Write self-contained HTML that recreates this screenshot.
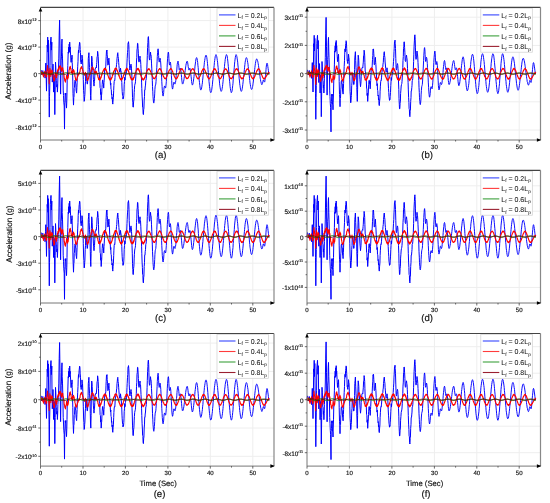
<!DOCTYPE html>
<html><head><meta charset="utf-8"><style>
html,body{margin:0;padding:0;background:#fff;}
svg{display:block;}
#wrap{width:550px;height:503px;}
text{font-family:"Liberation Sans",Arial,sans-serif;text-rendering:geometricPrecision;fill:#111;stroke:#111;stroke-width:0.15px;}
.gr{stroke:#eeeeee;stroke-width:1.0;}
.bl{fill:none;stroke:#0000ff;stroke-width:1.0;stroke-linejoin:round;}
.bl2{fill:none;stroke:#0000ff;stroke-width:0.95;stroke-linejoin:round;}
.rd{fill:none;stroke:#ff0000;stroke-width:1.1;stroke-linejoin:round;}
.gn{fill:none;stroke:#008000;stroke-width:0.9;}
.dr{fill:none;stroke:#600808;stroke-width:0.95;}
.lg{fill:#fff;stroke:#d0d0d0;stroke-width:0.7;}
.fr{stroke:#444;stroke-width:1.1;}
.fr2{stroke:#888;stroke-width:1.2;}
.ax{stroke:#777;stroke-width:1.0;}
.tk{stroke:#444;stroke-width:0.8;}
.tl{font-size:6.1px;}
.sp{font-size:3.8px;}
.yt{font-size:6.4px;}
.sb{font-size:4.8px;}
.lt{font-size:7px;stroke-width:0.05px;fill:#1a1a1a;}
.cap{font-size:9.6px;}
.yl{font-size:8.2px;}
.xl{font-size:7.7px;}
</style></head><body>
<div id="wrap"><svg width="550" height="503" viewBox="0 0 550 503">
<g>
<rect width="550" height="503" fill="#fff"/>
<line x1="83.0" y1="7.4" x2="83.0" y2="140.0" class="gr"/>
<line x1="125.4" y1="7.4" x2="125.4" y2="140.0" class="gr"/>
<line x1="167.9" y1="7.4" x2="167.9" y2="140.0" class="gr"/>
<line x1="210.3" y1="7.4" x2="210.3" y2="140.0" class="gr"/>
<line x1="252.8" y1="7.4" x2="252.8" y2="140.0" class="gr"/>
<line x1="40.5" y1="20.6" x2="274.0" y2="20.6" class="gr"/>
<line x1="40.5" y1="47.1" x2="274.0" y2="47.1" class="gr"/>
<line x1="40.5" y1="100.1" x2="274.0" y2="100.1" class="gr"/>
<line x1="40.5" y1="126.6" x2="274.0" y2="126.6" class="gr"/>
<path class="bl" d="M40.5 73.6L40.8 71.6L41.0 70.1L41.3 71.6L41.6 74.2L42.0 74.6L42.3 73.3L42.5 71.6L42.8 70.6L43.1 72.0L43.3 74.2L43.6 76.1L44.0 74.7L44.3 72.1L44.6 73.5L45.0 78.1L45.3 76.3L45.5 69.0L45.8 63.1L46.1 73.3L46.5 91.1L46.9 68.0L47.2 45.1L47.5 48.2L47.7 37.1L48.0 52.1L48.3 40.1L48.7 70.1L49.0 92.3L49.3 117.1L49.5 96.4L49.8 85.1L50.0 65.3L50.3 45.1L50.7 40.1L51.0 37.1L51.4 50.1L51.8 42.1L52.0 65.5L52.3 82.1L52.6 73.5L53.0 64.1L53.3 75.7L53.6 92.1L53.9 80.8L54.2 75.1L54.5 89.9L54.8 114.6L55.2 90.1L55.5 62.1L55.8 67.2L56.0 74.9L56.3 80.1L56.6 80.7L56.8 87.1L57.1 84.5L57.4 92.1L57.7 86.2L57.9 78.0L58.2 72.1L58.5 68.1L58.8 58.1L59.2 35.1L59.6 20.1L60.0 48.1L60.3 74.7L60.6 94.1L60.9 75.0L61.2 60.1L61.5 56.2L61.7 43.9L62.0 39.1L62.2 52.2L62.5 58.1L62.9 72.0L63.2 90.1L63.5 95.4L63.8 102.1L64.2 106.0L64.5 129.1L64.8 102.7L65.0 100.1L65.2 93.2L65.5 95.1L65.8 93.1L66.0 102.7L66.2 103.6L66.5 108.1L66.8 100.8L67.0 92.2L67.2 78.8L67.5 75.1L67.8 65.3L68.2 52.1L68.5 53.3L68.7 47.1L69.0 52.4L69.2 44.1L69.5 52.1L69.7 42.1L70.0 49.4L70.2 47.1L70.6 55.1L71.0 62.1L71.2 62.4L71.5 58.2L71.8 58.9L72.0 55.1L72.2 62.4L72.5 69.7L72.8 81.1L73.0 93.6L73.2 97.7L73.5 105.1L73.8 97.4L74.0 96.8L74.2 88.6L74.5 87.3L74.8 81.4L75.0 80.1L75.3 80.6L75.5 83.5L75.8 83.5L76.1 90.1L76.3 91.1L76.6 93.1L76.9 87.4L77.1 82.9L77.4 73.1L77.7 66.8L78.0 61.3L78.2 55.0L78.5 50.1L78.8 52.8L79.1 46.6L79.3 45.0L79.6 42.3L79.9 43.1L80.2 49.5L80.5 52.6L80.7 61.9L81.0 62.1L81.2 64.0L81.5 60.3L81.8 61.5L82.0 55.1L82.3 58.0L82.5 58.5L82.8 65.8L83.1 71.9L83.3 79.6L83.6 90.7L83.9 94.8L84.1 101.4L84.4 101.1L84.7 96.6L84.9 94.4L85.2 85.1L85.5 81.6L85.7 74.2L86.0 75.1L86.3 73.3L86.6 78.5L86.9 81.5L87.2 84.1L87.5 83.9L87.8 77.6L88.1 69.6L88.3 58.6L88.6 55.7L88.9 52.7L89.2 61.1L89.5 67.6L89.8 72.1L90.0 74.5L90.3 86.7L90.5 95.4L90.8 100.1L91.1 88.4L91.4 66.6L91.7 56.1L92.0 58.0L92.2 61.4L92.5 68.8L92.8 70.1L93.1 73.5L93.4 79.4L93.7 82.8L94.0 86.1L94.2 83.5L94.5 81.4L94.8 76.1L95.0 71.6L95.2 69.6L95.5 68.1L95.8 67.9L96.0 67.4L96.3 68.0L96.6 64.6L96.8 62.6L97.1 56.5L97.4 56.4L97.6 51.3L97.9 53.1L98.2 56.7L98.5 63.1L98.7 71.2L99.0 72.1L99.3 74.7L99.5 77.1L99.8 79.9L100.1 87.5L100.4 88.4L100.7 94.5L100.9 92.3L101.2 100.1L101.5 95.2L101.7 94.1L102.0 87.4L102.2 84.3L102.5 80.1L102.8 79.9L103.1 83.4L103.4 83.4L103.7 88.1L104.0 82.6L104.2 80.1L104.5 74.3L104.7 69.0L105.0 68.1L105.2 70.1L105.5 68.1L105.8 66.2L106.0 60.1L106.2 56.4L106.5 50.6L106.8 51.0L107.0 50.1L107.2 54.8L107.5 58.2L107.8 65.1L108.0 65.1L108.3 64.5L108.6 60.5L108.9 58.1L109.2 63.0L109.4 65.2L109.7 71.5L110.0 75.9L110.2 78.8L110.5 85.1L110.8 83.2L111.0 89.4L111.3 89.6L111.5 94.7L111.8 94.0L112.0 98.7L112.3 97.4L112.5 102.7L112.8 104.1L113.1 99.9L113.4 97.2L113.7 90.3L113.9 85.6L114.2 81.3L114.5 80.1L114.8 80.4L115.0 77.7L115.2 74.0L115.5 72.1L115.8 69.9L116.0 67.7L116.3 67.2L116.5 64.6L116.8 62.8L117.0 58.6L117.3 56.3L117.5 53.7L117.8 52.7L118.1 56.6L118.4 58.3L118.7 62.5L118.9 65.4L119.2 68.6L119.5 72.1L119.8 71.8L120.0 71.7L120.2 71.7L120.5 68.1L120.8 70.7L121.0 70.8L121.2 73.7L121.5 77.6L121.8 82.4L122.0 88.0L122.2 91.5L122.5 95.4L122.8 96.6L123.0 99.1L123.2 97.7L123.5 98.2L123.8 95.1L124.0 91.6L124.2 84.8L124.5 81.5L124.8 77.3L125.0 80.1L125.2 77.0L125.5 76.1L125.8 73.9L126.0 72.1L126.2 72.9L126.5 69.7L126.8 66.9L127.0 62.1L127.2 58.3L127.5 52.6L127.8 49.9L128.0 43.2L128.2 43.3L128.5 41.7L128.8 44.7L129.0 49.7L129.2 59.2L129.5 65.2L129.8 70.0L130.0 70.1L130.2 68.8L130.5 65.9L130.8 64.8L131.0 64.1L131.3 65.9L131.5 68.9L131.8 73.5L132.0 81.6L132.3 88.8L132.5 97.3L132.8 102.8L133.0 107.1L133.3 107.1L133.6 101.9L133.9 99.8L134.2 92.6L134.4 89.3L134.7 85.4L135.0 84.1L135.3 83.0L135.5 81.3L135.8 76.9L136.0 72.3L136.3 67.8L136.5 61.0L136.8 57.3L137.0 49.9L137.3 48.1L137.5 43.3L137.8 43.4L138.1 48.7L138.4 53.8L138.7 61.1L139.0 62.1L139.2 61.9L139.5 58.5L139.8 57.2L140.0 56.1L140.3 58.5L140.5 59.4L140.8 64.4L141.0 68.7L141.3 74.1L141.6 82.1L141.8 88.4L142.1 96.1L142.4 101.0L142.6 107.1L142.9 107.9L143.1 113.3L143.4 114.6L143.7 109.5L143.9 108.7L144.2 100.1L144.5 96.4L144.7 90.0L145.0 90.1L145.2 87.0L145.5 85.1L145.8 80.4L146.0 80.1L146.3 78.2L146.5 75.0L146.8 70.0L147.1 62.1L147.3 55.7L147.6 47.5L147.9 42.5L148.1 37.9L148.4 36.6L148.7 40.9L148.9 48.4L149.2 57.6L149.5 60.1L149.8 59.8L150.0 56.1L150.2 55.0L150.5 52.1L150.8 55.1L151.0 55.0L151.3 58.7L151.5 63.1L151.8 68.9L152.0 74.5L152.3 80.3L152.5 86.6L152.8 91.7"/>
<path class="bl2" d="M152.8 91.7L153.0 96.7L153.3 100.0L153.5 102.4L153.8 103.1L154.1 101.7L154.4 98.6L154.7 93.9L154.9 89.6L155.2 86.1L155.5 85.1L155.8 84.1L156.0 81.6L156.3 77.3L156.5 72.6L156.8 67.3L157.1 61.3L157.3 56.6L157.6 52.3L157.8 49.9L158.1 48.8L158.4 51.0L158.6 55.5L158.9 60.5L159.2 62.1L159.5 61.2L159.7 59.1L160.0 58.1L160.3 59.0L160.5 60.6L160.8 64.0L161.0 67.6L161.3 72.5L161.6 77.1L161.8 81.7L162.1 86.6L162.3 90.3L162.6 93.6L162.8 95.3L163.1 96.1L163.4 94.8L163.7 92.6L163.9 89.4L164.2 87.1L164.5 86.1L164.8 86.1L165.0 87.1L165.2 87.4L165.5 88.1L165.8 87.2L166.0 85.2L166.3 81.7L166.6 77.6L166.8 73.0L167.1 67.5L167.3 62.9L167.6 58.3L167.9 55.1L168.1 52.8L168.4 52.1L168.7 54.1L168.9 58.6L169.2 63.3L169.5 65.1L169.8 64.7L170.0 62.9L170.3 62.1L170.6 63.5L170.9 66.1L171.1 70.6L171.4 75.6L171.7 80.4L171.9 85.1L172.2 87.7L172.5 89.1L172.8 88.3L173.0 87.4L173.2 85.4L173.5 83.9L173.8 82.3L174.0 82.1L174.2 82.3L174.5 83.1L174.8 83.7L175.0 84.1L175.2 83.3L175.5 82.6L175.8 80.4L176.0 78.4L176.2 75.3L176.5 72.6L176.8 70.0L177.0 66.9L177.2 64.7L177.5 62.6L177.8 61.9L178.0 61.1L178.2 62.1L178.5 63.4L178.8 65.8L179.0 67.9L179.2 69.7L179.5 70.1L179.8 69.8L180.0 68.6L180.3 68.1L180.6 68.8L180.8 70.0L181.1 72.4L181.3 74.7L181.6 77.3L181.8 80.1L182.1 82.0L182.3 83.6L182.6 84.1L182.9 83.8L183.1 83.4L183.4 82.2L183.6 81.4L183.9 79.8L184.1 78.4L184.4 76.3L184.6 74.6L184.9 72.9L185.2 70.6L185.4 69.0L185.7 66.9L185.9 65.4L186.2 63.8L186.4 63.0L186.7 61.8L186.9 61.5L187.2 61.1L187.5 61.8L187.7 62.8L188.0 64.9L188.2 66.6L188.5 68.5L188.7 69.7L189.0 70.1L189.3 69.8L189.5 68.6L189.8 68.1L190.1 68.7L190.3 69.7L190.6 71.7L190.8 74.0L191.1 76.3L191.4 79.2L191.6 81.4L191.9 83.5L192.1 84.4L192.4 85.1L192.7 84.5L192.9 84.1L193.2 82.5L193.4 81.1L193.7 78.8L194.0 76.6L194.2 73.8L194.5 71.4L194.8 68.9L195.0 66.1L195.3 64.0L195.6 61.6L195.8 60.0L196.1 58.6L196.3 58.1L196.6 57.6L196.9 58.1L197.1 58.8L197.4 60.5L197.7 62.4L197.9 65.2L198.2 67.6L198.4 70.9L198.7 73.9L199.0 76.8L199.2 80.1L199.5 82.6L199.8 85.3L200.0 87.0L200.3 88.9L200.5 89.6L200.8 90.1L201.1 89.6L201.3 89.2L201.6 87.9L201.8 86.8L202.1 84.7L202.4 82.9L202.6 80.2L202.9 78.0L203.1 75.1L203.4 72.6L203.7 70.1L203.9 67.2L204.2 64.9L204.4 62.3L204.7 60.6L205.0 58.4L205.2 57.3L205.5 56.0L205.7 55.7L206.0 55.1L206.3 55.7L206.5 56.1L206.8 57.5L207.0 59.1L207.3 61.4L207.5 63.6L207.8 66.7L208.0 69.3L208.3 72.7L208.5 75.5L208.8 78.4L209.0 81.5L209.3 84.0L209.5 86.6L209.8 88.5L210.0 90.4L210.3 91.6L210.5 92.4L210.8 92.7L211.1 92.3L211.3 91.8L211.6 90.5L211.8 89.1L212.1 86.8L212.4 84.8L212.6 82.0L212.9 79.5L213.1 76.3L213.4 73.7L213.7 70.8L213.9 67.8L214.2 65.3L214.4 62.5L214.7 60.5L215.0 58.2L215.2 56.8L215.5 55.5L215.7 55.2L216.0 54.6L216.3 55.2L216.5 55.5L216.8 56.8L217.0 58.1L217.3 60.4L217.6 62.2L217.8 64.9L218.1 67.3L218.3 70.4L218.6 73.0L218.9 75.5L219.1 78.7L219.4 81.0L219.6 83.8L219.9 85.9L220.2 87.9L220.4 89.2L220.7 90.5L220.9 90.9L221.2 91.4L221.5 91.0L221.7 90.6L222.0 89.4L222.2 88.2L222.5 86.3L222.7 84.5L223.0 81.9L223.2 79.7L223.5 77.0L223.7 74.4L224.0 71.9L224.2 68.9L224.5 66.5L224.7 63.8L225.0 61.6L225.2 59.5L225.5 58.0L225.7 56.4L226.0 55.7L226.2 54.8L226.5 54.6L226.8 55.1L227.0 55.6L227.3 57.0L227.5 58.6L227.8 61.1L228.0 63.2L228.3 66.3L228.6 69.0L228.8 72.5L229.1 75.2L229.3 78.2L229.6 81.3L229.9 83.9L230.1 86.6L230.4 88.6L230.6 90.4L230.9 91.3L231.1 92.4L231.4 92.7L231.7 92.2L231.9 91.6L232.2 90.0L232.4 88.2L232.7 85.7L233.0 83.2L233.2 79.8L233.5 77.0L233.8 73.3L234.0 70.3L234.3 67.3L234.5 64.1L234.8 61.5L235.1 59.1L235.3 57.5L235.6 55.7L235.8 55.2L236.1 54.6L236.4 55.1L236.6 55.5L236.9 56.7L237.1 58.1L237.4 60.1L237.7 62.2L237.9 65.0L238.2 67.3L238.4 70.3L238.7 73.0L239.0 75.8L239.2 78.7L239.5 81.0L239.7 83.8L240.0 85.7L240.3 87.9L240.5 89.1L240.8 90.5L241.0 91.0L241.3 91.4L241.6 90.8L241.8 90.6L242.1 89.4L242.3 88.2L242.6 86.1L242.8 84.4L243.1 81.9L243.3 79.7L243.6 76.9L243.9 74.5L244.1 72.1L244.4 69.3L244.6 67.2L244.9 64.6L245.1 62.7L245.4 60.8L245.6 59.6L245.9 58.4L246.1 58.1L246.4 57.6L246.7 58.0L246.9 58.4L247.2 59.5L247.4 60.6L247.7 62.4L248.0 64.2L248.2 66.4L248.5 68.6L248.7 71.2L249.0 73.6L249.3 75.9L249.5 78.5L249.8 80.6L250.0 82.9L250.3 84.5L250.6 86.5L250.8 87.6L251.1 88.7L251.3 89.1L251.6 89.5L251.9 89.2L252.1 88.8L252.4 87.6L252.6 86.6L252.9 84.9L253.1 83.2L253.4 81.0L253.6 78.9L253.9 76.5L254.1 74.2L254.4 72.1L254.7 69.5L254.9 67.5L255.2 65.2L255.4 63.5L255.7 61.8L255.9 60.8L256.2 59.6L256.4 59.5L256.7 58.9L257.0 59.2L257.2 59.5L257.5 60.5L257.7 61.1L258.0 62.6L258.2 63.7L258.5 65.6L258.7 67.1L259.0 69.2L259.2 70.8L259.5 72.9L259.7 74.6L260.0 76.2L260.2 78.2L260.5 79.5L260.7 81.2L261.0 82.0L261.2 83.3L261.5 83.8L261.7 84.5L262.0 84.6L262.2 83.9L262.5 83.5L262.8 82.0L263.0 81.2L263.2 80.1L263.5 80.1L263.8 80.2L264.0 81.1L264.2 81.6L264.5 82.1L264.8 81.5L265.0 80.3L265.2 78.0L265.5 75.5L265.8 72.7L266.0 69.7L266.2 67.3L266.5 64.9L266.8 63.7L267.0 63.1L267.3 63.6L267.6 64.6L267.8 66.5L268.1 68.4L268.4 70.7L268.6 72.1L268.9 73.6L269.2 73.6"/>
<path class="rd" d="M40.5 74.3L40.8 72.6L41.1 74.0L41.4 71.9L41.7 73.7L42.0 72.1L42.3 73.3L42.6 72.4L42.9 75.2L43.2 74.7L43.5 77.0L43.8 74.3L44.1 75.5L44.4 72.1L44.7 73.0L45.0 71.0L45.3 73.4L45.6 73.1L46.0 77.2L46.3 76.0L46.6 76.6L46.9 71.4L47.2 69.3L47.5 65.6L47.8 68.8L48.2 70.6L48.5 73.9L48.9 76.7L49.2 83.7L49.5 73.6L49.9 68.2L50.3 70.0L50.8 76.4L51.1 73.7L51.4 74.0L51.7 70.0L52.0 71.9L52.3 70.6L52.6 73.0L52.9 73.9L53.3 78.1L53.6 77.9L53.9 81.1L54.2 79.9L54.5 80.5L54.9 76.3L55.2 75.4L55.5 72.6L55.8 75.3L56.2 74.5L56.5 77.7L56.8 74.6L57.1 75.4L57.4 70.6L57.7 71.3L58.0 69.0L58.3 70.7L58.7 67.6L59.0 69.5L59.3 66.5L59.6 67.9L60.0 65.6L60.3 67.3L60.6 66.2L61.0 70.2L61.3 70.1L61.7 71.4L62.0 67.7L62.4 69.1L62.7 67.7L63.0 70.6L63.3 70.6L63.6 73.6L63.9 73.7L64.2 78.1L64.5 78.1L64.8 80.9L65.1 80.3L65.4 82.2L65.8 79.2L66.2 79.0L66.6 75.2L66.9 78.0L67.3 76.7L67.6 79.3L67.9 77.7L68.2 77.9L68.5 74.6L68.8 73.5L69.1 69.8L69.4 69.8L69.7 67.0L70.0 67.6L70.3 66.2L70.7 69.2L71.0 68.5L71.3 72.5L71.7 71.4L72.0 73.5L72.3 71.5L72.6 73.0L72.9 70.3L73.2 71.8L73.5 69.6L73.8 72.2L74.1 70.8L74.4 73.8L74.7 73.8L75.0 76.6L75.3 77.3L75.6 79.9L75.9 79.2L76.2 80.7L76.5 79.6L76.8 79.9L77.1 77.8L77.4 77.7L77.8 75.6L78.1 75.9L78.4 74.1L78.7 74.5L79.0 73.0L79.3 74.0L79.7 71.9L80.0 71.9L80.3 69.0L80.6 68.8L81.0 67.3L81.3 68.0L81.6 66.6L81.9 68.4L82.3 68.2L82.6 70.5L82.9 70.5L83.2 72.6L83.5 72.6L83.9 74.4L84.2 73.8L84.5 75.1L84.8 73.6L85.2 73.9L85.5 72.3L85.8 73.7L86.2 73.7L86.5 76.8L86.9 77.8L87.2 80.4L87.6 79.7L87.9 80.2L88.2 78.6L88.5 78.8L88.8 76.5L89.1 76.1L89.4 74.1L89.7 74.6L90.0 73.1L90.3 74.2L90.6 72.3L90.9 72.1L91.2 69.8L91.6 70.1L91.9 67.7L92.2 68.0L92.5 67.0L92.8 68.1L93.1 67.7L93.4 69.7L93.8 69.2L94.1 71.3L94.4 71.4L94.7 73.2L95.0 71.9L95.3 73.1L95.7 71.4L96.0 72.0L96.3 71.3L96.7 73.1L97.0 72.8L97.3 74.9L97.7 75.1L98.0 77.4L98.3 77.4L98.6 79.7L99.0 79.0L99.3 79.9L99.6 78.7L99.9 80.1L100.2 78.0L100.5 78.9L100.8 76.8L101.1 77.7L101.4 75.6L101.7 75.8L102.0 73.3L102.3 73.8L102.7 71.6L103.0 71.8L103.3 70.1L103.6 70.3L103.9 69.0L104.2 69.6L104.5 68.2L104.8 69.4L105.1 68.4L105.4 69.8L105.7 68.6L106.0 70.7L106.3 69.7L106.6 72.2L106.9 71.6L107.2 73.4L107.5 73.4L107.8 75.4L108.1 75.5L108.5 77.5L108.8 77.0L109.1 78.8L109.4 78.0L109.7 79.9L110.0 79.0L110.3 80.0L110.6 78.7L110.9 79.8L111.2 78.1L111.5 78.8L111.8 77.2L112.1 77.5L112.4 75.2L112.7 75.4L113.0 73.3L113.3 74.0L113.6 71.4L113.9 72.1L114.2 70.3L114.5 70.6L114.9 68.5L115.2 69.2L115.5 68.2L115.8 69.0L116.1 68.1L116.4 69.5L116.7 68.8L117.0 70.6L117.3 70.3L117.6 71.7L117.9 71.9L118.2 73.5L118.5 73.8L118.8 75.9L119.1 75.2L119.4 77.2L119.7 77.0L120.0 78.8L120.3 78.4L120.6 79.8L121.0 78.8L121.3 80.2L121.6 79.0L121.9 79.7L122.2 78.4L122.5 78.7L122.8 77.1L123.1 77.6L123.4 75.6L123.7 75.5L124.0 73.9L124.3 73.8L124.6 71.8L124.9 72.3L125.2 70.3L125.5 70.9L125.8 69.0L126.1 69.8L126.4 68.5L126.8 69.5L127.1 68.3L127.4 69.8L127.7 68.9L128.0 70.7L128.3 70.4L128.6 72.2L128.9 71.7L129.2 73.6L129.5 73.7L129.8 75.7L130.1 75.3L130.4 77.8L130.7 77.2L131.0 79.2L131.3 78.1L131.6 79.7L131.9 79.0L132.2 79.9L132.5 78.7L132.9 80.0L133.2 78.1L133.5 79.1L133.8 77.0L134.1 77.7L134.4 75.5L134.7 75.5L135.0 73.6L135.3 73.6L135.6 72.1L135.9 72.3L136.2 70.5L136.5 70.5L136.8 69.3L137.1 70.0L137.4 68.6L137.7 69.2L138.0 68.2L138.3 69.6L138.6 68.8L139.0 70.8L139.3 70.0L139.6 72.4L139.9 71.8L140.2 74.1L140.5 74.0L140.8 75.9L141.1 75.5L141.4 77.6L141.7 77.4L142.0 79.1L142.3 78.0L142.6 79.6L142.9 79.0L143.2 80.2L143.5 78.7L143.8 79.7L144.1 78.5L144.4 78.8L144.7 77.0L145.1 77.7L145.4 75.6L145.7 75.7L146.0 73.7L146.3 73.8L146.6 71.9L146.9 71.7L147.2 70.5L147.5 70.6L147.8 69.4L148.1 69.6L148.4 68.8L148.7 69.3L149.0 68.6L149.3 69.5L149.6 69.3L149.9 70.3L150.2 70.3L150.5 71.7L150.8 71.9L151.2 73.1L151.5 73.4L151.8 75.0L152.1 75.1L152.4 76.4L152.7 76.5L153.0 77.7L153.3 77.7L153.6 78.5L153.9 78.2L154.2 78.8L154.5 78.3L154.8 78.7L155.1 77.5L155.4 77.7L155.7 76.5L156.0 76.4L156.3 75.0L156.6 74.9L156.9 73.5L157.2 73.1L157.6 71.9L157.9 71.6L158.2 70.4L158.5 70.2L158.8 69.3L159.1 69.4L159.4 68.6L159.7 69.1L160.0 68.5L160.3 69.5L160.6 69.2L160.9 70.3L161.2 70.2L161.5 71.7L161.8 71.8L162.1 73.2L162.4 73.4L162.7 75.0L163.0 75.1L163.3 76.5L163.7 76.4L164.0 77.7L164.3 77.7L164.6 78.5L164.9 78.2L165.2 78.9L165.5 78.1L165.8 78.7L166.1 77.7L166.4 77.7L166.7 76.7L167.0 76.4L167.3 75.1L167.6 75.0L167.9 73.3L168.2 73.1L168.5 71.7L168.8 71.6L169.1 70.4L169.4 70.4L169.8 69.4L170.1 69.4L170.4 68.6L170.7 69.1L171.0 68.7L171.3 69.5L171.6 69.2L171.9 70.2L172.2 70.4L172.5 71.6L172.8 71.8L173.1 73.1L173.4 73.4L173.7 75.0L174.0 75.2L174.3 76.5L174.6 76.7L174.9 77.7L175.2 77.6L175.5 78.5L175.9 78.1L176.2 79.0L176.5 78.4L176.8 78.7L177.1 77.7L177.4 77.8L177.7 76.5L178.0 76.4L178.3 75.1L178.6 74.9L178.9 73.4L179.2 73.1L179.5 71.7L179.8 71.8L180.1 70.3L180.4 70.3L180.7 69.4L181.0 69.5L181.3 68.7L181.6 69.3L182.0 68.6L182.3 69.5L182.6 69.4L182.9 70.4L183.2 70.3L183.5 71.5L183.8 71.7L184.1 73.2L184.4 73.6L184.7 75.0L185.0 75.2L185.3 76.4L185.6 76.5L185.9 77.8L186.2 77.6L186.5 78.6L186.8 78.2L187.1 78.8L187.4 78.3L187.7 78.5L188.1 77.6L188.4 77.8L188.7 76.6L189.0 76.5L189.3 75.2L189.6 74.8L189.9 73.5L190.2 73.3L190.5 71.9L190.8 71.6L191.1 70.4L191.4 70.4L191.7 69.3L192.0 69.4L192.3 68.7L192.6 69.2L192.9 68.6L193.2 69.4L193.5 69.1L193.8 70.2L194.2 70.4L194.5 71.5L194.8 71.9L195.1 73.3L195.4 73.4L195.7 74.8L196.0 75.2L196.3 76.4L196.6 76.5L196.9 77.9L197.2 77.6L197.5 78.6L197.8 78.3L198.1 78.9L198.4 78.3L198.7 78.6L199.0 77.6L199.3 77.7L199.6 76.7L199.9 76.6L200.3 75.3L200.6 75.0L200.9 73.3L201.2 73.3L201.5 71.8L201.8 71.6L202.1 70.3L202.4 70.4L202.7 69.1L203.0 69.5L203.3 68.7L203.6 69.3L203.9 68.7L204.2 69.5L204.5 69.2L204.8 70.2L205.1 70.3L205.4 71.7L205.7 71.8L206.0 73.2L206.4 73.5L206.7 74.8L207.0 75.1L207.3 76.3L207.6 76.6L207.9 77.8L208.2 77.7L208.5 78.6L208.8 78.1L209.1 79.0L209.4 78.3L209.7 78.7L210.0 77.6L210.3 77.6L210.6 76.6L210.9 76.4L211.2 75.2L211.5 74.9L211.8 73.3L212.1 73.1L212.5 71.7L212.8 71.7L213.1 70.5L213.4 70.4L213.7 69.2L214.0 69.6L214.3 68.6L214.6 69.3L214.9 68.7L215.2 69.6L215.5 69.1L215.8 70.4L216.1 70.4L216.4 71.7L216.7 71.8L217.0 73.1L217.3 73.6L217.6 74.8L217.9 75.2L218.2 76.4L218.6 76.6L218.9 77.8L219.2 77.6L219.5 78.6L219.8 78.2L220.1 78.8L220.4 78.2L220.7 78.7L221.0 77.7L221.3 77.7L221.6 76.4L221.9 76.5L222.2 75.2L222.5 74.8L222.8 73.4L223.1 73.2L223.4 71.9L223.7 71.5L224.0 70.4L224.3 70.4L224.7 69.4L225.0 69.5L225.3 68.8L225.6 69.1L225.9 68.8L226.2 69.5L226.5 69.4L226.8 70.2L227.1 70.5L227.4 71.5L227.7 71.8L228.0 73.1L228.3 73.6L228.6 74.9L228.9 75.1L229.2 76.5L229.5 76.7L229.8 77.7L230.1 77.7L230.4 78.5L230.8 78.1L231.1 78.8L231.4 78.4L231.7 78.6L232.0 77.8L232.3 77.8L232.6 76.6L232.9 76.3L233.2 75.3L233.5 75.0L233.8 73.5L234.1 73.3L234.4 71.8L234.7 71.8L235.0 70.4L235.3 70.2L235.6 69.3L235.9 69.6L236.2 68.6L236.5 69.1L236.9 68.8L237.2 69.5L237.5 69.1L237.8 70.4L238.1 70.5L238.4 71.5L238.7 71.9L239.0 73.1L239.3 73.6L239.6 74.7L239.9 75.1L240.2 76.6L240.5 76.7L240.8 77.9L241.1 77.7L241.4 78.7L241.7 78.1L242.0 79.0L242.3 78.4L242.6 78.5L243.0 77.6L243.3 77.9L243.6 76.7L243.9 76.4L244.2 75.0L244.5 74.8L244.8 73.5L245.1 73.1L245.4 71.7L245.7 71.8L246.0 70.4L246.3 70.4L246.6 69.2L246.9 69.6L247.2 68.7L247.5 69.3L247.8 68.7L248.1 69.5L248.4 69.3L248.7 70.4L249.1 70.3L249.4 71.5L249.7 71.9L250.0 73.3L250.3 73.4L250.6 75.0L250.9 75.2L251.2 76.5L251.5 76.7L251.8 77.8L252.1 77.8L252.4 78.6L252.7 78.2L253.0 78.9L253.3 78.4L253.6 78.5L253.9 77.5L254.2 77.8L254.5 76.5L254.8 76.6L255.2 75.1L255.5 75.0L255.8 73.4L256.1 73.1L256.4 71.8L256.7 71.5L257.0 70.4L257.3 70.5L257.6 69.4L257.9 69.5L258.2 68.8L258.5 69.1L258.8 68.6L259.1 69.4L259.4 69.4L259.7 70.2L260.0 70.3L260.3 71.6L260.6 72.0L260.9 73.1L261.3 73.3L261.6 74.8L261.9 75.1L262.2 76.4L262.5 76.5L262.8 77.8L263.1 77.6L263.4 78.6L263.7 78.3L264.0 78.8L264.3 78.4L264.6 78.8L264.9 78.0L265.2 78.0L265.6 77.0L265.9 77.1L266.2 76.0L266.5 76.0L266.8 75.0L267.1 75.0L267.4 73.9L267.7 74.1L268.1 73.0L268.4 73.4L268.7 72.4L269.0 72.9L269.3 72.3"/>
<path class="gn" d="M40.5 73.4L40.9 73.2L41.3 73.0L41.7 72.9L42.1 72.8L42.5 72.7L42.9 72.7L43.3 72.7L43.7 72.8L44.1 72.9L44.5 73.0L44.9 73.2L45.3 73.4L45.7 73.6L46.1 73.7L46.5 73.9L46.9 74.1L47.3 74.3L47.7 74.4L48.1 74.5L48.5 74.5L48.9 74.5L49.3 74.5L49.7 74.4L50.1 74.3L50.5 74.1L50.9 73.9L51.3 73.7L51.7 73.6L52.1 73.4L52.5 73.2L52.9 73.0L53.3 72.9L53.7 72.8L54.1 72.7L54.5 72.7L54.9 72.7L55.3 72.8L55.7 72.9L56.1 73.0L56.5 73.2L56.9 73.4L57.3 73.6L57.7 73.7L58.1 73.9L58.5 74.1L58.9 74.3L59.3 74.4L59.7 74.5L60.1 74.5L60.5 74.5L60.9 74.5L61.3 74.4L61.7 74.3L62.1 74.1L62.5 73.9L62.9 73.7L63.3 73.6L63.7 73.4L64.1 73.2L64.5 73.0L64.9 72.9L65.3 72.8L65.7 72.7L66.1 72.7L66.5 72.7L66.9 72.8L67.3 72.9L67.7 73.0L68.1 73.2L68.5 73.4L68.9 73.6L69.3 73.7L69.7 73.9L70.1 74.1L70.5 74.3L70.9 74.4L71.3 74.5L71.7 74.5L72.1 74.5L72.5 74.5L72.9 74.4L73.3 74.3L73.7 74.1L74.1 73.9L74.5 73.7L74.9 73.6L75.3 73.4L75.7 73.3L76.1 73.2L76.5 73.1L76.9 73.1L77.3 73.0L77.7 73.0L78.1 73.0L78.5 73.1L78.9 73.1L79.3 73.2L79.7 73.3L80.1 73.4L80.5 73.6L80.9 73.7L81.3 73.8L81.7 73.9L82.1 74.0L82.5 74.1L82.9 74.2L83.3 74.2L83.7 74.2L84.1 74.2L84.5 74.1L84.9 74.0L85.3 73.9L85.7 73.8L86.1 73.7L86.5 73.6L86.9 73.4L87.3 73.3L87.7 73.2L88.1 73.1L88.5 73.1L88.9 73.0L89.3 73.0L89.7 73.0L90.1 73.1L90.5 73.1L90.9 73.2L91.3 73.3L91.7 73.4L92.1 73.6L92.5 73.7L92.9 73.8L93.3 73.9L93.7 74.0L94.1 74.1L94.5 74.2L94.9 74.2L95.3 74.2L95.7 74.2L96.1 74.1L96.5 74.0L96.9 73.9L97.3 73.8L97.7 73.7L98.1 73.6L98.5 73.4L98.9 73.3L99.3 73.2L99.7 73.1L100.1 73.1L100.5 73.0L100.9 73.0L101.3 73.0L101.7 73.1L102.1 73.1L102.5 73.2L102.9 73.3L103.3 73.4L103.7 73.6L104.1 73.7L104.5 73.8L104.9 73.9L105.3 74.0L105.7 74.1L106.1 74.2L106.5 74.2L106.9 74.2L107.3 74.2L107.7 74.1L108.1 74.0L108.5 73.9L108.9 73.8L109.3 73.7L109.7 73.6L110.1 73.4L110.5 73.3L110.9 73.2L111.3 73.1L111.7 73.1L112.1 73.0L112.5 73.0L112.9 73.0L113.3 73.1L113.7 73.1L114.1 73.2L114.5 73.3L114.9 73.4L115.3 73.6L115.7 73.7L116.1 73.8L116.5 73.9L116.9 74.0L117.3 74.1L117.7 74.2L118.1 74.2L118.5 74.2L118.9 74.2L119.3 74.1L119.7 74.0L120.1 73.9L120.5 73.8L120.9 73.7L121.3 73.6L121.7 73.4L122.1 73.3L122.5 73.2L122.9 73.1L123.3 73.1L123.7 73.0L124.1 73.0L124.5 73.0L124.9 73.1L125.3 73.1L125.7 73.2L126.1 73.3L126.5 73.4L126.9 73.6L127.3 73.7L127.7 73.8L128.1 73.9L128.5 74.0L128.9 74.1L129.3 74.2L129.7 74.2L130.1 74.2L130.5 74.2L130.9 74.1L131.3 74.0L131.7 73.9L132.1 73.8L132.5 73.7L132.9 73.6L133.3 73.4L133.7 73.3L134.1 73.2L134.5 73.1L134.9 73.1L135.3 73.0L135.7 73.0L136.1 73.0L136.5 73.1L136.9 73.1L137.3 73.2L137.7 73.3L138.1 73.4L138.5 73.6L138.9 73.7L139.3 73.8L139.7 73.9L140.1 74.0L140.5 74.1L140.9 74.2L141.3 74.2L141.7 74.2L142.1 74.2L142.5 74.1L142.9 74.0L143.3 73.9L143.7 73.8L144.1 73.7L144.5 73.6L144.9 73.4L145.3 73.3L145.7 73.2L146.1 73.1L146.5 73.1L146.9 73.0L147.3 73.0L147.7 73.0L148.1 73.1L148.5 73.1L148.9 73.2L149.3 73.3L149.7 73.4L150.1 73.6L150.5 73.7L150.9 73.8L151.3 73.9L151.7 74.0L152.1 74.1L152.5 74.2L152.9 74.2L153.3 74.2L153.7 74.2L154.1 74.1L154.5 74.0L154.9 73.9L155.3 73.8L155.7 73.7L156.1 73.6L156.5 73.4L156.9 73.3L157.3 73.2L157.7 73.1L158.1 73.1L158.5 73.0L158.9 73.0L159.3 73.0L159.7 73.1L160.1 73.1L160.5 73.2L160.9 73.3L161.3 73.4L161.7 73.6L162.1 73.7L162.5 73.8L162.9 73.9L163.3 74.0L163.7 74.1L164.1 74.2L164.5 74.2L164.9 74.2L165.3 74.2L165.7 74.1L166.1 74.0L166.5 73.9L166.9 73.8L167.3 73.7L167.7 73.6L168.1 73.4L168.5 73.3L168.9 73.2L169.3 73.1L169.7 73.1L170.1 73.0L170.5 73.0L170.9 73.0L171.3 73.1L171.7 73.1L172.1 73.2L172.5 73.3L172.9 73.4L173.3 73.6L173.7 73.7L174.1 73.8L174.5 73.9L174.9 74.0L175.3 74.1L175.7 74.2L176.1 74.2L176.5 74.2L176.9 74.2L177.3 74.1L177.7 74.0L178.1 73.9L178.5 73.8L178.9 73.7L179.3 73.6L179.7 73.4L180.1 73.3L180.5 73.2L180.9 73.1L181.3 73.1L181.7 73.0L182.1 73.0L182.5 73.0L182.9 73.1L183.3 73.1L183.7 73.2L184.1 73.3L184.5 73.4L184.9 73.6L185.3 73.7L185.7 73.8L186.1 73.9L186.5 74.0L186.9 74.1L187.3 74.2L187.7 74.2L188.1 74.2L188.5 74.2L188.9 74.1L189.3 74.0L189.7 73.9L190.1 73.8L190.5 73.7L190.9 73.6L191.3 73.4L191.7 73.3L192.1 73.2L192.5 73.1L192.9 73.1L193.3 73.0L193.7 73.0L194.1 73.0L194.5 73.1L194.9 73.1L195.3 73.2L195.7 73.3L196.1 73.4L196.5 73.6L196.9 73.7L197.3 73.8L197.7 73.9L198.1 74.0L198.5 74.1L198.9 74.2L199.3 74.2L199.7 74.2L200.1 74.2L200.5 74.1L200.9 74.0L201.3 73.9L201.7 73.8L202.1 73.7L202.5 73.6L202.9 73.4L203.3 73.3L203.7 73.2L204.1 73.1L204.5 73.1L204.9 73.0L205.3 73.0L205.7 73.0L206.1 73.1L206.5 73.1L206.9 73.2L207.3 73.3L207.7 73.4L208.1 73.6L208.5 73.7L208.9 73.8L209.3 73.9L209.7 74.0L210.1 74.1L210.5 74.2L210.9 74.2L211.3 74.2L211.7 74.2L212.1 74.1L212.5 74.0L212.9 73.9L213.3 73.8L213.7 73.7L214.1 73.6L214.5 73.4L214.9 73.3L215.3 73.2L215.7 73.1L216.1 73.1L216.5 73.0L216.9 73.0L217.3 73.0L217.7 73.1L218.1 73.1L218.5 73.2L218.9 73.3L219.3 73.4L219.7 73.6L220.1 73.7L220.5 73.8L220.9 73.9L221.3 74.0L221.7 74.1L222.1 74.2L222.5 74.2L222.9 74.2L223.3 74.2L223.7 74.1L224.1 74.0L224.5 73.9L224.9 73.8L225.3 73.7L225.7 73.6L226.1 73.4L226.5 73.3L226.9 73.2L227.3 73.1L227.7 73.1L228.1 73.0L228.5 73.0L228.9 73.0L229.3 73.1L229.7 73.1L230.1 73.2L230.5 73.3L230.9 73.4L231.3 73.6L231.7 73.7L232.1 73.8L232.5 73.9L232.9 74.0L233.3 74.1L233.7 74.2L234.1 74.2L234.5 74.2L234.9 74.2L235.3 74.1L235.7 74.0L236.1 73.9L236.5 73.8L236.9 73.7L237.3 73.6L237.7 73.4L238.1 73.3L238.5 73.2L238.9 73.1L239.3 73.1L239.7 73.0L240.1 73.0L240.5 73.0L240.9 73.1L241.3 73.1L241.7 73.2L242.1 73.3L242.5 73.4L242.9 73.6L243.3 73.7L243.7 73.8L244.1 73.9L244.5 74.0L244.9 74.1L245.3 74.2L245.7 74.2L246.1 74.2L246.5 74.2L246.9 74.1L247.3 74.0L247.7 73.9L248.1 73.8L248.5 73.7L248.9 73.6L249.3 73.4L249.7 73.3L250.1 73.2L250.5 73.1L250.9 73.1L251.3 73.0L251.7 73.0L252.1 73.0L252.5 73.1L252.9 73.1L253.3 73.2L253.7 73.3L254.1 73.4L254.5 73.6L254.9 73.7L255.3 73.8L255.7 73.9L256.1 74.0L256.5 74.1L256.9 74.2L257.3 74.2L257.7 74.2L258.1 74.2L258.5 74.1L258.9 74.0L259.3 73.9L259.7 73.8L260.1 73.7L260.5 73.6L260.9 73.4L261.3 73.3L261.7 73.2L262.1 73.1L262.5 73.1L262.9 73.0L263.3 73.0L263.7 73.0L264.1 73.1L264.5 73.1L264.9 73.2L265.3 73.3L265.7 73.4L266.1 73.6L266.5 73.7L266.9 73.8L267.3 73.9L267.7 74.0L268.1 74.1L268.5 74.2L268.9 74.2L269.3 74.2"/>
<path class="dr" d="M40.5 74.3L40.9 74.3L41.3 74.2L41.7 74.1L42.1 73.9L42.5 73.8L42.9 73.6L43.3 73.5L43.7 73.3L44.1 73.2L44.5 73.1L44.9 73.0L45.3 72.9L45.7 72.9L46.1 72.9L46.5 72.9L46.9 72.9L47.3 73.0L47.7 73.1L48.1 73.2L48.5 73.4L48.9 73.5L49.3 73.7L49.7 73.8L50.1 74.0L50.5 74.1L50.9 74.2L51.3 74.3L51.7 74.3L52.1 74.3L52.5 74.3L52.9 74.3L53.3 74.2L53.7 74.1L54.1 74.0L54.5 73.9L54.9 73.7L55.3 73.6L55.7 73.4L56.1 73.3L56.5 73.1L56.9 73.0L57.3 72.9L57.7 72.9L58.1 72.9L58.5 72.9L58.9 72.9L59.3 73.0L59.7 73.0L60.1 73.2L60.5 73.3L60.9 73.4L61.3 73.6L61.7 73.8L62.1 73.9L62.5 74.0L62.9 74.2L63.3 74.2L63.7 74.3L64.1 74.3L64.5 74.3L64.9 74.3L65.3 74.3L65.7 74.2L66.1 74.1L66.5 73.9L66.9 73.8L67.3 73.6L67.7 73.5L68.1 73.3L68.5 73.2L68.9 73.1L69.3 73.0L69.7 72.9L70.1 72.9L70.5 72.9L70.9 72.9L71.3 72.9L71.7 73.0L72.1 73.1L72.5 73.2L72.9 73.4L73.3 73.5L73.7 73.7L74.1 73.8L74.5 73.8L74.9 73.9L75.3 74.0L75.7 74.0L76.1 74.0L76.5 74.0L76.9 74.0L77.3 74.0L77.7 74.0L78.1 73.9L78.5 73.8L78.9 73.8L79.3 73.7L79.7 73.6L80.1 73.5L80.5 73.4L80.9 73.3L81.3 73.3L81.7 73.2L82.1 73.2L82.5 73.2L82.9 73.2L83.3 73.2L83.7 73.2L84.1 73.3L84.5 73.3L84.9 73.4L85.3 73.5L85.7 73.6L86.1 73.7L86.5 73.8L86.9 73.9L87.3 73.9L87.7 74.0L88.1 74.0L88.5 74.0L88.9 74.0L89.3 74.0L89.7 74.0L90.1 73.9L90.5 73.9L90.9 73.8L91.3 73.7L91.7 73.6L92.1 73.5L92.5 73.4L92.9 73.4L93.3 73.3L93.7 73.2L94.1 73.2L94.5 73.2L94.9 73.2L95.3 73.2L95.7 73.2L96.1 73.2L96.5 73.3L96.9 73.4L97.3 73.5L97.7 73.6L98.1 73.6L98.5 73.7L98.9 73.8L99.3 73.9L99.7 74.0L100.1 74.0L100.5 74.0L100.9 74.0L101.3 74.0L101.7 74.0L102.1 74.0L102.5 73.9L102.9 73.8L103.3 73.8L103.7 73.7L104.1 73.6L104.5 73.5L104.9 73.4L105.3 73.3L105.7 73.3L106.1 73.2L106.5 73.2L106.9 73.2L107.3 73.2L107.7 73.2L108.1 73.2L108.5 73.3L108.9 73.3L109.3 73.4L109.7 73.5L110.1 73.6L110.5 73.7L110.9 73.8L111.3 73.9L111.7 73.9L112.1 74.0L112.5 74.0L112.9 74.0L113.3 74.0L113.7 74.0L114.1 74.0L114.5 73.9L114.9 73.9L115.3 73.8L115.7 73.7L116.1 73.6L116.5 73.5L116.9 73.4L117.3 73.4L117.7 73.3L118.1 73.2L118.5 73.2L118.9 73.2L119.3 73.2L119.7 73.2L120.1 73.2L120.5 73.2L120.9 73.3L121.3 73.4L121.7 73.5L122.1 73.6L122.5 73.6L122.9 73.7L123.3 73.8L123.7 73.9L124.1 74.0L124.5 74.0L124.9 74.0L125.3 74.0L125.7 74.0L126.1 74.0L126.5 74.0L126.9 73.9L127.3 73.8L127.7 73.8L128.1 73.7L128.5 73.6L128.9 73.5L129.3 73.4L129.7 73.3L130.1 73.3L130.5 73.2L130.9 73.2L131.3 73.2L131.7 73.2L132.1 73.2L132.5 73.2L132.9 73.3L133.3 73.3L133.7 73.4L134.1 73.5L134.5 73.6L134.9 73.7L135.3 73.8L135.7 73.9L136.1 73.9L136.5 74.0L136.9 74.0L137.3 74.0L137.7 74.0L138.1 74.0L138.5 74.0L138.9 73.9L139.3 73.9L139.7 73.8L140.1 73.7L140.5 73.6L140.9 73.5L141.3 73.4L141.7 73.4L142.1 73.3L142.5 73.2L142.9 73.2L143.3 73.2L143.7 73.2L144.1 73.2L144.5 73.2L144.9 73.2L145.3 73.3L145.7 73.4L146.1 73.5L146.5 73.6L146.9 73.6L147.3 73.7L147.7 73.8L148.1 73.9L148.5 74.0L148.9 74.0L149.3 74.0L149.7 74.0L150.1 74.0L150.5 74.0L150.9 74.0L151.3 73.9L151.7 73.8L152.1 73.8L152.5 73.7L152.9 73.6L153.3 73.5L153.7 73.4L154.1 73.3L154.5 73.3L154.9 73.2L155.3 73.2L155.7 73.2L156.1 73.2L156.5 73.2L156.9 73.2L157.3 73.3L157.7 73.3L158.1 73.4L158.5 73.5L158.9 73.6L159.3 73.7L159.7 73.8L160.1 73.9L160.5 73.9L160.9 74.0L161.3 74.0L161.7 74.0L162.1 74.0L162.5 74.0L162.9 74.0L163.3 73.9L163.7 73.9L164.1 73.8L164.5 73.7L164.9 73.6L165.3 73.5L165.7 73.4L166.1 73.4L166.5 73.3L166.9 73.2L167.3 73.2L167.7 73.2L168.1 73.2L168.5 73.2L168.9 73.2L169.3 73.2L169.7 73.3L170.1 73.4L170.5 73.5L170.9 73.6L171.3 73.6L171.7 73.7L172.1 73.8L172.5 73.9L172.9 74.0L173.3 74.0L173.7 74.0L174.1 74.0L174.5 74.0L174.9 74.0L175.3 74.0L175.7 73.9L176.1 73.8L176.5 73.8L176.9 73.7L177.3 73.6L177.7 73.5L178.1 73.4L178.5 73.3L178.9 73.3L179.3 73.2L179.7 73.2L180.1 73.2L180.5 73.2L180.9 73.2L181.3 73.2L181.7 73.3L182.1 73.3L182.5 73.4L182.9 73.5L183.3 73.6L183.7 73.7L184.1 73.8L184.5 73.9L184.9 73.9L185.3 74.0L185.7 74.0L186.1 74.0L186.5 74.0L186.9 74.0L187.3 74.0L187.7 73.9L188.1 73.9L188.5 73.8L188.9 73.7L189.3 73.6L189.7 73.5L190.1 73.4L190.5 73.4L190.9 73.3L191.3 73.2L191.7 73.2L192.1 73.2L192.5 73.2L192.9 73.2L193.3 73.2L193.7 73.2L194.1 73.3L194.5 73.4L194.9 73.5L195.3 73.6L195.7 73.6L196.1 73.7L196.5 73.8L196.9 73.9L197.3 74.0L197.7 74.0L198.1 74.0L198.5 74.0L198.9 74.0L199.3 74.0L199.7 74.0L200.1 73.9L200.5 73.8L200.9 73.8L201.3 73.7L201.7 73.6L202.1 73.5L202.5 73.4L202.9 73.3L203.3 73.3L203.7 73.2L204.1 73.2L204.5 73.2L204.9 73.2L205.3 73.2L205.7 73.2L206.1 73.3L206.5 73.3L206.9 73.4L207.3 73.5L207.7 73.6L208.1 73.7L208.5 73.8L208.9 73.9L209.3 73.9L209.7 74.0L210.1 74.0L210.5 74.0L210.9 74.0L211.3 74.0L211.7 74.0L212.1 73.9L212.5 73.9L212.9 73.8L213.3 73.7L213.7 73.6L214.1 73.5L214.5 73.4L214.9 73.4L215.3 73.3L215.7 73.2L216.1 73.2L216.5 73.2L216.9 73.2L217.3 73.2L217.7 73.2L218.1 73.2L218.5 73.3L218.9 73.4L219.3 73.5L219.7 73.6L220.1 73.6L220.5 73.7L220.9 73.8L221.3 73.9L221.7 74.0L222.1 74.0L222.5 74.0L222.9 74.0L223.3 74.0L223.7 74.0L224.1 74.0L224.5 73.9L224.9 73.8L225.3 73.8L225.7 73.7L226.1 73.6L226.5 73.5L226.9 73.4L227.3 73.3L227.7 73.3L228.1 73.2L228.5 73.2L228.9 73.2L229.3 73.2L229.7 73.2L230.1 73.2L230.5 73.3L230.9 73.3L231.3 73.4L231.7 73.5L232.1 73.6L232.5 73.7L232.9 73.8L233.3 73.9L233.7 73.9L234.1 74.0L234.5 74.0L234.9 74.0L235.3 74.0L235.7 74.0L236.1 74.0L236.5 73.9L236.9 73.9L237.3 73.8L237.7 73.7L238.1 73.6L238.5 73.5L238.9 73.4L239.3 73.4L239.7 73.3L240.1 73.2L240.5 73.2L240.9 73.2L241.3 73.2L241.7 73.2L242.1 73.2L242.5 73.2L242.9 73.3L243.3 73.4L243.7 73.5L244.1 73.6L244.5 73.6L244.9 73.7L245.3 73.8L245.7 73.9L246.1 74.0L246.5 74.0L246.9 74.0L247.3 74.0L247.7 74.0L248.1 74.0L248.5 74.0L248.9 73.9L249.3 73.8L249.7 73.8L250.1 73.7L250.5 73.6L250.9 73.5L251.3 73.4L251.7 73.3L252.1 73.3L252.5 73.2L252.9 73.2L253.3 73.2L253.7 73.2L254.1 73.2L254.5 73.2L254.9 73.3L255.3 73.3L255.7 73.4L256.1 73.5L256.5 73.6L256.9 73.7L257.3 73.8L257.7 73.9L258.1 73.9L258.5 74.0L258.9 74.0L259.3 74.0L259.7 74.0L260.1 74.0L260.5 74.0L260.9 73.9L261.3 73.9L261.7 73.8L262.1 73.7L262.5 73.6L262.9 73.5L263.3 73.4L263.7 73.4L264.1 73.3L264.5 73.2L264.9 73.2L265.3 73.2L265.7 73.2L266.1 73.2L266.5 73.2L266.9 73.2L267.3 73.3L267.7 73.4L268.1 73.5L268.5 73.6L268.9 73.6L269.3 73.7"/>
<rect x="217.0" y="8.2" width="51.5" height="44" class="lg"/>
<line x1="219.0" y1="14.9" x2="235.5" y2="14.9" stroke="#3545ff" stroke-width="1.1"/>
<line x1="219.0" y1="25.4" x2="235.5" y2="25.4" stroke="#ff3c3c" stroke-width="1.1"/>
<line x1="219.0" y1="35.9" x2="235.5" y2="35.9" stroke="#3ca03c" stroke-width="1.1"/>
<line x1="219.0" y1="46.4" x2="235.5" y2="46.4" stroke="#9a2030" stroke-width="1.1"/>
<line x1="40.5" y1="7.4" x2="274.0" y2="7.4" class="fr"/>
<line x1="274.0" y1="7.4" x2="274.0" y2="140.0" class="fr2"/>
<line x1="40.5" y1="140.0" x2="274.0" y2="140.0" class="ax"/>
<line x1="40.5" y1="7.4" x2="40.5" y2="140.0" class="ax"/>
<path d="M38.7 11.4L40.5 7.6L42.3 11.4Z" fill="#000"/>
<path d="M270.4 138.2L274.8 140.0L270.4 141.8Z" fill="#000"/>
<line x1="40.5" y1="140.0" x2="40.5" y2="142.5" class="tk"/>
<line x1="61.7" y1="140.0" x2="61.7" y2="141.5" class="tk"/>
<line x1="83.0" y1="140.0" x2="83.0" y2="142.5" class="tk"/>
<line x1="104.2" y1="140.0" x2="104.2" y2="141.5" class="tk"/>
<line x1="125.4" y1="140.0" x2="125.4" y2="142.5" class="tk"/>
<line x1="146.6" y1="140.0" x2="146.6" y2="141.5" class="tk"/>
<line x1="167.9" y1="140.0" x2="167.9" y2="142.5" class="tk"/>
<line x1="189.1" y1="140.0" x2="189.1" y2="141.5" class="tk"/>
<line x1="210.3" y1="140.0" x2="210.3" y2="142.5" class="tk"/>
<line x1="231.5" y1="140.0" x2="231.5" y2="141.5" class="tk"/>
<line x1="252.8" y1="140.0" x2="252.8" y2="142.5" class="tk"/>
<line x1="38.3" y1="126.6" x2="40.5" y2="126.6" class="tk"/>
<line x1="39.1" y1="113.4" x2="40.5" y2="113.4" class="tk"/>
<line x1="38.3" y1="100.1" x2="40.5" y2="100.1" class="tk"/>
<line x1="39.1" y1="86.9" x2="40.5" y2="86.9" class="tk"/>
<line x1="38.3" y1="73.6" x2="40.5" y2="73.6" class="tk"/>
<line x1="39.1" y1="60.4" x2="40.5" y2="60.4" class="tk"/>
<line x1="38.3" y1="47.1" x2="40.5" y2="47.1" class="tk"/>
<line x1="39.1" y1="33.9" x2="40.5" y2="33.9" class="tk"/>
<line x1="38.3" y1="20.6" x2="40.5" y2="20.6" class="tk"/>
<line x1="349.4" y1="7.4" x2="349.4" y2="140.0" class="gr"/>
<line x1="391.9" y1="7.4" x2="391.9" y2="140.0" class="gr"/>
<line x1="434.4" y1="7.4" x2="434.4" y2="140.0" class="gr"/>
<line x1="476.8" y1="7.4" x2="476.8" y2="140.0" class="gr"/>
<line x1="519.2" y1="7.4" x2="519.2" y2="140.0" class="gr"/>
<line x1="307.0" y1="17.2" x2="540.5" y2="17.2" class="gr"/>
<line x1="307.0" y1="45.4" x2="540.5" y2="45.4" class="gr"/>
<line x1="307.0" y1="101.8" x2="540.5" y2="101.8" class="gr"/>
<line x1="307.0" y1="130.0" x2="540.5" y2="130.0" class="gr"/>
<path class="bl" d="M307.0 73.6L307.3 71.5L307.5 69.9L307.8 71.5L308.1 74.2L308.5 74.7L308.8 73.2L309.0 71.5L309.3 70.5L309.6 71.9L309.8 74.3L310.1 76.2L310.4 74.8L310.8 72.0L311.1 73.5L311.5 78.3L311.8 76.4L312.0 68.8L312.3 62.6L312.6 73.3L313.0 92.0L313.4 67.7L313.7 43.7L313.9 46.9L314.2 35.3L314.5 51.0L314.8 38.4L315.2 69.9L315.5 93.2L315.8 119.3L316.1 97.6L316.3 85.7L316.6 64.9L316.8 43.7L317.2 38.4L317.5 35.3L317.9 48.9L318.3 40.5L318.6 65.1L318.8 82.5L319.1 73.5L319.5 63.6L319.8 75.8L320.1 93.0L320.4 81.1L320.7 75.2L321.0 90.8L321.3 116.7L321.7 90.9L322.0 61.5L322.3 66.9L322.5 75.0L322.8 80.4L323.1 81.1L323.4 87.8L323.6 85.0L323.9 93.0L324.2 86.8L324.4 78.2L324.7 72.0L325.0 67.9L325.3 57.3L325.7 33.2L326.1 17.4L326.5 46.8L326.8 74.7L327.1 95.1L327.4 75.1L327.7 59.4L328.0 55.4L328.2 42.4L328.5 37.4L328.8 51.1L329.0 57.3L329.4 72.0L329.7 90.9L330.0 96.5L330.3 103.5L330.6 107.6L331.0 131.9L331.2 104.2L331.5 101.4L331.8 94.2L332.0 96.2L332.2 94.1L332.5 104.2L332.8 105.1L333.0 109.8L333.2 102.1L333.5 93.1L333.8 79.0L334.0 75.2L334.4 64.9L334.7 51.0L334.9 52.3L335.2 45.8L335.4 51.4L335.7 42.6L335.9 51.0L336.2 40.5L336.4 48.2L336.7 45.8L337.1 54.2L337.5 61.5L337.8 61.8L338.0 57.4L338.2 58.2L338.5 54.2L338.8 61.8L339.0 69.5L339.2 81.5L339.5 94.6L339.8 98.9L340.0 106.7L340.2 98.6L340.5 98.0L340.8 89.3L341.0 88.0L341.2 81.8L341.5 80.4L341.8 80.9L342.0 84.0L342.3 84.0L342.6 91.0L342.8 92.0L343.1 94.1L343.4 88.1L343.6 83.4L343.9 73.0L344.2 66.4L344.5 60.7L344.7 54.1L345.0 48.9L345.3 51.8L345.6 45.2L345.8 43.6L346.1 40.7L346.4 41.6L346.7 48.3L346.9 51.5L347.2 61.3L347.5 61.5L347.8 63.6L348.0 59.6L348.2 60.9L348.5 54.2L348.8 57.3L349.0 57.8L349.3 65.4L349.6 71.8L349.8 79.9L350.1 91.6L350.4 95.9L350.6 102.8L350.9 102.5L351.2 97.8L351.4 95.5L351.7 85.7L352.0 82.0L352.2 74.3L352.5 75.2L352.8 73.2L353.1 78.8L353.4 81.9L353.7 84.6L354.0 84.4L354.3 77.8L354.6 69.4L354.8 57.9L355.1 54.8L355.4 51.7L355.7 60.5L356.0 67.3L356.3 72.0L356.6 74.6L356.8 87.4L357.1 96.5L357.3 101.4L357.6 89.2L357.9 66.2L358.2 55.2L358.5 57.2L358.8 60.8L359.0 68.6L359.3 69.9L359.6 73.5L359.9 79.7L360.2 83.2L360.5 86.7L360.8 84.0L361.0 81.8L361.2 76.2L361.5 71.5L361.8 69.4L362.0 67.8L362.3 67.6L362.5 67.1L362.8 67.8L363.1 64.1L363.3 62.1L363.6 55.6L363.9 55.6L364.1 50.2L364.4 52.1L364.7 55.9L364.9 62.5L365.2 71.1L365.5 72.0L365.8 74.8L366.1 77.3L366.3 80.2L366.6 88.1L366.9 89.1L367.1 95.5L367.4 93.2L367.7 101.4L368.0 96.2L368.2 95.1L368.5 88.0L368.7 84.8L369.0 80.4L369.3 80.2L369.6 83.9L369.9 83.9L370.2 88.8L370.5 83.0L370.7 80.4L371.0 74.3L371.2 68.8L371.5 67.8L371.8 69.9L372.0 67.8L372.2 65.8L372.5 59.4L372.8 55.6L373.0 49.4L373.2 49.9L373.5 48.9L373.8 53.8L374.0 57.4L374.2 64.7L374.5 64.7L374.8 64.0L375.1 59.8L375.4 57.3L375.7 62.4L375.9 64.7L376.2 71.3L376.5 76.0L376.7 79.1L377.0 85.7L377.3 83.7L377.5 90.2L377.8 90.4L378.0 95.8L378.3 95.0L378.5 100.0L378.8 98.5L379.0 104.2L379.3 105.6L379.6 101.2L379.9 98.3L380.1 91.2L380.4 86.2L380.7 81.7L381.0 80.4L381.2 80.7L381.5 77.9L381.8 74.0L382.0 72.0L382.3 69.7L382.5 67.4L382.8 66.9L383.0 64.1L383.3 62.3L383.5 57.8L383.8 55.4L384.0 52.7L384.3 51.7L384.6 55.8L384.9 57.5L385.1 62.0L385.4 65.0L385.7 68.4L386.0 72.0L386.2 71.7L386.5 71.6L386.8 71.7L387.0 67.8L387.2 70.5L387.5 70.7L387.8 73.7L388.0 77.8L388.2 82.8L388.5 88.7L388.8 92.4L389.0 96.5L389.2 97.8L389.5 100.4L389.8 98.9L390.0 99.4L390.2 96.2L390.5 92.5L390.8 85.4L391.0 81.9L391.2 77.5L391.5 80.4L391.8 77.2L392.0 76.2L392.2 74.0L392.5 72.0L392.8 72.9L393.0 69.5L393.2 66.6L393.5 61.5L393.8 57.5L394.0 51.6L394.2 48.7L394.5 41.7L394.8 41.8L395.0 40.1L395.2 43.2L395.5 48.5L395.8 58.4L396.0 64.7L396.2 69.8L396.5 69.9L396.8 68.6L397.0 65.5L397.2 64.4L397.5 63.6L397.8 65.5L398.0 68.6L398.3 73.5L398.5 82.0L398.8 89.6L399.0 98.5L399.3 104.3L399.5 108.8L399.8 108.8L400.1 103.3L400.4 101.1L400.6 93.6L400.9 90.1L401.2 86.0L401.5 84.6L401.8 83.5L402.0 81.7L402.3 77.1L402.5 72.2L402.8 67.5L403.0 60.4L403.3 56.5L403.5 48.7L403.8 46.9L404.0 41.8L404.3 41.9L404.6 47.4L404.9 52.8L405.2 60.5L405.5 61.5L405.8 61.3L406.0 57.8L406.2 56.4L406.5 55.2L406.8 57.8L407.0 58.7L407.3 64.0L407.5 68.4L407.8 74.2L408.1 82.5L408.3 89.1L408.6 97.3L408.9 102.4L409.1 108.7L409.4 109.7L409.6 115.3L409.9 116.7L410.2 111.3L410.4 110.4L410.7 101.4L411.0 97.5L411.2 90.8L411.5 90.9L411.8 87.6L412.0 85.7L412.2 80.7L412.5 80.4L412.8 78.4L413.0 75.1L413.3 69.8L413.6 61.6L413.8 54.8L414.1 46.2L414.4 40.9L414.6 36.1L414.9 34.8L415.2 39.2L415.4 47.1L415.7 56.8L416.0 59.4L416.2 59.1L416.5 55.2L416.8 54.1L417.0 51.0L417.3 54.1L417.5 54.1L417.8 58.0L418.0 62.6L418.3 68.7L418.5 74.6L418.8 80.6L419.0 87.3L419.3 92.6"/>
<path class="bl2" d="M419.3 92.6L419.5 97.8L419.8 101.3L420.0 103.8L420.3 104.6L420.6 103.1L420.9 99.9L421.1 94.9L421.4 90.4L421.7 86.8L422.0 85.7L422.3 84.6L422.5 82.0L422.8 77.5L423.0 72.5L423.3 67.0L423.6 60.7L423.8 55.8L424.1 51.2L424.3 48.7L424.6 47.6L424.9 49.9L425.1 54.5L425.4 59.8L425.7 61.5L426.0 60.6L426.2 58.4L426.5 57.3L426.8 58.3L427.0 60.0L427.3 63.6L427.5 67.3L427.8 72.5L428.1 77.3L428.3 82.1L428.6 87.3L428.8 91.1L429.1 94.6L429.3 96.4L429.6 97.2L429.9 95.9L430.2 93.6L430.4 90.1L430.7 87.7L431.0 86.7L431.2 86.7L431.5 87.8L431.8 88.1L432.0 88.8L432.3 87.8L432.5 85.8L432.8 82.1L433.1 77.8L433.3 73.0L433.6 67.2L433.8 62.4L434.1 57.5L434.4 54.2L434.6 51.8L434.9 51.0L435.2 53.2L435.4 57.9L435.7 62.8L436.0 64.7L436.3 64.3L436.5 62.3L436.8 61.5L437.1 63.0L437.4 65.7L437.6 70.4L437.9 75.7L438.2 80.8L438.4 85.7L438.7 88.4L439.0 89.9L439.2 89.1L439.5 88.0L439.8 86.0L440.0 84.4L440.2 82.7L440.5 82.5L440.8 82.7L441.0 83.6L441.2 84.2L441.5 84.6L441.8 83.8L442.0 83.0L442.2 80.8L442.5 78.6L442.8 75.4L443.0 72.6L443.2 69.8L443.5 66.5L443.8 64.3L444.0 62.1L444.2 61.3L444.5 60.5L444.8 61.5L445.0 62.8L445.2 65.4L445.5 67.6L445.8 69.5L446.0 69.9L446.3 69.6L446.5 68.4L446.8 67.8L447.1 68.5L447.3 69.8L447.6 72.3L447.8 74.8L448.1 77.5L448.3 80.4L448.6 82.4L448.8 84.1L449.1 84.6L449.4 84.3L449.6 83.9L449.9 82.6L450.1 81.8L450.4 80.1L450.6 78.6L450.9 76.4L451.1 74.6L451.4 72.8L451.7 70.5L451.9 68.8L452.2 66.5L452.4 65.0L452.7 63.3L452.9 62.5L453.2 61.2L453.4 60.9L453.7 60.5L454.0 61.2L454.2 62.3L454.5 64.4L454.7 66.3L455.0 68.3L455.2 69.5L455.5 69.9L455.8 69.6L456.0 68.4L456.3 67.8L456.6 68.4L456.8 69.5L457.1 71.6L457.3 74.0L457.6 76.4L457.9 79.5L458.1 81.8L458.4 84.0L458.6 85.0L458.9 85.7L459.2 85.1L459.4 84.6L459.7 83.0L459.9 81.4L460.2 79.1L460.5 76.8L460.7 73.8L461.0 71.2L461.3 68.7L461.5 65.7L461.8 63.6L462.1 61.0L462.3 59.4L462.6 57.9L462.8 57.4L463.1 56.8L463.4 57.3L463.6 58.1L463.9 59.9L464.1 61.8L464.4 64.7L464.7 67.3L464.9 70.8L465.2 73.9L465.5 76.9L465.7 80.4L466.0 83.0L466.2 85.9L466.5 87.7L466.8 89.6L467.0 90.4L467.3 90.9L467.6 90.4L467.8 90.0L468.1 88.7L468.3 87.4L468.6 85.3L468.9 83.4L469.1 80.6L469.4 78.2L469.6 75.2L469.9 72.6L470.2 69.9L470.4 66.9L470.7 64.5L470.9 61.7L471.2 60.0L471.5 57.7L471.7 56.5L472.0 55.1L472.2 54.8L472.5 54.2L472.8 54.8L473.0 55.2L473.3 56.7L473.5 58.3L473.8 60.8L474.0 63.1L474.3 66.4L474.5 69.1L474.8 72.7L475.0 75.5L475.3 78.6L475.5 81.8L475.8 84.6L476.0 87.3L476.3 89.2L476.5 91.3L476.8 92.5L477.0 93.4L477.3 93.7L477.6 93.2L477.8 92.7L478.1 91.3L478.3 89.8L478.6 87.5L478.9 85.4L479.1 82.4L479.4 79.8L479.6 76.4L479.9 73.7L480.2 70.7L480.4 67.5L480.7 64.9L480.9 61.9L481.2 59.8L481.5 57.5L481.7 56.0L482.0 54.6L482.2 54.3L482.5 53.7L482.8 54.3L483.0 54.6L483.3 55.9L483.5 57.3L483.8 59.7L484.1 61.6L484.3 64.4L484.6 67.0L484.8 70.2L485.1 73.0L485.4 75.6L485.6 78.9L485.9 81.4L486.1 84.3L486.4 86.5L486.7 88.6L486.9 89.9L487.2 91.3L487.4 91.8L487.7 92.3L488.0 91.9L488.2 91.4L488.5 90.2L488.7 88.9L489.0 86.9L489.2 85.0L489.5 82.3L489.7 80.0L490.0 77.2L490.2 74.4L490.5 71.8L490.7 68.7L491.0 66.2L491.2 63.3L491.5 61.0L491.7 58.8L492.0 57.2L492.2 55.6L492.5 54.8L492.7 53.9L493.0 53.7L493.3 54.2L493.5 54.7L493.8 56.2L494.0 57.9L494.3 60.5L494.5 62.7L494.8 66.0L495.1 68.7L495.3 72.4L495.6 75.3L495.8 78.4L496.1 81.7L496.4 84.4L496.6 87.2L496.9 89.3L497.1 91.2L497.4 92.2L497.6 93.4L497.9 93.7L498.2 93.2L498.4 92.4L498.7 90.8L498.9 89.0L499.2 86.3L499.5 83.7L499.7 80.1L500.0 77.1L500.2 73.3L500.5 70.2L500.8 67.0L501.0 63.7L501.3 60.9L501.6 58.3L501.8 56.7L502.1 54.9L502.3 54.2L502.6 53.7L502.9 54.2L503.1 54.6L503.4 55.9L503.6 57.3L503.9 59.4L504.2 61.6L504.4 64.5L504.7 67.0L504.9 70.2L505.2 73.0L505.5 75.9L505.7 78.9L506.0 81.3L506.2 84.3L506.5 86.3L506.8 88.6L507.0 89.8L507.3 91.3L507.5 91.9L507.8 92.3L508.1 91.7L508.3 91.4L508.6 90.2L508.8 88.9L509.1 86.7L509.3 85.0L509.6 82.4L509.8 80.0L510.1 77.1L510.4 74.5L510.6 72.0L510.9 69.1L511.1 66.9L511.4 64.1L511.6 62.2L511.9 60.2L512.1 58.9L512.4 57.7L512.6 57.3L512.9 56.8L513.2 57.2L513.4 57.6L513.7 58.8L513.9 60.0L514.2 61.9L514.5 63.7L514.7 66.1L515.0 68.4L515.2 71.1L515.5 73.5L515.8 76.0L516.0 78.7L516.3 80.9L516.5 83.4L516.8 85.0L517.1 87.1L517.3 88.3L517.6 89.5L517.8 89.8L518.1 90.3L518.4 89.9L518.6 89.5L518.9 88.3L519.1 87.2L519.4 85.5L519.6 83.7L519.9 81.3L520.1 79.2L520.4 76.6L520.6 74.2L520.9 72.1L521.2 69.3L521.4 67.2L521.7 64.8L521.9 63.0L522.2 61.2L522.4 60.2L522.7 59.0L522.9 58.8L523.2 58.2L523.5 58.5L523.7 58.8L524.0 59.9L524.2 60.5L524.5 62.0L524.7 63.2L525.0 65.2L525.2 66.7L525.5 69.0L525.7 70.6L526.0 72.9L526.2 74.7L526.5 76.3L526.7 78.4L527.0 79.7L527.2 81.5L527.5 82.4L527.7 83.8L528.0 84.3L528.2 85.0L528.5 85.2L528.8 84.5L529.0 84.0L529.2 82.5L529.5 81.6L529.8 80.4L530.0 80.4L530.2 80.5L530.5 81.5L530.8 82.0L531.0 82.5L531.2 81.9L531.5 80.6L531.8 78.3L532.0 75.6L532.2 72.7L532.5 69.5L532.8 67.0L533.0 64.5L533.2 63.2L533.5 62.6L533.8 63.2L534.0 64.2L534.3 66.1L534.6 68.1L534.9 70.6L535.1 72.0L535.4 73.6L535.7 73.6"/>
<path class="rd" d="M307.0 74.3L307.3 72.5L307.6 74.1L307.9 71.9L308.2 73.7L308.5 72.0L308.8 73.3L309.1 72.3L309.4 75.3L309.7 74.7L310.0 77.2L310.3 74.4L310.6 75.6L310.9 72.0L311.2 73.0L311.5 70.9L311.8 73.4L312.1 73.1L312.5 77.4L312.8 76.1L313.1 76.8L313.4 71.3L313.7 69.1L314.0 65.2L314.3 68.6L314.7 70.5L315.0 73.9L315.4 76.9L315.7 84.2L316.1 73.6L316.4 68.0L316.9 69.8L317.3 76.5L317.6 73.7L317.9 74.0L318.2 69.8L318.5 71.8L318.8 70.4L319.1 73.0L319.4 73.9L319.8 78.3L320.1 78.1L320.4 81.5L320.7 80.2L321.0 80.8L321.4 76.4L321.7 75.5L322.0 72.6L322.3 75.4L322.7 74.6L323.0 77.9L323.3 74.7L323.6 75.5L323.9 70.5L324.2 71.2L324.5 68.8L324.8 70.5L325.2 67.3L325.5 69.3L325.8 66.1L326.1 67.6L326.5 65.2L326.8 67.0L327.1 65.9L327.5 70.0L327.8 69.9L328.2 71.2L328.5 67.4L328.9 68.9L329.2 67.4L329.5 70.5L329.8 70.5L330.1 73.6L330.4 73.7L330.7 78.3L331.0 78.3L331.3 81.3L331.6 80.7L331.9 82.7L332.3 79.5L332.7 79.3L333.1 75.3L333.4 78.2L333.8 76.9L334.1 79.6L334.4 77.9L334.7 78.1L335.0 74.6L335.3 73.5L335.6 69.6L335.9 69.6L336.2 66.6L336.5 67.3L336.8 65.8L337.2 69.0L337.5 68.2L337.8 72.5L338.2 71.3L338.5 73.5L338.8 71.4L339.1 72.9L339.4 70.1L339.7 71.7L340.0 69.4L340.3 72.2L340.6 70.7L340.9 73.8L341.2 73.8L341.5 76.7L341.8 77.4L342.1 80.2L342.4 79.5L342.7 81.1L343.0 79.9L343.3 80.2L343.6 78.1L343.9 77.9L344.3 75.7L344.6 76.0L344.9 74.1L345.2 74.5L345.5 73.0L345.8 74.0L346.2 71.8L346.5 71.8L346.8 68.8L347.1 68.5L347.5 67.0L347.8 67.7L348.1 66.3L348.4 68.2L348.8 68.0L349.1 70.3L349.4 70.3L349.7 72.5L350.0 72.6L350.4 74.4L350.7 73.8L351.0 75.1L351.3 73.6L351.7 73.9L352.0 72.2L352.4 73.7L352.7 73.7L353.1 77.0L353.4 78.0L353.8 80.7L354.1 80.0L354.4 80.6L354.7 78.9L355.0 79.1L355.3 76.7L355.6 76.2L355.9 74.1L356.2 74.7L356.5 73.0L356.8 74.2L357.1 72.2L357.4 72.1L357.8 69.6L358.1 69.9L358.4 67.4L358.7 67.7L359.0 66.6L359.3 67.8L359.6 67.4L359.9 69.5L360.2 68.9L360.6 71.2L360.9 71.3L361.2 73.2L361.5 71.8L361.8 73.1L362.2 71.3L362.5 71.9L362.8 71.2L363.2 73.1L363.5 72.8L363.8 74.9L364.1 75.1L364.5 77.6L364.8 77.6L365.1 80.0L365.5 79.3L365.8 80.2L366.1 78.9L366.4 80.4L366.7 78.2L367.0 79.1L367.3 76.9L367.6 77.9L367.9 75.7L368.2 75.9L368.5 73.3L368.9 73.8L369.2 71.5L369.5 71.7L369.8 69.9L370.1 70.1L370.4 68.8L370.7 69.4L371.0 68.0L371.3 69.2L371.6 68.1L371.9 69.6L372.2 68.4L372.5 70.6L372.8 69.5L373.1 72.1L373.4 71.5L373.7 73.4L374.0 73.3L374.3 75.5L374.6 75.6L374.9 77.7L375.3 77.2L375.6 79.1L375.9 78.2L376.2 80.2L376.5 79.3L376.8 80.4L377.1 79.0L377.4 80.2L377.7 78.3L378.0 79.1L378.3 77.4L378.6 77.6L378.9 75.3L379.2 75.5L379.5 73.3L379.8 74.0L380.1 71.3L380.4 72.1L380.7 70.1L381.1 70.4L381.4 68.3L381.7 69.0L382.0 68.0L382.3 68.8L382.6 67.8L382.9 69.3L383.2 68.5L383.5 70.5L383.8 70.1L384.1 71.6L384.4 71.8L384.7 73.5L385.0 73.8L385.3 76.1L385.6 75.3L385.9 77.4L386.2 77.2L386.5 79.0L386.8 78.6L387.1 80.1L387.5 79.1L387.8 80.6L388.1 79.3L388.4 80.0L388.7 78.6L389.0 79.0L389.3 77.2L389.6 77.8L389.9 75.7L390.2 75.6L390.5 73.9L390.8 73.8L391.1 71.7L391.4 72.3L391.7 70.1L392.0 70.8L392.3 68.7L392.6 69.6L392.9 68.2L393.2 69.3L393.6 68.0L393.9 69.6L394.2 68.7L394.5 70.6L394.8 70.2L395.1 72.1L395.4 71.6L395.7 73.6L396.0 73.7L396.3 75.8L396.6 75.3L396.9 78.0L397.2 77.4L397.5 79.5L397.8 78.3L398.1 80.0L398.4 79.2L398.7 80.3L399.0 79.0L399.4 80.3L399.7 78.3L400.0 79.4L400.3 77.2L400.6 77.9L400.9 75.5L401.2 75.6L401.5 73.6L401.8 73.6L402.1 72.0L402.4 72.3L402.7 70.4L403.0 70.3L403.3 69.1L403.6 69.9L403.9 68.3L404.2 69.0L404.5 67.9L404.8 69.4L405.1 68.6L405.5 70.7L405.8 69.8L406.1 72.4L406.4 71.7L406.7 74.1L407.0 74.0L407.3 76.0L407.6 75.6L407.9 77.8L408.2 77.5L408.5 79.4L408.8 78.2L409.1 79.9L409.4 79.3L409.7 80.6L410.0 79.0L410.3 80.0L410.6 78.7L410.9 79.0L411.2 77.2L411.6 77.9L411.9 75.7L412.2 75.8L412.5 73.7L412.8 73.8L413.1 71.8L413.4 71.6L413.7 70.4L414.0 70.4L414.3 69.1L414.6 69.4L414.9 68.6L415.2 69.0L415.5 68.4L415.8 69.3L416.1 69.0L416.4 70.2L416.7 70.1L417.0 71.6L417.3 71.8L417.6 73.0L418.0 73.4L418.3 75.1L418.6 75.2L418.9 76.6L419.2 76.7L419.5 77.9L419.8 77.9L420.1 78.8L420.4 78.4L420.7 79.1L421.0 78.6L421.3 78.9L421.6 77.7L421.9 77.9L422.2 76.7L422.5 76.6L422.8 75.1L423.1 75.0L423.4 73.5L423.8 73.1L424.1 71.9L424.4 71.5L424.7 70.2L425.0 70.1L425.3 69.1L425.6 69.2L425.9 68.3L426.2 68.9L426.5 68.3L426.8 69.3L427.1 69.0L427.4 70.2L427.7 70.1L428.0 71.6L428.3 71.7L428.6 73.2L428.9 73.4L429.2 75.1L429.5 75.2L429.9 76.7L430.2 76.6L430.5 78.0L430.8 78.0L431.1 78.8L431.4 78.4L431.7 79.2L432.0 78.3L432.3 79.0L432.6 77.9L432.9 77.9L433.2 76.8L433.5 76.5L433.8 75.1L434.1 75.1L434.4 73.3L434.7 73.1L435.0 71.6L435.3 71.5L435.6 70.2L435.9 70.2L436.3 69.2L436.6 69.1L436.9 68.3L437.2 68.9L437.5 68.5L437.8 69.3L438.1 69.0L438.4 70.0L438.7 70.2L439.0 71.5L439.3 71.7L439.6 73.1L439.9 73.4L440.2 75.1L440.5 75.2L440.8 76.6L441.1 76.8L441.4 77.9L441.7 77.8L442.0 78.7L442.4 78.3L442.7 79.3L443.0 78.6L443.3 79.0L443.6 77.9L443.9 78.1L444.2 76.6L444.5 76.5L444.8 75.1L445.1 75.0L445.4 73.3L445.7 73.1L446.0 71.6L446.3 71.7L446.6 70.1L446.9 70.2L447.2 69.2L447.5 69.3L447.8 68.5L448.1 69.0L448.5 68.4L448.8 69.3L449.1 69.1L449.4 70.2L449.7 70.1L450.0 71.4L450.3 71.6L450.6 73.2L450.9 73.6L451.2 75.1L451.5 75.3L451.8 76.6L452.1 76.7L452.4 78.0L452.7 77.8L453.0 78.9L453.3 78.5L453.6 79.1L453.9 78.6L454.2 78.7L454.6 77.8L454.9 78.0L455.2 76.7L455.5 76.7L455.8 75.2L456.1 74.9L456.4 73.5L456.7 73.3L457.0 71.9L457.3 71.5L457.6 70.3L457.9 70.3L458.2 69.1L458.5 69.2L458.8 68.5L459.1 69.0L459.4 68.3L459.7 69.2L460.0 68.9L460.3 70.0L460.7 70.3L461.0 71.4L461.3 71.8L461.6 73.3L461.9 73.4L462.2 74.8L462.5 75.3L462.8 76.6L463.1 76.6L463.4 78.1L463.7 77.8L464.0 78.9L464.3 78.6L464.6 79.1L464.9 78.6L465.2 78.9L465.5 77.8L465.8 77.9L466.1 76.8L466.4 76.7L466.8 75.3L467.1 75.0L467.4 73.3L467.7 73.3L468.0 71.7L468.3 71.5L468.6 70.1L468.9 70.2L469.2 68.9L469.5 69.3L469.8 68.5L470.1 69.1L470.4 68.4L470.7 69.3L471.0 69.0L471.3 70.0L471.6 70.1L471.9 71.6L472.2 71.7L472.5 73.2L472.9 73.5L473.2 74.8L473.5 75.2L473.8 76.5L474.1 76.7L474.4 78.0L474.7 77.9L475.0 78.9L475.3 78.3L475.6 79.3L475.9 78.6L476.2 78.9L476.5 77.8L476.8 77.8L477.1 76.8L477.4 76.5L477.7 75.3L478.0 75.0L478.3 73.3L478.6 73.1L479.0 71.6L479.3 71.6L479.6 70.3L479.9 70.3L480.2 69.0L480.5 69.4L480.8 68.4L481.1 69.1L481.4 68.5L481.7 69.4L482.0 68.9L482.3 70.3L482.6 70.2L482.9 71.6L483.2 71.7L483.5 73.1L483.8 73.6L484.1 74.8L484.4 75.3L484.7 76.5L485.1 76.7L485.4 78.0L485.7 77.8L486.0 78.8L486.3 78.4L486.6 79.1L486.9 78.5L487.2 78.9L487.5 77.9L487.8 77.9L488.1 76.6L488.4 76.7L488.7 75.2L489.0 74.9L489.3 73.4L489.6 73.2L489.9 71.8L490.2 71.4L490.5 70.3L490.8 70.3L491.2 69.2L491.5 69.3L491.8 68.5L492.1 68.9L492.4 68.5L492.7 69.2L493.0 69.1L493.3 70.0L493.6 70.3L493.9 71.4L494.2 71.7L494.5 73.0L494.8 73.6L495.1 74.9L495.4 75.2L495.7 76.7L496.0 76.9L496.3 77.9L496.6 77.9L496.9 78.7L497.3 78.3L497.6 79.1L497.9 78.6L498.2 78.8L498.5 78.0L498.8 78.0L499.1 76.8L499.4 76.5L499.7 75.3L500.0 75.0L500.3 73.5L500.6 73.3L500.9 71.7L501.2 71.7L501.5 70.2L501.8 70.1L502.1 69.1L502.4 69.4L502.7 68.4L503.0 68.9L503.4 68.6L503.7 69.3L504.0 68.9L504.3 70.2L504.6 70.3L504.9 71.4L505.2 71.8L505.5 73.1L505.8 73.6L506.1 74.8L506.4 75.1L506.7 76.7L507.0 76.8L507.3 78.1L507.6 77.9L507.9 79.0L508.2 78.3L508.5 79.3L508.8 78.6L509.1 78.8L509.5 77.8L509.8 78.1L510.1 76.9L510.4 76.5L510.7 75.1L511.0 74.8L511.3 73.5L511.6 73.1L511.9 71.6L512.2 71.7L512.5 70.3L512.8 70.2L513.1 69.0L513.4 69.4L513.7 68.4L514.0 69.1L514.3 68.5L514.6 69.3L514.9 69.1L515.2 70.3L515.6 70.2L515.9 71.4L516.2 71.8L516.5 73.3L516.8 73.4L517.1 75.0L517.4 75.2L517.7 76.6L518.0 76.8L518.3 78.0L518.6 78.0L518.9 78.8L519.2 78.4L519.5 79.2L519.8 78.6L520.1 78.8L520.4 77.7L520.7 78.0L521.0 76.6L521.3 76.7L521.7 75.2L522.0 75.1L522.3 73.4L522.6 73.1L522.9 71.8L523.2 71.4L523.5 70.2L523.8 70.3L524.1 69.2L524.4 69.3L524.7 68.6L525.0 68.8L525.3 68.4L525.6 69.2L525.9 69.2L526.2 70.0L526.5 70.1L526.8 71.5L527.1 71.9L527.4 73.1L527.8 73.3L528.1 74.9L528.4 75.2L528.7 76.6L529.0 76.6L529.3 78.0L529.6 77.8L529.9 78.9L530.2 78.6L530.5 79.1L530.8 78.6L531.1 79.1L531.4 78.2L531.7 78.2L532.1 77.1L532.4 77.3L532.7 76.1L533.0 76.2L533.3 75.1L533.6 75.1L533.9 73.9L534.2 74.1L534.6 73.0L534.9 73.4L535.2 72.3L535.5 72.9L535.8 72.2"/>
<path class="gn" d="M307.0 73.3L307.4 73.2L307.8 73.0L308.2 72.8L308.6 72.7L309.0 72.7L309.4 72.7L309.8 72.7L310.2 72.7L310.6 72.8L311.0 73.0L311.4 73.2L311.8 73.3L312.2 73.5L312.6 73.8L313.0 73.9L313.4 74.1L313.8 74.3L314.2 74.4L314.6 74.5L315.0 74.5L315.4 74.5L315.8 74.5L316.2 74.4L316.6 74.3L317.0 74.1L317.4 73.9L317.8 73.8L318.2 73.5L318.6 73.3L319.0 73.2L319.4 73.0L319.8 72.8L320.2 72.7L320.6 72.7L321.0 72.7L321.4 72.7L321.8 72.7L322.2 72.8L322.6 73.0L323.0 73.2L323.4 73.3L323.8 73.5L324.2 73.8L324.6 73.9L325.0 74.1L325.4 74.3L325.8 74.4L326.2 74.5L326.6 74.5L327.0 74.5L327.4 74.5L327.8 74.4L328.2 74.3L328.6 74.1L329.0 73.9L329.4 73.8L329.8 73.5L330.2 73.3L330.6 73.2L331.0 73.0L331.4 72.8L331.8 72.7L332.2 72.7L332.6 72.7L333.0 72.7L333.4 72.7L333.8 72.8L334.2 73.0L334.6 73.2L335.0 73.3L335.4 73.5L335.8 73.8L336.2 73.9L336.6 74.1L337.0 74.3L337.4 74.4L337.8 74.5L338.2 74.5L338.6 74.5L339.0 74.5L339.4 74.4L339.8 74.3L340.2 74.1L340.6 73.9L341.0 73.7L341.4 73.6L341.8 73.4L342.2 73.3L342.6 73.2L343.0 73.1L343.4 73.0L343.8 73.0L344.2 73.0L344.6 73.0L345.0 73.0L345.4 73.1L345.8 73.2L346.2 73.3L346.6 73.4L347.0 73.6L347.4 73.7L347.8 73.8L348.2 74.0L348.6 74.1L349.0 74.1L349.4 74.2L349.8 74.2L350.2 74.2L350.6 74.2L351.0 74.1L351.4 74.1L351.8 74.0L352.2 73.8L352.6 73.7L353.0 73.6L353.4 73.4L353.8 73.3L354.2 73.2L354.6 73.1L355.0 73.0L355.4 73.0L355.8 73.0L356.2 73.0L356.6 73.0L357.0 73.1L357.4 73.2L357.8 73.3L358.2 73.4L358.6 73.6L359.0 73.7L359.4 73.8L359.8 74.0L360.2 74.1L360.6 74.1L361.0 74.2L361.4 74.2L361.8 74.2L362.2 74.2L362.6 74.1L363.0 74.1L363.4 74.0L363.8 73.8L364.2 73.7L364.6 73.6L365.0 73.4L365.4 73.3L365.8 73.2L366.2 73.1L366.6 73.0L367.0 73.0L367.4 73.0L367.8 73.0L368.2 73.0L368.6 73.1L369.0 73.2L369.4 73.3L369.8 73.4L370.2 73.6L370.6 73.7L371.0 73.8L371.4 74.0L371.8 74.1L372.2 74.1L372.6 74.2L373.0 74.2L373.4 74.2L373.8 74.2L374.2 74.1L374.6 74.1L375.0 74.0L375.4 73.8L375.8 73.7L376.2 73.6L376.6 73.4L377.0 73.3L377.4 73.2L377.8 73.1L378.2 73.0L378.6 73.0L379.0 73.0L379.4 73.0L379.8 73.0L380.2 73.1L380.6 73.2L381.0 73.3L381.4 73.4L381.8 73.6L382.2 73.7L382.6 73.8L383.0 74.0L383.4 74.1L383.8 74.1L384.2 74.2L384.6 74.2L385.0 74.2L385.4 74.2L385.8 74.1L386.2 74.1L386.6 74.0L387.0 73.8L387.4 73.7L387.8 73.6L388.2 73.4L388.6 73.3L389.0 73.2L389.4 73.1L389.8 73.0L390.2 73.0L390.6 73.0L391.0 73.0L391.4 73.0L391.8 73.1L392.2 73.2L392.6 73.3L393.0 73.4L393.4 73.6L393.8 73.7L394.2 73.8L394.6 74.0L395.0 74.1L395.4 74.1L395.8 74.2L396.2 74.2L396.6 74.2L397.0 74.2L397.4 74.1L397.8 74.1L398.2 74.0L398.6 73.8L399.0 73.7L399.4 73.6L399.8 73.4L400.2 73.3L400.6 73.2L401.0 73.1L401.4 73.0L401.8 73.0L402.2 73.0L402.6 73.0L403.0 73.0L403.4 73.1L403.8 73.2L404.2 73.3L404.6 73.4L405.0 73.6L405.4 73.7L405.8 73.8L406.2 74.0L406.6 74.1L407.0 74.1L407.4 74.2L407.8 74.2L408.2 74.2L408.6 74.2L409.0 74.1L409.4 74.1L409.8 74.0L410.2 73.8L410.6 73.7L411.0 73.6L411.4 73.4L411.8 73.3L412.2 73.2L412.6 73.1L413.0 73.0L413.4 73.0L413.8 73.0L414.2 73.0L414.6 73.0L415.0 73.1L415.4 73.2L415.8 73.3L416.2 73.4L416.6 73.6L417.0 73.7L417.4 73.8L417.8 74.0L418.2 74.1L418.6 74.1L419.0 74.2L419.4 74.2L419.8 74.2L420.2 74.2L420.6 74.1L421.0 74.1L421.4 74.0L421.8 73.8L422.2 73.7L422.6 73.6L423.0 73.4L423.4 73.3L423.8 73.2L424.2 73.1L424.6 73.0L425.0 73.0L425.4 73.0L425.8 73.0L426.2 73.0L426.6 73.1L427.0 73.2L427.4 73.3L427.8 73.4L428.2 73.6L428.6 73.7L429.0 73.8L429.4 74.0L429.8 74.1L430.2 74.1L430.6 74.2L431.0 74.2L431.4 74.2L431.8 74.2L432.2 74.1L432.6 74.1L433.0 74.0L433.4 73.8L433.8 73.7L434.2 73.6L434.6 73.4L435.0 73.3L435.4 73.2L435.8 73.1L436.2 73.0L436.6 73.0L437.0 73.0L437.4 73.0L437.8 73.0L438.2 73.1L438.6 73.2L439.0 73.3L439.4 73.4L439.8 73.6L440.2 73.7L440.6 73.8L441.0 74.0L441.4 74.1L441.8 74.1L442.2 74.2L442.6 74.2L443.0 74.2L443.4 74.2L443.8 74.1L444.2 74.1L444.6 74.0L445.0 73.8L445.4 73.7L445.8 73.6L446.2 73.4L446.6 73.3L447.0 73.2L447.4 73.1L447.8 73.0L448.2 73.0L448.6 73.0L449.0 73.0L449.4 73.0L449.8 73.1L450.2 73.2L450.6 73.3L451.0 73.4L451.4 73.6L451.8 73.7L452.2 73.8L452.6 74.0L453.0 74.1L453.4 74.1L453.8 74.2L454.2 74.2L454.6 74.2L455.0 74.2L455.4 74.1L455.8 74.1L456.2 74.0L456.6 73.8L457.0 73.7L457.4 73.6L457.8 73.4L458.2 73.3L458.6 73.2L459.0 73.1L459.4 73.0L459.8 73.0L460.2 73.0L460.6 73.0L461.0 73.0L461.4 73.1L461.8 73.2L462.2 73.3L462.6 73.4L463.0 73.6L463.4 73.7L463.8 73.8L464.2 74.0L464.6 74.1L465.0 74.1L465.4 74.2L465.8 74.2L466.2 74.2L466.6 74.2L467.0 74.1L467.4 74.1L467.8 74.0L468.2 73.8L468.6 73.7L469.0 73.6L469.4 73.4L469.8 73.3L470.2 73.2L470.6 73.1L471.0 73.0L471.4 73.0L471.8 73.0L472.2 73.0L472.6 73.0L473.0 73.1L473.4 73.2L473.8 73.3L474.2 73.4L474.6 73.6L475.0 73.7L475.4 73.8L475.8 74.0L476.2 74.1L476.6 74.1L477.0 74.2L477.4 74.2L477.8 74.2L478.2 74.2L478.6 74.1L479.0 74.1L479.4 74.0L479.8 73.8L480.2 73.7L480.6 73.6L481.0 73.4L481.4 73.3L481.8 73.2L482.2 73.1L482.6 73.0L483.0 73.0L483.4 73.0L483.8 73.0L484.2 73.0L484.6 73.1L485.0 73.2L485.4 73.3L485.8 73.4L486.2 73.6L486.6 73.7L487.0 73.8L487.4 74.0L487.8 74.1L488.2 74.1L488.6 74.2L489.0 74.2L489.4 74.2L489.8 74.2L490.2 74.1L490.6 74.1L491.0 74.0L491.4 73.8L491.8 73.7L492.2 73.6L492.6 73.4L493.0 73.3L493.4 73.2L493.8 73.1L494.2 73.0L494.6 73.0L495.0 73.0L495.4 73.0L495.8 73.0L496.2 73.1L496.6 73.2L497.0 73.3L497.4 73.4L497.8 73.6L498.2 73.7L498.6 73.8L499.0 74.0L499.4 74.1L499.8 74.1L500.2 74.2L500.6 74.2L501.0 74.2L501.4 74.2L501.8 74.1L502.2 74.1L502.6 74.0L503.0 73.8L503.4 73.7L503.8 73.6L504.2 73.4L504.6 73.3L505.0 73.2L505.4 73.1L505.8 73.0L506.2 73.0L506.6 73.0L507.0 73.0L507.4 73.0L507.8 73.1L508.2 73.2L508.6 73.3L509.0 73.4L509.4 73.6L509.8 73.7L510.2 73.8L510.6 74.0L511.0 74.1L511.4 74.1L511.8 74.2L512.2 74.2L512.6 74.2L513.0 74.2L513.4 74.1L513.8 74.1L514.2 74.0L514.6 73.8L515.0 73.7L515.4 73.6L515.8 73.4L516.2 73.3L516.6 73.2L517.0 73.1L517.4 73.0L517.8 73.0L518.2 73.0L518.6 73.0L519.0 73.0L519.4 73.1L519.8 73.2L520.2 73.3L520.6 73.4L521.0 73.6L521.4 73.7L521.8 73.8L522.2 74.0L522.6 74.1L523.0 74.1L523.4 74.2L523.8 74.2L524.2 74.2L524.6 74.2L525.0 74.1L525.4 74.1L525.8 74.0L526.2 73.8L526.6 73.7L527.0 73.6L527.4 73.4L527.8 73.3L528.2 73.2L528.6 73.1L529.0 73.0L529.4 73.0L529.8 73.0L530.2 73.0L530.6 73.0L531.0 73.1L531.4 73.2L531.8 73.3L532.2 73.4L532.6 73.6L533.0 73.7L533.4 73.8L533.8 74.0L534.2 74.1L534.6 74.1L535.0 74.2L535.4 74.2L535.8 74.2"/>
<path class="dr" d="M307.0 74.4L307.4 74.3L307.8 74.2L308.2 74.1L308.6 74.0L309.0 73.8L309.4 73.6L309.8 73.5L310.2 73.3L310.6 73.2L311.0 73.1L311.4 72.9L311.8 72.9L312.2 72.8L312.6 72.8L313.0 72.8L313.4 72.9L313.8 73.0L314.2 73.1L314.6 73.2L315.0 73.4L315.4 73.5L315.8 73.7L316.2 73.8L316.6 74.0L317.0 74.1L317.4 74.2L317.8 74.3L318.2 74.4L318.6 74.4L319.0 74.4L319.4 74.3L319.8 74.3L320.2 74.1L320.6 74.0L321.0 73.9L321.4 73.7L321.8 73.6L322.2 73.4L322.6 73.2L323.0 73.1L323.4 73.0L323.8 72.9L324.2 72.8L324.6 72.8L325.0 72.8L325.4 72.9L325.8 72.9L326.2 73.0L326.6 73.1L327.0 73.3L327.4 73.4L327.8 73.6L328.2 73.8L328.6 73.9L329.0 74.1L329.4 74.2L329.8 74.3L330.2 74.3L330.6 74.4L331.0 74.4L331.4 74.4L331.8 74.3L332.2 74.2L332.6 74.1L333.0 74.0L333.4 73.8L333.8 73.6L334.2 73.5L334.6 73.3L335.0 73.2L335.4 73.1L335.8 72.9L336.2 72.9L336.6 72.8L337.0 72.8L337.4 72.8L337.8 72.9L338.2 73.0L338.6 73.1L339.0 73.2L339.4 73.4L339.8 73.5L340.2 73.7L340.6 73.8L341.0 73.8L341.4 73.9L341.8 74.0L342.2 74.0L342.6 74.1L343.0 74.1L343.4 74.1L343.8 74.0L344.2 74.0L344.6 73.9L345.0 73.9L345.4 73.8L345.8 73.7L346.2 73.6L346.6 73.5L347.0 73.4L347.4 73.3L347.8 73.2L348.2 73.2L348.6 73.1L349.0 73.1L349.4 73.1L349.8 73.2L350.2 73.2L350.6 73.3L351.0 73.3L351.4 73.4L351.8 73.5L352.2 73.6L352.6 73.7L353.0 73.8L353.4 73.9L353.8 73.9L354.2 74.0L354.6 74.0L355.0 74.1L355.4 74.1L355.8 74.1L356.2 74.0L356.6 74.0L357.0 73.9L357.4 73.8L357.8 73.7L358.2 73.6L358.6 73.5L359.0 73.4L359.4 73.3L359.8 73.3L360.2 73.2L360.6 73.2L361.0 73.1L361.4 73.1L361.8 73.1L362.2 73.2L362.6 73.2L363.0 73.3L363.4 73.4L363.8 73.5L364.2 73.6L364.6 73.6L365.0 73.7L365.4 73.8L365.8 73.9L366.2 74.0L366.6 74.0L367.0 74.1L367.4 74.1L367.8 74.1L368.2 74.0L368.6 74.0L369.0 73.9L369.4 73.9L369.8 73.8L370.2 73.7L370.6 73.6L371.0 73.5L371.4 73.4L371.8 73.3L372.2 73.2L372.6 73.2L373.0 73.1L373.4 73.1L373.8 73.1L374.2 73.2L374.6 73.2L375.0 73.3L375.4 73.3L375.8 73.4L376.2 73.5L376.6 73.6L377.0 73.7L377.4 73.8L377.8 73.9L378.2 73.9L378.6 74.0L379.0 74.0L379.4 74.1L379.8 74.1L380.2 74.1L380.6 74.0L381.0 74.0L381.4 73.9L381.8 73.8L382.2 73.7L382.6 73.6L383.0 73.5L383.4 73.4L383.8 73.3L384.2 73.3L384.6 73.2L385.0 73.2L385.4 73.1L385.8 73.1L386.2 73.1L386.6 73.2L387.0 73.2L387.4 73.3L387.8 73.4L388.2 73.5L388.6 73.6L389.0 73.6L389.4 73.7L389.8 73.8L390.2 73.9L390.6 74.0L391.0 74.0L391.4 74.1L391.8 74.1L392.2 74.1L392.6 74.0L393.0 74.0L393.4 73.9L393.8 73.9L394.2 73.8L394.6 73.7L395.0 73.6L395.4 73.5L395.8 73.4L396.2 73.3L396.6 73.2L397.0 73.2L397.4 73.1L397.8 73.1L398.2 73.1L398.6 73.2L399.0 73.2L399.4 73.3L399.8 73.3L400.2 73.4L400.6 73.5L401.0 73.6L401.4 73.7L401.8 73.8L402.2 73.9L402.6 73.9L403.0 74.0L403.4 74.0L403.8 74.1L404.2 74.1L404.6 74.1L405.0 74.0L405.4 74.0L405.8 73.9L406.2 73.8L406.6 73.7L407.0 73.6L407.4 73.5L407.8 73.4L408.2 73.3L408.6 73.3L409.0 73.2L409.4 73.2L409.8 73.1L410.2 73.1L410.6 73.1L411.0 73.2L411.4 73.2L411.8 73.3L412.2 73.4L412.6 73.5L413.0 73.6L413.4 73.6L413.8 73.7L414.2 73.8L414.6 73.9L415.0 74.0L415.4 74.0L415.8 74.1L416.2 74.1L416.6 74.1L417.0 74.0L417.4 74.0L417.8 73.9L418.2 73.9L418.6 73.8L419.0 73.7L419.4 73.6L419.8 73.5L420.2 73.4L420.6 73.3L421.0 73.2L421.4 73.2L421.8 73.1L422.2 73.1L422.6 73.1L423.0 73.2L423.4 73.2L423.8 73.3L424.2 73.3L424.6 73.4L425.0 73.5L425.4 73.6L425.8 73.7L426.2 73.8L426.6 73.9L427.0 73.9L427.4 74.0L427.8 74.0L428.2 74.1L428.6 74.1L429.0 74.1L429.4 74.0L429.8 74.0L430.2 73.9L430.6 73.8L431.0 73.7L431.4 73.6L431.8 73.5L432.2 73.4L432.6 73.3L433.0 73.3L433.4 73.2L433.8 73.2L434.2 73.1L434.6 73.1L435.0 73.1L435.4 73.2L435.8 73.2L436.2 73.3L436.6 73.4L437.0 73.5L437.4 73.6L437.8 73.6L438.2 73.7L438.6 73.8L439.0 73.9L439.4 74.0L439.8 74.0L440.2 74.1L440.6 74.1L441.0 74.1L441.4 74.0L441.8 74.0L442.2 73.9L442.6 73.9L443.0 73.8L443.4 73.7L443.8 73.6L444.2 73.5L444.6 73.4L445.0 73.3L445.4 73.2L445.8 73.2L446.2 73.1L446.6 73.1L447.0 73.1L447.4 73.2L447.8 73.2L448.2 73.3L448.6 73.3L449.0 73.4L449.4 73.5L449.8 73.6L450.2 73.7L450.6 73.8L451.0 73.9L451.4 73.9L451.8 74.0L452.2 74.0L452.6 74.1L453.0 74.1L453.4 74.1L453.8 74.0L454.2 74.0L454.6 73.9L455.0 73.8L455.4 73.7L455.8 73.6L456.2 73.5L456.6 73.4L457.0 73.3L457.4 73.3L457.8 73.2L458.2 73.2L458.6 73.1L459.0 73.1L459.4 73.1L459.8 73.2L460.2 73.2L460.6 73.3L461.0 73.4L461.4 73.5L461.8 73.6L462.2 73.6L462.6 73.7L463.0 73.8L463.4 73.9L463.8 74.0L464.2 74.0L464.6 74.1L465.0 74.1L465.4 74.1L465.8 74.0L466.2 74.0L466.6 73.9L467.0 73.9L467.4 73.8L467.8 73.7L468.2 73.6L468.6 73.5L469.0 73.4L469.4 73.3L469.8 73.2L470.2 73.2L470.6 73.1L471.0 73.1L471.4 73.1L471.8 73.2L472.2 73.2L472.6 73.3L473.0 73.3L473.4 73.4L473.8 73.5L474.2 73.6L474.6 73.7L475.0 73.8L475.4 73.9L475.8 73.9L476.2 74.0L476.6 74.0L477.0 74.1L477.4 74.1L477.8 74.1L478.2 74.0L478.6 74.0L479.0 73.9L479.4 73.8L479.8 73.7L480.2 73.6L480.6 73.5L481.0 73.4L481.4 73.3L481.8 73.3L482.2 73.2L482.6 73.2L483.0 73.1L483.4 73.1L483.8 73.1L484.2 73.2L484.6 73.2L485.0 73.3L485.4 73.4L485.8 73.5L486.2 73.6L486.6 73.6L487.0 73.7L487.4 73.8L487.8 73.9L488.2 74.0L488.6 74.0L489.0 74.1L489.4 74.1L489.8 74.1L490.2 74.0L490.6 74.0L491.0 73.9L491.4 73.9L491.8 73.8L492.2 73.7L492.6 73.6L493.0 73.5L493.4 73.4L493.8 73.3L494.2 73.2L494.6 73.2L495.0 73.1L495.4 73.1L495.8 73.1L496.2 73.2L496.6 73.2L497.0 73.3L497.4 73.3L497.8 73.4L498.2 73.5L498.6 73.6L499.0 73.7L499.4 73.8L499.8 73.9L500.2 73.9L500.6 74.0L501.0 74.0L501.4 74.1L501.8 74.1L502.2 74.1L502.6 74.0L503.0 74.0L503.4 73.9L503.8 73.8L504.2 73.7L504.6 73.6L505.0 73.5L505.4 73.4L505.8 73.3L506.2 73.3L506.6 73.2L507.0 73.2L507.4 73.1L507.8 73.1L508.2 73.1L508.6 73.2L509.0 73.2L509.4 73.3L509.8 73.4L510.2 73.5L510.6 73.6L511.0 73.6L511.4 73.7L511.8 73.8L512.2 73.9L512.6 74.0L513.0 74.0L513.4 74.1L513.8 74.1L514.2 74.1L514.6 74.0L515.0 74.0L515.4 73.9L515.8 73.9L516.2 73.8L516.6 73.7L517.0 73.6L517.4 73.5L517.8 73.4L518.2 73.3L518.6 73.2L519.0 73.2L519.4 73.1L519.8 73.1L520.2 73.1L520.6 73.2L521.0 73.2L521.4 73.3L521.8 73.3L522.2 73.4L522.6 73.5L523.0 73.6L523.4 73.7L523.8 73.8L524.2 73.9L524.6 73.9L525.0 74.0L525.4 74.0L525.8 74.1L526.2 74.1L526.6 74.1L527.0 74.0L527.4 74.0L527.8 73.9L528.2 73.8L528.6 73.7L529.0 73.6L529.4 73.5L529.8 73.4L530.2 73.3L530.6 73.3L531.0 73.2L531.4 73.2L531.8 73.1L532.2 73.1L532.6 73.1L533.0 73.2L533.4 73.2L533.8 73.3L534.2 73.4L534.6 73.5L535.0 73.6L535.4 73.6L535.8 73.7"/>
<rect x="480.8" y="8.2" width="51.5" height="44" class="lg"/>
<line x1="482.8" y1="14.9" x2="499.3" y2="14.9" stroke="#3545ff" stroke-width="1.1"/>
<line x1="482.8" y1="25.4" x2="499.3" y2="25.4" stroke="#ff3c3c" stroke-width="1.1"/>
<line x1="482.8" y1="35.9" x2="499.3" y2="35.9" stroke="#3ca03c" stroke-width="1.1"/>
<line x1="482.8" y1="46.4" x2="499.3" y2="46.4" stroke="#9a2030" stroke-width="1.1"/>
<line x1="307.0" y1="7.4" x2="540.5" y2="7.4" class="fr"/>
<line x1="540.5" y1="7.4" x2="540.5" y2="140.0" class="fr2"/>
<line x1="307.0" y1="140.0" x2="540.5" y2="140.0" class="ax"/>
<line x1="307.0" y1="7.4" x2="307.0" y2="140.0" class="ax"/>
<path d="M305.2 11.4L307.0 7.6L308.8 11.4Z" fill="#000"/>
<path d="M536.9 138.2L541.3 140.0L536.9 141.8Z" fill="#000"/>
<line x1="307.0" y1="140.0" x2="307.0" y2="142.5" class="tk"/>
<line x1="328.2" y1="140.0" x2="328.2" y2="141.5" class="tk"/>
<line x1="349.4" y1="140.0" x2="349.4" y2="142.5" class="tk"/>
<line x1="370.7" y1="140.0" x2="370.7" y2="141.5" class="tk"/>
<line x1="391.9" y1="140.0" x2="391.9" y2="142.5" class="tk"/>
<line x1="413.1" y1="140.0" x2="413.1" y2="141.5" class="tk"/>
<line x1="434.4" y1="140.0" x2="434.4" y2="142.5" class="tk"/>
<line x1="455.6" y1="140.0" x2="455.6" y2="141.5" class="tk"/>
<line x1="476.8" y1="140.0" x2="476.8" y2="142.5" class="tk"/>
<line x1="498.0" y1="140.0" x2="498.0" y2="141.5" class="tk"/>
<line x1="519.2" y1="140.0" x2="519.2" y2="142.5" class="tk"/>
<line x1="304.8" y1="130.0" x2="307.0" y2="130.0" class="tk"/>
<line x1="305.6" y1="115.9" x2="307.0" y2="115.9" class="tk"/>
<line x1="304.8" y1="101.8" x2="307.0" y2="101.8" class="tk"/>
<line x1="305.6" y1="87.7" x2="307.0" y2="87.7" class="tk"/>
<line x1="304.8" y1="73.6" x2="307.0" y2="73.6" class="tk"/>
<line x1="305.6" y1="59.5" x2="307.0" y2="59.5" class="tk"/>
<line x1="304.8" y1="45.4" x2="307.0" y2="45.4" class="tk"/>
<line x1="305.6" y1="31.3" x2="307.0" y2="31.3" class="tk"/>
<line x1="304.8" y1="17.2" x2="307.0" y2="17.2" class="tk"/>
<line x1="83.0" y1="170.4" x2="83.0" y2="303.0" class="gr"/>
<line x1="125.4" y1="170.4" x2="125.4" y2="303.0" class="gr"/>
<line x1="167.9" y1="170.4" x2="167.9" y2="303.0" class="gr"/>
<line x1="210.3" y1="170.4" x2="210.3" y2="303.0" class="gr"/>
<line x1="252.8" y1="170.4" x2="252.8" y2="303.0" class="gr"/>
<line x1="40.5" y1="183.3" x2="274.0" y2="183.3" class="gr"/>
<line x1="40.5" y1="210.0" x2="274.0" y2="210.0" class="gr"/>
<line x1="40.5" y1="263.2" x2="274.0" y2="263.2" class="gr"/>
<line x1="40.5" y1="289.9" x2="274.0" y2="289.9" class="gr"/>
<path class="bl" d="M40.5 236.6L40.8 234.3L41.0 232.6L41.3 234.3L41.6 237.3L42.0 237.7L42.3 236.2L42.5 234.3L42.8 233.2L43.1 234.8L43.3 237.3L43.6 239.4L44.0 237.8L44.3 234.9L44.6 236.5L45.0 241.7L45.3 239.6L45.5 231.5L45.8 224.7L46.1 236.3L46.5 256.4L46.9 230.2L47.2 204.4L47.5 207.9L47.7 195.4L48.0 212.3L48.3 198.7L48.7 232.6L49.0 257.7L49.3 285.8L49.5 262.4L49.8 249.6L50.0 227.3L50.3 204.4L50.7 198.7L51.0 195.4L51.4 210.0L51.8 201.0L52.0 227.4L52.3 246.2L52.6 236.5L53.0 225.9L53.3 238.9L53.6 257.5L53.9 244.7L54.2 238.3L54.5 255.1L54.8 282.9L55.2 255.2L55.5 223.6L55.8 229.4L56.0 238.1L56.3 243.9L56.6 244.7L56.8 251.9L57.1 248.9L57.4 257.5L57.7 250.8L57.9 241.5L58.2 234.9L58.5 230.4L58.8 219.1L59.2 193.1L59.6 176.1L60.0 207.8L60.3 237.8L60.6 259.8L60.9 238.2L61.2 221.3L61.5 217.0L61.7 203.0L62.0 197.6L62.2 212.4L62.5 219.1L62.9 234.8L63.2 255.2L63.5 261.2L63.8 268.8L64.2 273.2L64.5 299.3L64.8 269.5L65.0 266.5L65.2 258.8L65.5 260.9L65.8 258.6L66.0 269.5L66.2 270.5L66.5 275.6L66.8 267.3L67.0 257.6L67.2 242.4L67.5 238.3L67.8 227.3L68.2 212.3L68.5 213.7L68.7 206.7L69.0 212.7L69.2 203.3L69.5 212.3L69.7 201.0L70.0 209.2L70.2 206.7L70.6 215.7L71.0 223.6L71.2 223.9L71.5 219.2L71.8 220.0L72.0 215.7L72.2 224.0L72.5 232.2L72.8 245.1L73.0 259.2L73.2 263.8L73.5 272.2L73.8 263.5L74.0 262.8L74.2 253.5L74.5 252.1L74.8 245.4L75.0 243.9L75.3 244.5L75.5 247.8L75.8 247.8L76.1 255.3L76.3 256.4L76.6 258.6L76.9 252.2L77.1 247.1L77.4 236.0L77.7 228.9L78.0 222.7L78.2 215.6L78.5 210.0L78.8 213.1L79.1 206.0L79.3 204.3L79.6 201.2L79.9 202.1L80.2 209.4L80.5 212.9L80.7 223.4L81.0 223.6L81.2 225.8L81.5 221.5L81.8 222.9L82.0 215.7L82.3 219.0L82.5 219.6L82.8 227.8L83.1 234.7L83.3 243.4L83.6 256.0L83.9 260.6L84.1 268.0L84.4 267.7L84.7 262.6L84.9 260.1L85.2 249.6L85.5 245.6L85.7 237.3L86.0 238.3L86.3 236.2L86.6 242.2L86.9 245.6L87.2 248.5L87.5 248.2L87.8 241.1L88.1 232.1L88.3 219.7L88.6 216.4L88.9 213.0L89.2 222.5L89.5 229.8L89.8 234.9L90.0 237.7L90.3 251.4L90.5 261.2L90.8 266.5L91.1 253.4L91.4 228.7L91.7 216.8L92.0 219.0L92.2 222.8L92.5 231.2L92.8 232.6L93.1 236.5L93.4 243.1L93.7 246.9L94.0 250.7L94.2 247.8L94.5 245.5L94.8 239.4L95.0 234.4L95.2 232.1L95.5 230.4L95.8 230.2L96.0 229.6L96.3 230.3L96.6 226.4L96.8 224.2L97.1 217.2L97.4 217.2L97.6 211.4L97.9 213.4L98.2 217.5L98.5 224.7L98.7 233.9L99.0 234.9L99.3 237.9L99.5 240.6L99.8 243.7L100.1 252.3L100.4 253.3L100.7 260.2L100.9 257.7L101.2 266.5L101.5 261.0L101.7 259.8L102.0 252.2L102.2 248.7L102.5 243.9L102.8 243.7L103.1 247.7L103.4 247.7L103.7 253.0L104.0 246.7L104.2 243.9L104.5 237.4L104.7 231.4L105.0 230.4L105.2 232.7L105.5 230.4L105.8 228.2L106.0 221.3L106.2 217.2L106.5 210.6L106.8 211.1L107.0 210.0L107.2 215.3L107.5 219.2L107.8 227.0L108.0 227.0L108.3 226.3L108.6 221.8L108.9 219.1L109.2 224.6L109.4 227.1L109.7 234.2L110.0 239.2L110.2 242.5L110.5 249.6L110.8 247.5L111.0 254.5L111.3 254.7L111.5 260.5L111.8 259.6L112.0 265.0L112.3 263.4L112.5 269.5L112.8 271.1L113.1 266.3L113.4 263.2L113.7 255.5L113.9 250.2L114.2 245.3L114.5 243.9L114.8 244.3L115.0 241.2L115.2 237.0L115.5 234.9L115.8 232.4L116.0 230.0L116.3 229.4L116.5 226.4L116.8 224.4L117.0 219.6L117.3 217.0L117.5 214.1L117.8 213.0L118.1 217.4L118.4 219.3L118.7 224.1L118.9 227.4L119.2 231.0L119.5 234.9L119.8 234.6L120.0 234.5L120.2 234.5L120.5 230.4L120.8 233.3L121.0 233.5L121.2 236.7L121.5 241.1L121.8 246.5L122.0 252.8L122.2 256.8L122.5 261.3L122.8 262.6L123.0 265.4L123.2 263.8L123.5 264.4L123.8 260.9L124.0 256.9L124.2 249.3L124.5 245.6L124.8 240.8L125.0 243.9L125.2 240.4L125.5 239.4L125.8 237.0L126.0 234.9L126.2 235.8L126.5 232.2L126.8 229.0L127.0 223.6L127.2 219.3L127.5 212.9L127.8 209.8L128.0 202.3L128.2 202.4L128.5 200.6L128.8 203.9L129.0 209.5L129.2 220.3L129.5 227.1L129.8 232.5L130.0 232.6L130.2 231.2L130.5 227.9L130.8 226.7L131.0 225.9L131.3 227.9L131.5 231.3L131.8 236.5L132.0 245.6L132.3 253.8L132.5 263.4L132.8 269.6L133.0 274.5L133.3 274.5L133.6 268.5L133.9 266.2L134.2 258.1L134.4 254.3L134.7 250.0L135.0 248.5L135.3 247.2L135.5 245.3L135.8 240.3L136.0 235.1L136.3 230.0L136.5 222.4L136.8 218.2L137.0 209.8L137.3 207.8L137.5 202.4L137.8 202.5L138.1 208.4L138.4 214.2L138.7 222.5L139.0 223.6L139.2 223.4L139.5 219.6L139.8 218.1L140.0 216.8L140.3 219.6L140.5 220.6L140.8 226.2L141.0 231.0L141.3 237.2L141.6 246.2L141.8 253.3L142.1 262.1L142.4 267.5L142.6 274.4L142.9 275.4L143.1 281.5L143.4 282.9L143.7 277.2L143.9 276.2L144.2 266.5L144.5 262.3L144.7 255.1L145.0 255.2L145.2 251.7L145.5 249.6L145.8 244.3L146.0 243.9L146.3 241.8L146.5 238.2L146.8 232.6L147.1 223.6L147.3 216.4L147.6 207.1L147.9 201.5L148.1 196.3L148.4 194.8L148.7 199.6L148.9 208.1L149.2 218.5L149.5 221.3L149.8 221.0L150.0 216.8L150.2 215.6L150.5 212.3L150.8 215.6L151.0 215.6L151.3 219.8L151.5 224.8L151.8 231.3L152.0 237.6L152.3 244.1L152.5 251.3L152.8 257.1"/>
<path class="bl2" d="M152.8 257.1L153.0 262.7L153.3 266.4L153.5 269.1L153.8 269.9L154.1 268.4L154.4 264.9L154.7 259.6L154.9 254.7L155.2 250.8L155.5 249.6L155.8 248.4L156.0 245.7L156.3 240.8L156.5 235.4L156.8 229.5L157.1 222.7L157.3 217.4L157.6 212.5L157.8 209.9L158.1 208.6L158.4 211.1L158.6 216.1L158.9 221.8L159.2 223.6L159.5 222.6L159.7 220.2L160.0 219.1L160.3 220.2L160.5 222.0L160.8 225.8L161.0 229.8L161.3 235.4L161.6 240.6L161.8 245.7L162.1 251.3L162.3 255.5L162.6 259.1L162.8 261.1L163.1 262.0L163.4 260.6L163.7 258.1L163.9 254.4L164.2 251.8L164.5 250.7L164.8 250.7L165.0 251.9L165.2 252.2L165.5 253.0L165.8 251.9L166.0 249.8L166.3 245.7L166.6 241.1L166.8 236.0L167.1 229.8L167.3 224.6L167.6 219.3L167.9 215.7L168.1 213.1L168.4 212.3L168.7 214.6L168.9 219.7L169.2 225.0L169.5 227.0L169.8 226.6L170.0 224.5L170.3 223.6L170.6 225.2L170.9 228.1L171.1 233.2L171.4 238.9L171.7 244.3L171.9 249.6L172.2 252.5L172.5 254.1L172.8 253.2L173.0 252.1L173.2 249.9L173.5 248.2L173.8 246.4L174.0 246.2L174.2 246.4L174.5 247.3L174.8 248.0L175.0 248.5L175.2 247.6L175.5 246.7L175.8 244.3L176.0 242.0L176.2 238.5L176.5 235.5L176.8 232.5L177.0 229.0L177.2 226.5L177.5 224.2L177.8 223.3L178.0 222.5L178.2 223.5L178.5 225.0L178.8 227.7L179.0 230.1L179.2 232.2L179.5 232.6L179.8 232.3L180.0 231.0L180.3 230.4L180.6 231.1L180.8 232.5L181.1 235.2L181.3 237.9L181.6 240.8L181.8 243.9L182.1 246.1L182.3 247.9L182.6 248.5L182.9 248.1L183.1 247.7L183.4 246.3L183.6 245.4L183.9 243.6L184.1 242.0L184.4 239.6L184.6 237.7L184.9 235.8L185.2 233.2L185.4 231.4L185.7 229.0L185.9 227.4L186.2 225.5L186.4 224.6L186.7 223.3L186.9 223.0L187.2 222.5L187.5 223.3L187.7 224.4L188.0 226.7L188.2 228.7L188.5 230.8L188.7 232.1L189.0 232.6L189.3 232.3L189.5 231.0L189.8 230.4L190.1 231.0L190.3 232.2L190.6 234.5L190.8 237.0L191.1 239.6L191.4 243.0L191.6 245.5L191.9 247.8L192.1 248.9L192.4 249.6L192.7 248.9L192.9 248.4L193.2 246.7L193.4 245.0L193.7 242.5L194.0 240.0L194.2 236.8L194.5 234.1L194.8 231.3L195.0 228.1L195.3 225.8L195.6 223.1L195.8 221.3L196.1 219.7L196.3 219.1L196.6 218.5L196.9 219.1L197.1 219.9L197.4 221.8L197.7 223.9L197.9 227.1L198.2 229.9L198.4 233.6L198.7 236.9L199.0 240.2L199.2 243.9L199.5 246.7L199.8 249.9L200.0 251.7L200.3 253.8L200.5 254.6L200.8 255.2L201.1 254.7L201.3 254.3L201.6 252.8L201.8 251.5L202.1 249.2L202.4 247.1L202.6 244.1L202.9 241.6L203.1 238.3L203.4 235.5L203.7 232.7L203.9 229.4L204.2 226.8L204.4 223.8L204.7 221.9L205.0 219.5L205.2 218.2L205.5 216.7L205.7 216.3L206.0 215.7L206.3 216.4L206.5 216.8L206.8 218.5L207.0 220.2L207.3 222.9L207.5 225.3L207.8 228.8L208.0 231.7L208.3 235.6L208.5 238.7L208.8 242.0L209.0 245.5L209.3 248.4L209.5 251.3L209.8 253.4L210.0 255.6L210.3 256.9L210.5 257.9L210.8 258.2L211.1 257.7L211.3 257.1L211.6 255.7L211.8 254.1L212.1 251.5L212.4 249.3L212.6 246.1L212.9 243.3L213.1 239.6L213.4 236.7L213.7 233.5L213.9 230.0L214.2 227.2L214.4 224.0L214.7 221.8L215.0 219.2L215.2 217.6L215.5 216.2L215.7 215.8L216.0 215.1L216.3 215.8L216.5 216.1L216.8 217.6L217.0 219.1L217.3 221.7L217.6 223.7L217.8 226.7L218.1 229.5L218.3 232.9L218.6 235.9L218.9 238.7L219.1 242.3L219.4 245.0L219.6 248.1L219.9 250.5L220.2 252.7L220.4 254.2L220.7 255.7L220.9 256.2L221.2 256.7L221.5 256.3L221.7 255.8L222.0 254.5L222.2 253.1L222.5 250.9L222.7 248.9L223.0 246.0L223.2 243.5L223.5 240.4L223.7 237.5L224.0 234.7L224.2 231.3L224.5 228.6L224.7 225.5L225.0 223.1L225.2 220.7L225.5 219.0L225.7 217.2L226.0 216.4L226.2 215.4L226.5 215.1L226.8 215.7L227.0 216.3L227.3 217.9L227.5 219.7L227.8 222.5L228.0 224.9L228.3 228.4L228.6 231.4L228.8 235.3L229.1 238.4L229.3 241.8L229.6 245.3L229.9 248.2L230.1 251.2L230.4 253.5L230.6 255.6L230.9 256.6L231.1 257.9L231.4 258.2L231.7 257.7L231.9 256.9L232.2 255.1L232.4 253.1L232.7 250.2L233.0 247.4L233.2 243.6L233.5 240.4L233.8 236.3L234.0 232.9L234.3 229.5L234.5 225.9L234.8 223.0L235.1 220.2L235.3 218.4L235.6 216.4L235.8 215.8L236.1 215.1L236.4 215.7L236.6 216.1L236.9 217.5L237.1 219.1L237.4 221.4L237.7 223.7L237.9 226.8L238.2 229.5L238.4 232.9L238.7 235.9L239.0 239.0L239.2 242.3L239.5 244.9L239.7 248.1L240.0 250.3L240.3 252.7L240.5 254.1L240.8 255.7L241.0 256.3L241.3 256.7L241.6 256.1L241.8 255.8L242.1 254.5L242.3 253.1L242.6 250.7L242.8 248.8L243.1 246.0L243.3 243.5L243.6 240.4L243.9 237.6L244.1 234.9L244.4 231.7L244.6 229.4L244.9 226.4L245.1 224.3L245.4 222.2L245.6 220.8L245.9 219.5L246.1 219.0L246.4 218.5L246.7 218.9L246.9 219.4L247.2 220.6L247.4 222.0L247.7 224.0L248.0 225.9L248.2 228.5L248.5 231.0L248.7 233.9L249.0 236.5L249.3 239.1L249.5 242.1L249.8 244.5L250.0 247.1L250.3 248.9L250.6 251.1L250.8 252.4L251.1 253.7L251.3 254.1L251.6 254.6L251.9 254.2L252.1 253.7L252.4 252.5L252.6 251.3L252.9 249.4L253.1 247.4L253.4 244.9L253.6 242.6L253.9 239.9L254.1 237.3L254.4 234.9L254.7 231.9L254.9 229.7L255.2 227.1L255.4 225.2L255.7 223.3L255.9 222.1L256.2 220.8L256.4 220.6L256.7 220.0L257.0 220.3L257.2 220.6L257.5 221.8L257.7 222.5L258.0 224.1L258.2 225.5L258.5 227.5L258.7 229.2L259.0 231.7L259.2 233.4L259.5 235.8L259.7 237.7L260.0 239.5L260.2 241.8L260.5 243.2L260.7 245.2L261.0 246.1L261.2 247.6L261.5 248.2L261.7 248.9L262.0 249.0L262.2 248.3L262.5 247.8L262.8 246.1L263.0 245.2L263.2 244.0L263.5 243.9L263.8 244.0L264.0 245.1L264.2 245.6L264.5 246.2L264.8 245.5L265.0 244.2L265.2 241.6L265.5 238.8L265.8 235.6L266.0 232.2L266.2 229.5L266.5 226.8L266.8 225.5L267.0 224.7L267.3 225.4L267.6 226.5L267.8 228.5L268.1 230.7L268.4 233.3L268.6 234.9L268.9 236.6L269.2 236.6"/>
<path class="rd" d="M40.5 237.3L40.8 235.4L41.1 237.1L41.4 234.7L41.7 236.7L42.0 234.9L42.3 236.3L42.6 235.2L42.9 238.5L43.2 237.8L43.5 240.4L43.8 237.4L44.1 238.7L44.4 234.9L44.7 236.0L45.0 233.7L45.3 236.4L45.6 236.0L46.0 240.7L46.3 239.3L46.6 240.0L46.9 234.1L47.2 231.7L47.5 227.6L47.8 231.2L48.2 233.3L48.5 236.9L48.9 240.1L49.2 248.0L49.5 236.6L49.9 230.5L50.3 232.6L50.8 239.8L51.1 236.7L51.4 237.0L51.7 232.5L52.0 234.7L52.3 233.2L52.6 236.0L52.9 236.9L53.3 241.7L53.6 241.4L53.9 245.1L54.2 243.7L54.5 244.4L54.9 239.7L55.2 238.6L55.5 235.5L55.8 238.6L56.2 237.7L56.5 241.2L56.8 237.7L57.1 238.7L57.4 233.2L57.7 234.1L58.0 231.4L58.3 233.3L58.7 229.8L59.0 232.0L59.3 228.6L59.6 230.1L60.0 227.6L60.3 229.5L60.6 228.3L61.0 232.7L61.3 232.7L61.7 234.1L62.0 229.9L62.4 231.5L62.7 229.9L63.0 233.2L63.3 233.2L63.6 236.6L63.9 236.7L64.2 241.6L64.5 241.6L64.8 244.9L65.1 244.2L65.4 246.3L65.8 243.0L66.2 242.7L66.6 238.4L66.9 241.6L67.3 240.1L67.6 243.1L67.9 241.2L68.2 241.5L68.5 237.7L68.8 236.4L69.1 232.3L69.4 232.3L69.7 229.1L70.0 229.8L70.3 228.2L70.7 231.6L71.0 230.8L71.3 235.4L71.7 234.2L72.0 236.5L72.3 234.2L72.6 235.9L72.9 232.9L73.2 234.5L73.5 232.0L73.8 235.0L74.1 233.4L74.4 236.8L74.7 236.8L75.0 240.0L75.3 240.7L75.6 243.7L75.9 242.9L76.2 244.6L76.5 243.4L76.8 243.7L77.1 241.4L77.4 241.2L77.8 238.9L78.1 239.2L78.4 237.1L78.7 237.6L79.0 236.0L79.3 237.0L79.7 234.7L80.0 234.6L80.3 231.4L80.6 231.1L81.0 229.5L81.3 230.3L81.6 228.7L81.9 230.8L82.3 230.6L82.6 233.1L82.9 233.1L83.2 235.4L83.5 235.5L83.9 237.5L84.2 236.8L84.5 238.2L84.8 236.6L85.2 236.9L85.5 235.1L85.8 236.7L86.2 236.8L86.5 240.2L86.9 241.4L87.2 244.3L87.6 243.5L87.9 244.1L88.2 242.3L88.5 242.5L88.8 239.9L89.1 239.4L89.4 237.1L89.7 237.8L90.0 236.0L90.3 237.2L90.6 235.1L90.9 234.9L91.2 232.3L91.6 232.6L91.9 229.9L92.2 230.2L92.5 229.1L92.8 230.4L93.1 229.9L93.4 232.2L93.8 231.6L94.1 234.1L94.4 234.1L94.7 236.1L95.0 234.7L95.3 236.1L95.7 234.1L96.0 234.7L96.3 234.0L96.7 236.1L97.0 235.7L97.3 238.0L97.7 238.3L98.0 240.9L98.3 240.9L98.6 243.5L99.0 242.7L99.3 243.7L99.6 242.3L99.9 243.9L100.2 241.5L100.5 242.5L100.8 240.2L101.1 241.2L101.4 238.8L101.7 239.1L102.0 236.3L102.3 236.9L102.7 234.4L103.0 234.6L103.3 232.6L103.6 232.9L103.9 231.4L104.2 232.0L104.5 230.5L104.8 231.8L105.1 230.7L105.4 232.3L105.7 231.0L106.0 233.4L106.3 232.2L106.6 235.0L106.9 234.3L107.2 236.4L107.5 236.3L107.8 238.7L108.1 238.8L108.5 241.0L108.8 240.5L109.1 242.5L109.4 241.6L109.7 243.7L110.0 242.7L110.3 243.9L110.6 242.4L110.9 243.7L111.2 241.7L111.5 242.5L111.8 240.7L112.1 241.0L112.4 238.4L112.7 238.7L113.0 236.3L113.3 237.0L113.6 234.2L113.9 234.9L114.2 232.9L114.5 233.2L114.9 230.9L115.2 231.7L115.5 230.5L115.8 231.4L116.1 230.4L116.4 231.9L116.7 231.1L117.0 233.3L117.3 232.9L117.6 234.4L117.9 234.6L118.2 236.5L118.5 236.8L118.8 239.2L119.1 238.4L119.4 240.6L119.7 240.5L120.0 242.5L120.3 242.0L120.6 243.6L121.0 242.5L121.3 244.1L121.6 242.7L121.9 243.5L122.2 242.0L122.5 242.4L122.8 240.5L123.1 241.2L123.4 238.8L123.7 238.7L124.0 236.9L124.3 236.9L124.6 234.5L124.9 235.2L125.2 232.9L125.5 233.6L125.8 231.4L126.1 232.3L126.4 230.8L126.8 231.9L127.1 230.6L127.4 232.3L127.7 231.3L128.0 233.3L128.3 233.0L128.6 235.0L128.9 234.5L129.2 236.6L129.5 236.7L129.8 239.0L130.1 238.5L130.4 241.3L130.7 240.6L131.0 242.9L131.3 241.7L131.6 243.5L131.9 242.7L132.2 243.8L132.5 242.4L132.9 243.8L133.2 241.6L133.5 242.8L133.8 240.4L134.1 241.2L134.4 238.7L134.7 238.8L135.0 236.6L135.3 236.6L135.6 234.9L135.9 235.2L136.2 233.1L136.5 233.1L136.8 231.7L137.1 232.6L137.4 230.9L137.7 231.6L138.0 230.5L138.3 232.0L138.6 231.2L139.0 233.5L139.3 232.5L139.6 235.3L139.9 234.5L140.2 237.2L140.5 237.0L140.8 239.2L141.1 238.7L141.4 241.2L141.7 240.8L142.0 242.8L142.3 241.6L142.6 243.4L142.9 242.8L143.2 244.1L143.5 242.4L143.8 243.5L144.1 242.1L144.4 242.4L144.7 240.5L145.1 241.2L145.4 238.8L145.7 239.0L146.0 236.7L146.3 236.8L146.6 234.7L146.9 234.5L147.2 233.1L147.5 233.2L147.8 231.8L148.1 232.1L148.4 231.2L148.7 231.7L149.0 231.0L149.3 232.0L149.6 231.7L149.9 232.9L150.2 232.9L150.5 234.5L150.8 234.7L151.2 236.0L151.5 236.4L151.8 238.2L152.1 238.3L152.4 239.8L152.7 239.9L153.0 241.2L153.3 241.3L153.6 242.1L153.9 241.8L154.2 242.5L154.5 241.9L154.8 242.3L155.1 241.0L155.4 241.2L155.7 239.9L156.0 239.8L156.3 238.2L156.6 238.1L156.9 236.5L157.2 236.0L157.6 234.7L157.9 234.4L158.2 233.0L158.5 232.8L158.8 231.7L159.1 231.9L159.4 230.9L159.7 231.5L160.0 230.9L160.3 231.9L160.6 231.7L160.9 232.9L161.2 232.8L161.5 234.5L161.8 234.5L162.1 236.1L162.4 236.4L162.7 238.2L163.0 238.3L163.3 239.9L163.7 239.8L164.0 241.3L164.3 241.3L164.6 242.2L164.9 241.8L165.2 242.6L165.5 241.7L165.8 242.4L166.1 241.3L166.4 241.2L166.7 240.0L167.0 239.7L167.3 238.2L167.6 238.2L167.9 236.3L168.2 236.1L168.5 234.4L168.8 234.3L169.1 232.9L169.4 233.0L169.8 231.8L170.1 231.8L170.4 230.9L170.7 231.5L171.0 231.1L171.3 232.0L171.6 231.6L171.9 232.7L172.2 233.0L172.5 234.3L172.8 234.6L173.1 236.0L173.4 236.4L173.7 238.2L174.0 238.4L174.3 239.9L174.6 240.1L174.9 241.2L175.2 241.1L175.5 242.1L175.9 241.7L176.2 242.7L176.5 242.0L176.8 242.4L177.1 241.2L177.4 241.4L177.7 239.9L178.0 239.8L178.3 238.3L178.6 238.1L178.9 236.3L179.2 236.1L179.5 234.5L179.8 234.5L180.1 232.9L180.4 232.9L180.7 231.8L181.0 231.9L181.3 231.1L181.6 231.7L182.0 231.0L182.3 232.0L182.6 231.8L182.9 233.0L183.2 232.9L183.5 234.2L183.8 234.4L184.1 236.2L184.4 236.6L184.7 238.2L185.0 238.4L185.3 239.8L185.6 239.9L185.9 241.3L186.2 241.2L186.5 242.3L186.8 241.9L187.1 242.5L187.4 242.0L187.7 242.1L188.1 241.1L188.4 241.4L188.7 239.9L189.0 239.9L189.3 238.4L189.6 238.0L189.9 236.5L190.2 236.3L190.5 234.7L190.8 234.4L191.1 233.0L191.4 233.0L191.7 231.7L192.0 231.9L192.3 231.1L192.6 231.6L192.9 230.9L193.2 231.9L193.5 231.6L193.8 232.8L194.2 233.0L194.5 234.2L194.8 234.7L195.1 236.2L195.4 236.4L195.7 237.9L196.0 238.4L196.3 239.8L196.6 239.9L196.9 241.4L197.2 241.1L197.5 242.3L197.8 242.0L198.1 242.5L198.4 241.9L198.7 242.3L199.0 241.2L199.3 241.2L199.6 240.1L199.9 239.9L200.3 238.5L200.6 238.2L200.9 236.3L201.2 236.3L201.5 234.6L201.8 234.4L202.1 232.9L202.4 232.9L202.7 231.5L203.0 232.0L203.3 231.1L203.6 231.7L203.9 231.0L204.2 232.0L204.5 231.6L204.8 232.7L205.1 232.8L205.4 234.4L205.7 234.6L206.0 236.2L206.4 236.5L206.7 237.9L207.0 238.3L207.3 239.7L207.6 240.0L207.9 241.4L208.2 241.2L208.5 242.3L208.8 241.7L209.1 242.7L209.4 242.0L209.7 242.4L210.0 241.1L210.3 241.1L210.6 240.0L210.9 239.7L211.2 238.5L211.5 238.1L211.8 236.3L212.1 236.1L212.5 234.4L212.8 234.4L213.1 233.0L213.4 233.0L213.7 231.7L214.0 232.1L214.3 231.0L214.6 231.7L214.9 231.1L215.2 232.1L215.5 231.5L215.8 233.0L216.1 232.9L216.4 234.5L216.7 234.6L217.0 236.0L217.3 236.6L217.6 237.9L217.9 238.4L218.2 239.7L218.6 240.0L218.9 241.4L219.2 241.2L219.5 242.2L219.8 241.8L220.1 242.5L220.4 241.8L220.7 242.3L221.0 241.2L221.3 241.2L221.6 239.8L221.9 239.9L222.2 238.4L222.5 238.0L222.8 236.4L223.1 236.2L223.4 234.7L223.7 234.2L224.0 233.0L224.3 233.0L224.7 231.8L225.0 231.9L225.3 231.2L225.6 231.5L225.9 231.2L226.2 231.9L226.5 231.8L226.8 232.7L227.1 233.1L227.4 234.2L227.7 234.6L228.0 236.0L228.3 236.6L228.6 238.0L228.9 238.3L229.2 239.9L229.5 240.1L229.8 241.3L230.1 241.2L230.4 242.1L230.8 241.7L231.1 242.5L231.4 242.0L231.7 242.2L232.0 241.3L232.3 241.3L232.6 240.0L232.9 239.7L233.2 238.5L233.5 238.1L233.8 236.5L234.1 236.3L234.4 234.6L234.7 234.5L235.0 233.0L235.3 232.8L235.6 231.8L235.9 232.1L236.2 231.0L236.5 231.6L236.9 231.2L237.2 232.0L237.5 231.5L237.8 232.9L238.1 233.1L238.4 234.2L238.7 234.7L239.0 236.0L239.3 236.6L239.6 237.9L239.9 238.3L240.2 240.0L240.5 240.1L240.8 241.5L241.1 241.2L241.4 242.4L241.7 241.7L242.0 242.7L242.3 242.0L242.6 242.2L243.0 241.1L243.3 241.5L243.6 240.1L243.9 239.8L244.2 238.2L244.5 237.9L244.8 236.5L245.1 236.1L245.4 234.5L245.7 234.5L246.0 233.0L246.3 233.0L246.6 231.6L246.9 232.1L247.2 231.0L247.5 231.8L247.8 231.1L248.1 231.9L248.4 231.8L248.7 233.0L249.1 232.9L249.4 234.3L249.7 234.7L250.0 236.2L250.3 236.4L250.6 238.1L250.9 238.4L251.2 239.8L251.5 240.1L251.8 241.4L252.1 241.4L252.4 242.2L252.7 241.7L253.0 242.6L253.3 242.0L253.6 242.2L253.9 241.1L254.2 241.3L254.5 239.8L254.8 240.0L255.2 238.3L255.5 238.2L255.8 236.4L256.1 236.1L256.4 234.6L256.7 234.2L257.0 233.0L257.3 233.1L257.6 231.8L257.9 232.0L258.2 231.2L258.5 231.5L258.8 231.0L259.1 231.9L259.4 231.9L259.7 232.8L260.0 232.9L260.3 234.4L260.6 234.7L260.9 236.1L261.3 236.3L261.6 238.0L261.9 238.3L262.2 239.8L262.5 239.9L262.8 241.3L263.1 241.1L263.4 242.3L263.7 241.9L264.0 242.5L264.3 242.0L264.6 242.5L264.9 241.5L265.2 241.5L265.6 240.4L265.9 240.6L266.2 239.3L266.5 239.4L266.8 238.2L267.1 238.2L267.4 236.9L267.7 237.2L268.1 236.0L268.4 236.4L268.7 235.2L269.0 235.8L269.3 235.1"/>
<path class="gn" d="M40.5 236.3L40.9 236.1L41.3 235.9L41.7 235.8L42.1 235.7L42.5 235.6L42.9 235.6L43.3 235.6L43.7 235.7L44.1 235.8L44.5 235.9L44.9 236.1L45.3 236.3L45.7 236.5L46.1 236.8L46.5 237.0L46.9 237.2L47.3 237.3L47.7 237.5L48.1 237.6L48.5 237.6L48.9 237.6L49.3 237.6L49.7 237.5L50.1 237.3L50.5 237.2L50.9 237.0L51.3 236.8L51.7 236.5L52.1 236.3L52.5 236.1L52.9 235.9L53.3 235.8L53.7 235.7L54.1 235.6L54.5 235.6L54.9 235.6L55.3 235.7L55.7 235.8L56.1 235.9L56.5 236.1L56.9 236.3L57.3 236.5L57.7 236.8L58.1 237.0L58.5 237.2L58.9 237.3L59.3 237.5L59.7 237.6L60.1 237.6L60.5 237.6L60.9 237.6L61.3 237.5L61.7 237.3L62.1 237.2L62.5 237.0L62.9 236.8L63.3 236.5L63.7 236.3L64.1 236.1L64.5 235.9L64.9 235.8L65.3 235.7L65.7 235.6L66.1 235.6L66.5 235.6L66.9 235.7L67.3 235.8L67.7 235.9L68.1 236.1L68.5 236.3L68.9 236.5L69.3 236.8L69.7 237.0L70.1 237.2L70.5 237.3L70.9 237.5L71.3 237.6L71.7 237.6L72.1 237.6L72.5 237.6L72.9 237.5L73.3 237.3L73.7 237.2L74.1 237.0L74.5 236.7L74.9 236.6L75.3 236.4L75.7 236.3L76.1 236.2L76.5 236.1L76.9 236.0L77.3 235.9L77.7 235.9L78.1 235.9L78.5 236.0L78.9 236.1L79.3 236.2L79.7 236.3L80.1 236.4L80.5 236.6L80.9 236.7L81.3 236.9L81.7 237.0L82.1 237.1L82.5 237.2L82.9 237.2L83.3 237.3L83.7 237.3L84.1 237.2L84.5 237.2L84.9 237.1L85.3 237.0L85.7 236.9L86.1 236.7L86.5 236.6L86.9 236.4L87.3 236.3L87.7 236.2L88.1 236.1L88.5 236.0L88.9 235.9L89.3 235.9L89.7 235.9L90.1 236.0L90.5 236.1L90.9 236.2L91.3 236.3L91.7 236.4L92.1 236.6L92.5 236.7L92.9 236.9L93.3 237.0L93.7 237.1L94.1 237.2L94.5 237.2L94.9 237.3L95.3 237.3L95.7 237.2L96.1 237.2L96.5 237.1L96.9 237.0L97.3 236.9L97.7 236.7L98.1 236.6L98.5 236.4L98.9 236.3L99.3 236.2L99.7 236.1L100.1 236.0L100.5 235.9L100.9 235.9L101.3 235.9L101.7 236.0L102.1 236.1L102.5 236.2L102.9 236.3L103.3 236.4L103.7 236.6L104.1 236.7L104.5 236.9L104.9 237.0L105.3 237.1L105.7 237.2L106.1 237.2L106.5 237.3L106.9 237.3L107.3 237.2L107.7 237.2L108.1 237.1L108.5 237.0L108.9 236.9L109.3 236.7L109.7 236.6L110.1 236.4L110.5 236.3L110.9 236.2L111.3 236.1L111.7 236.0L112.1 235.9L112.5 235.9L112.9 235.9L113.3 236.0L113.7 236.1L114.1 236.2L114.5 236.3L114.9 236.4L115.3 236.6L115.7 236.7L116.1 236.9L116.5 237.0L116.9 237.1L117.3 237.2L117.7 237.2L118.1 237.3L118.5 237.3L118.9 237.2L119.3 237.2L119.7 237.1L120.1 237.0L120.5 236.9L120.9 236.7L121.3 236.6L121.7 236.4L122.1 236.3L122.5 236.2L122.9 236.1L123.3 236.0L123.7 235.9L124.1 235.9L124.5 235.9L124.9 236.0L125.3 236.1L125.7 236.2L126.1 236.3L126.5 236.4L126.9 236.6L127.3 236.7L127.7 236.9L128.1 237.0L128.5 237.1L128.9 237.2L129.3 237.2L129.7 237.3L130.1 237.3L130.5 237.2L130.9 237.2L131.3 237.1L131.7 237.0L132.1 236.9L132.5 236.7L132.9 236.6L133.3 236.4L133.7 236.3L134.1 236.2L134.5 236.1L134.9 236.0L135.3 235.9L135.7 235.9L136.1 235.9L136.5 236.0L136.9 236.1L137.3 236.2L137.7 236.3L138.1 236.4L138.5 236.6L138.9 236.7L139.3 236.9L139.7 237.0L140.1 237.1L140.5 237.2L140.9 237.2L141.3 237.3L141.7 237.3L142.1 237.2L142.5 237.2L142.9 237.1L143.3 237.0L143.7 236.9L144.1 236.7L144.5 236.6L144.9 236.4L145.3 236.3L145.7 236.2L146.1 236.1L146.5 236.0L146.9 235.9L147.3 235.9L147.7 235.9L148.1 236.0L148.5 236.1L148.9 236.2L149.3 236.3L149.7 236.4L150.1 236.6L150.5 236.7L150.9 236.9L151.3 237.0L151.7 237.1L152.1 237.2L152.5 237.2L152.9 237.3L153.3 237.3L153.7 237.2L154.1 237.2L154.5 237.1L154.9 237.0L155.3 236.9L155.7 236.7L156.1 236.6L156.5 236.4L156.9 236.3L157.3 236.2L157.7 236.1L158.1 236.0L158.5 235.9L158.9 235.9L159.3 235.9L159.7 236.0L160.1 236.1L160.5 236.2L160.9 236.3L161.3 236.4L161.7 236.6L162.1 236.7L162.5 236.9L162.9 237.0L163.3 237.1L163.7 237.2L164.1 237.2L164.5 237.3L164.9 237.3L165.3 237.2L165.7 237.2L166.1 237.1L166.5 237.0L166.9 236.9L167.3 236.7L167.7 236.6L168.1 236.4L168.5 236.3L168.9 236.2L169.3 236.1L169.7 236.0L170.1 235.9L170.5 235.9L170.9 235.9L171.3 236.0L171.7 236.1L172.1 236.2L172.5 236.3L172.9 236.4L173.3 236.6L173.7 236.7L174.1 236.9L174.5 237.0L174.9 237.1L175.3 237.2L175.7 237.2L176.1 237.3L176.5 237.3L176.9 237.2L177.3 237.2L177.7 237.1L178.1 237.0L178.5 236.9L178.9 236.7L179.3 236.6L179.7 236.4L180.1 236.3L180.5 236.2L180.9 236.1L181.3 236.0L181.7 235.9L182.1 235.9L182.5 235.9L182.9 236.0L183.3 236.1L183.7 236.2L184.1 236.3L184.5 236.4L184.9 236.6L185.3 236.7L185.7 236.9L186.1 237.0L186.5 237.1L186.9 237.2L187.3 237.2L187.7 237.3L188.1 237.3L188.5 237.2L188.9 237.2L189.3 237.1L189.7 237.0L190.1 236.9L190.5 236.7L190.9 236.6L191.3 236.4L191.7 236.3L192.1 236.2L192.5 236.1L192.9 236.0L193.3 235.9L193.7 235.9L194.1 235.9L194.5 236.0L194.9 236.1L195.3 236.2L195.7 236.3L196.1 236.4L196.5 236.6L196.9 236.7L197.3 236.9L197.7 237.0L198.1 237.1L198.5 237.2L198.9 237.2L199.3 237.3L199.7 237.3L200.1 237.2L200.5 237.2L200.9 237.1L201.3 237.0L201.7 236.9L202.1 236.7L202.5 236.6L202.9 236.4L203.3 236.3L203.7 236.2L204.1 236.1L204.5 236.0L204.9 235.9L205.3 235.9L205.7 235.9L206.1 236.0L206.5 236.1L206.9 236.2L207.3 236.3L207.7 236.4L208.1 236.6L208.5 236.7L208.9 236.9L209.3 237.0L209.7 237.1L210.1 237.2L210.5 237.2L210.9 237.3L211.3 237.3L211.7 237.2L212.1 237.2L212.5 237.1L212.9 237.0L213.3 236.9L213.7 236.7L214.1 236.6L214.5 236.4L214.9 236.3L215.3 236.2L215.7 236.1L216.1 236.0L216.5 235.9L216.9 235.9L217.3 235.9L217.7 236.0L218.1 236.1L218.5 236.2L218.9 236.3L219.3 236.4L219.7 236.6L220.1 236.7L220.5 236.9L220.9 237.0L221.3 237.1L221.7 237.2L222.1 237.2L222.5 237.3L222.9 237.3L223.3 237.2L223.7 237.2L224.1 237.1L224.5 237.0L224.9 236.9L225.3 236.7L225.7 236.6L226.1 236.4L226.5 236.3L226.9 236.2L227.3 236.1L227.7 236.0L228.1 235.9L228.5 235.9L228.9 235.9L229.3 236.0L229.7 236.1L230.1 236.2L230.5 236.3L230.9 236.4L231.3 236.6L231.7 236.7L232.1 236.9L232.5 237.0L232.9 237.1L233.3 237.2L233.7 237.2L234.1 237.3L234.5 237.3L234.9 237.2L235.3 237.2L235.7 237.1L236.1 237.0L236.5 236.9L236.9 236.7L237.3 236.6L237.7 236.4L238.1 236.3L238.5 236.2L238.9 236.1L239.3 236.0L239.7 235.9L240.1 235.9L240.5 235.9L240.9 236.0L241.3 236.1L241.7 236.2L242.1 236.3L242.5 236.4L242.9 236.6L243.3 236.7L243.7 236.9L244.1 237.0L244.5 237.1L244.9 237.2L245.3 237.2L245.7 237.3L246.1 237.3L246.5 237.2L246.9 237.2L247.3 237.1L247.7 237.0L248.1 236.9L248.5 236.7L248.9 236.6L249.3 236.4L249.7 236.3L250.1 236.2L250.5 236.1L250.9 236.0L251.3 235.9L251.7 235.9L252.1 235.9L252.5 236.0L252.9 236.1L253.3 236.2L253.7 236.3L254.1 236.4L254.5 236.6L254.9 236.7L255.3 236.9L255.7 237.0L256.1 237.1L256.5 237.2L256.9 237.2L257.3 237.3L257.7 237.3L258.1 237.2L258.5 237.2L258.9 237.1L259.3 237.0L259.7 236.9L260.1 236.7L260.5 236.6L260.9 236.4L261.3 236.3L261.7 236.2L262.1 236.1L262.5 236.0L262.9 235.9L263.3 235.9L263.7 235.9L264.1 236.0L264.5 236.1L264.9 236.2L265.3 236.3L265.7 236.4L266.1 236.6L266.5 236.7L266.9 236.9L267.3 237.0L267.7 237.1L268.1 237.2L268.5 237.2L268.9 237.3L269.3 237.3"/>
<path class="dr" d="M40.5 237.4L40.9 237.3L41.3 237.3L41.7 237.1L42.1 237.0L42.5 236.8L42.9 236.6L43.3 236.5L43.7 236.3L44.1 236.1L44.5 236.0L44.9 235.9L45.3 235.8L45.7 235.8L46.1 235.8L46.5 235.8L46.9 235.8L47.3 235.9L47.7 236.0L48.1 236.2L48.5 236.3L48.9 236.5L49.3 236.7L49.7 236.9L50.1 237.0L50.5 237.2L50.9 237.3L51.3 237.4L51.7 237.4L52.1 237.4L52.5 237.4L52.9 237.4L53.3 237.3L53.7 237.2L54.1 237.1L54.5 236.9L54.9 236.7L55.3 236.6L55.7 236.4L56.1 236.2L56.5 236.1L56.9 235.9L57.3 235.9L57.7 235.8L58.1 235.8L58.5 235.8L58.9 235.8L59.3 235.9L59.7 236.0L60.1 236.1L60.5 236.3L60.9 236.4L61.3 236.6L61.7 236.8L62.1 236.9L62.5 237.1L62.9 237.2L63.3 237.3L63.7 237.4L64.1 237.4L64.5 237.4L64.9 237.4L65.3 237.3L65.7 237.3L66.1 237.1L66.5 237.0L66.9 236.8L67.3 236.6L67.7 236.5L68.1 236.3L68.5 236.1L68.9 236.0L69.3 235.9L69.7 235.8L70.1 235.8L70.5 235.8L70.9 235.8L71.3 235.8L71.7 235.9L72.1 236.0L72.5 236.2L72.9 236.3L73.3 236.5L73.7 236.7L74.1 236.9L74.5 236.9L74.9 236.9L75.3 237.0L75.7 237.1L76.1 237.1L76.5 237.1L76.9 237.1L77.3 237.1L77.7 237.0L78.1 237.0L78.5 236.9L78.9 236.8L79.3 236.7L79.7 236.6L80.1 236.5L80.5 236.4L80.9 236.3L81.3 236.2L81.7 236.2L82.1 236.1L82.5 236.1L82.9 236.1L83.3 236.1L83.7 236.2L84.1 236.2L84.5 236.3L84.9 236.4L85.3 236.5L85.7 236.6L86.1 236.7L86.5 236.8L86.9 236.9L87.3 237.0L87.7 237.0L88.1 237.1L88.5 237.1L88.9 237.1L89.3 237.1L89.7 237.0L90.1 237.0L90.5 236.9L90.9 236.8L91.3 236.7L91.7 236.6L92.1 236.5L92.5 236.4L92.9 236.3L93.3 236.2L93.7 236.2L94.1 236.1L94.5 236.1L94.9 236.1L95.3 236.1L95.7 236.1L96.1 236.2L96.5 236.3L96.9 236.3L97.3 236.4L97.7 236.5L98.1 236.7L98.5 236.8L98.9 236.9L99.3 236.9L99.7 237.0L100.1 237.1L100.5 237.1L100.9 237.1L101.3 237.1L101.7 237.1L102.1 237.0L102.5 237.0L102.9 236.9L103.3 236.8L103.7 236.7L104.1 236.6L104.5 236.5L104.9 236.4L105.3 236.3L105.7 236.2L106.1 236.2L106.5 236.1L106.9 236.1L107.3 236.1L107.7 236.1L108.1 236.2L108.5 236.2L108.9 236.3L109.3 236.4L109.7 236.5L110.1 236.6L110.5 236.7L110.9 236.8L111.3 236.9L111.7 237.0L112.1 237.0L112.5 237.1L112.9 237.1L113.3 237.1L113.7 237.1L114.1 237.0L114.5 237.0L114.9 236.9L115.3 236.8L115.7 236.7L116.1 236.6L116.5 236.5L116.9 236.4L117.3 236.3L117.7 236.2L118.1 236.2L118.5 236.1L118.9 236.1L119.3 236.1L119.7 236.1L120.1 236.1L120.5 236.2L120.9 236.3L121.3 236.3L121.7 236.4L122.1 236.5L122.5 236.7L122.9 236.8L123.3 236.9L123.7 236.9L124.1 237.0L124.5 237.1L124.9 237.1L125.3 237.1L125.7 237.1L126.1 237.1L126.5 237.0L126.9 237.0L127.3 236.9L127.7 236.8L128.1 236.7L128.5 236.6L128.9 236.5L129.3 236.4L129.7 236.3L130.1 236.2L130.5 236.2L130.9 236.1L131.3 236.1L131.7 236.1L132.1 236.1L132.5 236.2L132.9 236.2L133.3 236.3L133.7 236.4L134.1 236.5L134.5 236.6L134.9 236.7L135.3 236.8L135.7 236.9L136.1 237.0L136.5 237.0L136.9 237.1L137.3 237.1L137.7 237.1L138.1 237.1L138.5 237.0L138.9 237.0L139.3 236.9L139.7 236.8L140.1 236.7L140.5 236.6L140.9 236.5L141.3 236.4L141.7 236.3L142.1 236.2L142.5 236.2L142.9 236.1L143.3 236.1L143.7 236.1L144.1 236.1L144.5 236.1L144.9 236.2L145.3 236.3L145.7 236.3L146.1 236.4L146.5 236.5L146.9 236.7L147.3 236.8L147.7 236.9L148.1 236.9L148.5 237.0L148.9 237.1L149.3 237.1L149.7 237.1L150.1 237.1L150.5 237.1L150.9 237.0L151.3 237.0L151.7 236.9L152.1 236.8L152.5 236.7L152.9 236.6L153.3 236.5L153.7 236.4L154.1 236.3L154.5 236.2L154.9 236.2L155.3 236.1L155.7 236.1L156.1 236.1L156.5 236.1L156.9 236.2L157.3 236.2L157.7 236.3L158.1 236.4L158.5 236.5L158.9 236.6L159.3 236.7L159.7 236.8L160.1 236.9L160.5 237.0L160.9 237.0L161.3 237.1L161.7 237.1L162.1 237.1L162.5 237.1L162.9 237.0L163.3 237.0L163.7 236.9L164.1 236.8L164.5 236.7L164.9 236.6L165.3 236.5L165.7 236.4L166.1 236.3L166.5 236.2L166.9 236.2L167.3 236.1L167.7 236.1L168.1 236.1L168.5 236.1L168.9 236.1L169.3 236.2L169.7 236.3L170.1 236.3L170.5 236.4L170.9 236.5L171.3 236.7L171.7 236.8L172.1 236.9L172.5 236.9L172.9 237.0L173.3 237.1L173.7 237.1L174.1 237.1L174.5 237.1L174.9 237.1L175.3 237.0L175.7 237.0L176.1 236.9L176.5 236.8L176.9 236.7L177.3 236.6L177.7 236.5L178.1 236.4L178.5 236.3L178.9 236.2L179.3 236.2L179.7 236.1L180.1 236.1L180.5 236.1L180.9 236.1L181.3 236.2L181.7 236.2L182.1 236.3L182.5 236.4L182.9 236.5L183.3 236.6L183.7 236.7L184.1 236.8L184.5 236.9L184.9 237.0L185.3 237.0L185.7 237.1L186.1 237.1L186.5 237.1L186.9 237.1L187.3 237.0L187.7 237.0L188.1 236.9L188.5 236.8L188.9 236.7L189.3 236.6L189.7 236.5L190.1 236.4L190.5 236.3L190.9 236.2L191.3 236.2L191.7 236.1L192.1 236.1L192.5 236.1L192.9 236.1L193.3 236.1L193.7 236.2L194.1 236.3L194.5 236.3L194.9 236.4L195.3 236.5L195.7 236.7L196.1 236.8L196.5 236.9L196.9 236.9L197.3 237.0L197.7 237.1L198.1 237.1L198.5 237.1L198.9 237.1L199.3 237.1L199.7 237.0L200.1 237.0L200.5 236.9L200.9 236.8L201.3 236.7L201.7 236.6L202.1 236.5L202.5 236.4L202.9 236.3L203.3 236.2L203.7 236.2L204.1 236.1L204.5 236.1L204.9 236.1L205.3 236.1L205.7 236.2L206.1 236.2L206.5 236.3L206.9 236.4L207.3 236.5L207.7 236.6L208.1 236.7L208.5 236.8L208.9 236.9L209.3 237.0L209.7 237.0L210.1 237.1L210.5 237.1L210.9 237.1L211.3 237.1L211.7 237.0L212.1 237.0L212.5 236.9L212.9 236.8L213.3 236.7L213.7 236.6L214.1 236.5L214.5 236.4L214.9 236.3L215.3 236.2L215.7 236.2L216.1 236.1L216.5 236.1L216.9 236.1L217.3 236.1L217.7 236.1L218.1 236.2L218.5 236.3L218.9 236.3L219.3 236.4L219.7 236.5L220.1 236.7L220.5 236.8L220.9 236.9L221.3 236.9L221.7 237.0L222.1 237.1L222.5 237.1L222.9 237.1L223.3 237.1L223.7 237.1L224.1 237.0L224.5 237.0L224.9 236.9L225.3 236.8L225.7 236.7L226.1 236.6L226.5 236.5L226.9 236.4L227.3 236.3L227.7 236.2L228.1 236.2L228.5 236.1L228.9 236.1L229.3 236.1L229.7 236.1L230.1 236.2L230.5 236.2L230.9 236.3L231.3 236.4L231.7 236.5L232.1 236.6L232.5 236.7L232.9 236.8L233.3 236.9L233.7 237.0L234.1 237.0L234.5 237.1L234.9 237.1L235.3 237.1L235.7 237.1L236.1 237.0L236.5 237.0L236.9 236.9L237.3 236.8L237.7 236.7L238.1 236.6L238.5 236.5L238.9 236.4L239.3 236.3L239.7 236.2L240.1 236.2L240.5 236.1L240.9 236.1L241.3 236.1L241.7 236.1L242.1 236.1L242.5 236.2L242.9 236.3L243.3 236.3L243.7 236.4L244.1 236.5L244.5 236.7L244.9 236.8L245.3 236.9L245.7 236.9L246.1 237.0L246.5 237.1L246.9 237.1L247.3 237.1L247.7 237.1L248.1 237.1L248.5 237.0L248.9 237.0L249.3 236.9L249.7 236.8L250.1 236.7L250.5 236.6L250.9 236.5L251.3 236.4L251.7 236.3L252.1 236.2L252.5 236.2L252.9 236.1L253.3 236.1L253.7 236.1L254.1 236.1L254.5 236.2L254.9 236.2L255.3 236.3L255.7 236.4L256.1 236.5L256.5 236.6L256.9 236.7L257.3 236.8L257.7 236.9L258.1 237.0L258.5 237.0L258.9 237.1L259.3 237.1L259.7 237.1L260.1 237.1L260.5 237.0L260.9 237.0L261.3 236.9L261.7 236.8L262.1 236.7L262.5 236.6L262.9 236.5L263.3 236.4L263.7 236.3L264.1 236.2L264.5 236.2L264.9 236.1L265.3 236.1L265.7 236.1L266.1 236.1L266.5 236.1L266.9 236.2L267.3 236.3L267.7 236.3L268.1 236.4L268.5 236.5L268.9 236.7L269.3 236.8"/>
<rect x="217.0" y="171.2" width="51.5" height="44" class="lg"/>
<line x1="219.0" y1="177.9" x2="235.5" y2="177.9" stroke="#3545ff" stroke-width="1.1"/>
<line x1="219.0" y1="188.4" x2="235.5" y2="188.4" stroke="#ff3c3c" stroke-width="1.1"/>
<line x1="219.0" y1="198.9" x2="235.5" y2="198.9" stroke="#3ca03c" stroke-width="1.1"/>
<line x1="219.0" y1="209.4" x2="235.5" y2="209.4" stroke="#9a2030" stroke-width="1.1"/>
<line x1="40.5" y1="170.4" x2="274.0" y2="170.4" class="fr"/>
<line x1="274.0" y1="170.4" x2="274.0" y2="303.0" class="fr2"/>
<line x1="40.5" y1="303.0" x2="274.0" y2="303.0" class="ax"/>
<line x1="40.5" y1="170.4" x2="40.5" y2="303.0" class="ax"/>
<path d="M38.7 174.4L40.5 170.6L42.3 174.4Z" fill="#000"/>
<path d="M270.4 301.2L274.8 303.0L270.4 304.8Z" fill="#000"/>
<line x1="40.5" y1="303.0" x2="40.5" y2="305.5" class="tk"/>
<line x1="61.7" y1="303.0" x2="61.7" y2="304.5" class="tk"/>
<line x1="83.0" y1="303.0" x2="83.0" y2="305.5" class="tk"/>
<line x1="104.2" y1="303.0" x2="104.2" y2="304.5" class="tk"/>
<line x1="125.4" y1="303.0" x2="125.4" y2="305.5" class="tk"/>
<line x1="146.6" y1="303.0" x2="146.6" y2="304.5" class="tk"/>
<line x1="167.9" y1="303.0" x2="167.9" y2="305.5" class="tk"/>
<line x1="189.1" y1="303.0" x2="189.1" y2="304.5" class="tk"/>
<line x1="210.3" y1="303.0" x2="210.3" y2="305.5" class="tk"/>
<line x1="231.5" y1="303.0" x2="231.5" y2="304.5" class="tk"/>
<line x1="252.8" y1="303.0" x2="252.8" y2="305.5" class="tk"/>
<line x1="38.3" y1="289.8" x2="40.5" y2="289.8" class="tk"/>
<line x1="39.1" y1="276.5" x2="40.5" y2="276.5" class="tk"/>
<line x1="38.3" y1="263.2" x2="40.5" y2="263.2" class="tk"/>
<line x1="39.1" y1="249.9" x2="40.5" y2="249.9" class="tk"/>
<line x1="38.3" y1="236.6" x2="40.5" y2="236.6" class="tk"/>
<line x1="39.1" y1="223.3" x2="40.5" y2="223.3" class="tk"/>
<line x1="38.3" y1="210.0" x2="40.5" y2="210.0" class="tk"/>
<line x1="39.1" y1="196.7" x2="40.5" y2="196.7" class="tk"/>
<line x1="38.3" y1="183.4" x2="40.5" y2="183.4" class="tk"/>
<line x1="349.4" y1="170.4" x2="349.4" y2="303.0" class="gr"/>
<line x1="391.9" y1="170.4" x2="391.9" y2="303.0" class="gr"/>
<line x1="434.4" y1="170.4" x2="434.4" y2="303.0" class="gr"/>
<line x1="476.8" y1="170.4" x2="476.8" y2="303.0" class="gr"/>
<line x1="519.2" y1="170.4" x2="519.2" y2="303.0" class="gr"/>
<line x1="307.0" y1="185.8" x2="540.5" y2="185.8" class="gr"/>
<line x1="307.0" y1="211.2" x2="540.5" y2="211.2" class="gr"/>
<line x1="307.0" y1="262.0" x2="540.5" y2="262.0" class="gr"/>
<line x1="307.0" y1="287.4" x2="540.5" y2="287.4" class="gr"/>
<path class="bl" d="M307.0 236.6L307.3 234.3L307.5 232.6L307.8 234.3L308.1 237.3L308.5 237.7L308.8 236.2L309.0 234.3L309.3 233.2L309.6 234.8L309.8 237.3L310.1 239.4L310.4 237.8L310.8 234.9L311.1 236.5L311.5 241.7L311.8 239.6L312.0 231.5L312.3 224.7L312.6 236.3L313.0 256.4L313.4 230.2L313.7 204.4L313.9 207.9L314.2 195.4L314.5 212.3L314.8 198.7L315.2 232.6L315.5 257.7L315.8 285.8L316.1 262.4L316.3 249.6L316.6 227.3L316.8 204.4L317.2 198.7L317.5 195.4L317.9 210.0L318.3 201.0L318.6 227.4L318.8 246.2L319.1 236.5L319.5 225.9L319.8 238.9L320.1 257.5L320.4 244.7L320.7 238.3L321.0 255.1L321.3 282.9L321.7 255.2L322.0 223.6L322.3 229.4L322.5 238.1L322.8 243.9L323.1 244.7L323.4 251.9L323.6 248.9L323.9 257.5L324.2 250.8L324.4 241.5L324.7 234.9L325.0 230.4L325.3 219.1L325.7 193.1L326.1 176.1L326.5 207.8L326.8 237.8L327.1 259.8L327.4 238.2L327.7 221.3L328.0 217.0L328.2 203.0L328.5 197.6L328.8 212.4L329.0 219.1L329.4 234.8L329.7 255.2L330.0 261.2L330.3 268.8L330.6 273.2L331.0 299.3L331.2 269.5L331.5 266.5L331.8 258.8L332.0 260.9L332.2 258.6L332.5 269.5L332.8 270.5L333.0 275.6L333.2 267.3L333.5 257.6L333.8 242.4L334.0 238.3L334.4 227.3L334.7 212.3L334.9 213.7L335.2 206.7L335.4 212.7L335.7 203.3L335.9 212.3L336.2 201.0L336.4 209.2L336.7 206.7L337.1 215.7L337.5 223.6L337.8 223.9L338.0 219.2L338.2 220.0L338.5 215.7L338.8 224.0L339.0 232.2L339.2 245.1L339.5 259.2L339.8 263.8L340.0 272.2L340.2 263.5L340.5 262.8L340.8 253.5L341.0 252.1L341.2 245.4L341.5 243.9L341.8 244.5L342.0 247.8L342.3 247.8L342.6 255.3L342.8 256.4L343.1 258.6L343.4 252.2L343.6 247.1L343.9 236.0L344.2 228.9L344.5 222.7L344.7 215.6L345.0 210.0L345.3 213.1L345.6 206.0L345.8 204.3L346.1 201.2L346.4 202.1L346.7 209.4L346.9 212.9L347.2 223.4L347.5 223.6L347.8 225.8L348.0 221.5L348.2 222.9L348.5 215.7L348.8 219.0L349.0 219.6L349.3 227.8L349.6 234.7L349.8 243.4L350.1 256.0L350.4 260.6L350.6 268.0L350.9 267.7L351.2 262.6L351.4 260.1L351.7 249.6L352.0 245.6L352.2 237.3L352.5 238.3L352.8 236.2L353.1 242.2L353.4 245.6L353.7 248.5L354.0 248.2L354.3 241.1L354.6 232.1L354.8 219.7L355.1 216.4L355.4 213.0L355.7 222.5L356.0 229.8L356.3 234.9L356.6 237.7L356.8 251.4L357.1 261.2L357.3 266.5L357.6 253.4L357.9 228.7L358.2 216.8L358.5 219.0L358.8 222.8L359.0 231.2L359.3 232.6L359.6 236.5L359.9 243.1L360.2 246.9L360.5 250.7L360.8 247.8L361.0 245.5L361.2 239.4L361.5 234.4L361.8 232.1L362.0 230.4L362.3 230.2L362.5 229.6L362.8 230.3L363.1 226.4L363.3 224.2L363.6 217.2L363.9 217.2L364.1 211.4L364.4 213.4L364.7 217.5L364.9 224.7L365.2 233.9L365.5 234.9L365.8 237.9L366.1 240.6L366.3 243.7L366.6 252.3L366.9 253.3L367.1 260.2L367.4 257.7L367.7 266.5L368.0 261.0L368.2 259.8L368.5 252.2L368.7 248.7L369.0 243.9L369.3 243.7L369.6 247.7L369.9 247.7L370.2 253.0L370.5 246.7L370.7 243.9L371.0 237.4L371.2 231.4L371.5 230.4L371.8 232.7L372.0 230.4L372.2 228.2L372.5 221.3L372.8 217.2L373.0 210.6L373.2 211.1L373.5 210.0L373.8 215.3L374.0 219.2L374.2 227.0L374.5 227.0L374.8 226.3L375.1 221.8L375.4 219.1L375.7 224.6L375.9 227.1L376.2 234.2L376.5 239.2L376.7 242.5L377.0 249.6L377.3 247.5L377.5 254.5L377.8 254.7L378.0 260.5L378.3 259.6L378.5 265.0L378.8 263.4L379.0 269.5L379.3 271.1L379.6 266.3L379.9 263.2L380.1 255.5L380.4 250.2L380.7 245.3L381.0 243.9L381.2 244.3L381.5 241.2L381.8 237.0L382.0 234.9L382.3 232.4L382.5 230.0L382.8 229.4L383.0 226.4L383.3 224.4L383.5 219.6L383.8 217.0L384.0 214.1L384.3 213.0L384.6 217.4L384.9 219.3L385.1 224.1L385.4 227.4L385.7 231.0L386.0 234.9L386.2 234.6L386.5 234.5L386.8 234.5L387.0 230.4L387.2 233.3L387.5 233.5L387.8 236.7L388.0 241.1L388.2 246.5L388.5 252.8L388.8 256.8L389.0 261.3L389.2 262.6L389.5 265.4L389.8 263.8L390.0 264.4L390.2 260.9L390.5 256.9L390.8 249.3L391.0 245.6L391.2 240.8L391.5 243.9L391.8 240.4L392.0 239.4L392.2 237.0L392.5 234.9L392.8 235.8L393.0 232.2L393.2 229.0L393.5 223.6L393.8 219.3L394.0 212.9L394.2 209.8L394.5 202.3L394.8 202.4L395.0 200.6L395.2 203.9L395.5 209.5L395.8 220.3L396.0 227.1L396.2 232.5L396.5 232.6L396.8 231.2L397.0 227.9L397.2 226.7L397.5 225.9L397.8 227.9L398.0 231.3L398.3 236.5L398.5 245.6L398.8 253.8L399.0 263.4L399.3 269.6L399.5 274.5L399.8 274.5L400.1 268.5L400.4 266.2L400.6 258.1L400.9 254.3L401.2 250.0L401.5 248.5L401.8 247.2L402.0 245.3L402.3 240.3L402.5 235.1L402.8 230.0L403.0 222.4L403.3 218.2L403.5 209.8L403.8 207.8L404.0 202.4L404.3 202.5L404.6 208.4L404.9 214.2L405.2 222.5L405.5 223.6L405.8 223.4L406.0 219.6L406.2 218.1L406.5 216.8L406.8 219.6L407.0 220.6L407.3 226.2L407.5 231.0L407.8 237.2L408.1 246.2L408.3 253.3L408.6 262.1L408.9 267.5L409.1 274.4L409.4 275.4L409.6 281.5L409.9 282.9L410.2 277.2L410.4 276.2L410.7 266.5L411.0 262.3L411.2 255.1L411.5 255.2L411.8 251.7L412.0 249.6L412.2 244.3L412.5 243.9L412.8 241.8L413.0 238.2L413.3 232.6L413.6 223.6L413.8 216.4L414.1 207.1L414.4 201.5L414.6 196.3L414.9 194.8L415.2 199.6L415.4 208.1L415.7 218.5L416.0 221.3L416.2 221.0L416.5 216.8L416.8 215.6L417.0 212.3L417.3 215.6L417.5 215.6L417.8 219.8L418.0 224.8L418.3 231.3L418.5 237.6L418.8 244.1L419.0 251.3L419.3 257.1"/>
<path class="bl2" d="M419.3 257.1L419.5 262.7L419.8 266.4L420.0 269.1L420.3 269.9L420.6 268.4L420.9 264.9L421.1 259.6L421.4 254.7L421.7 250.8L422.0 249.6L422.3 248.4L422.5 245.7L422.8 240.8L423.0 235.4L423.3 229.5L423.6 222.7L423.8 217.4L424.1 212.5L424.3 209.9L424.6 208.6L424.9 211.1L425.1 216.1L425.4 221.8L425.7 223.6L426.0 222.6L426.2 220.2L426.5 219.1L426.8 220.2L427.0 222.0L427.3 225.8L427.5 229.8L427.8 235.4L428.1 240.6L428.3 245.7L428.6 251.3L428.8 255.5L429.1 259.1L429.3 261.1L429.6 262.0L429.9 260.6L430.2 258.1L430.4 254.4L430.7 251.8L431.0 250.7L431.2 250.7L431.5 251.9L431.8 252.2L432.0 253.0L432.3 251.9L432.5 249.8L432.8 245.7L433.1 241.1L433.3 236.0L433.6 229.8L433.8 224.6L434.1 219.3L434.4 215.7L434.6 213.1L434.9 212.3L435.2 214.6L435.4 219.7L435.7 225.0L436.0 227.0L436.3 226.6L436.5 224.5L436.8 223.6L437.1 225.2L437.4 228.1L437.6 233.2L437.9 238.9L438.2 244.3L438.4 249.6L438.7 252.5L439.0 254.1L439.2 253.2L439.5 252.1L439.8 249.9L440.0 248.2L440.2 246.4L440.5 246.2L440.8 246.4L441.0 247.3L441.2 248.0L441.5 248.5L441.8 247.6L442.0 246.7L442.2 244.3L442.5 242.0L442.8 238.5L443.0 235.5L443.2 232.5L443.5 229.0L443.8 226.5L444.0 224.2L444.2 223.3L444.5 222.5L444.8 223.5L445.0 225.0L445.2 227.7L445.5 230.1L445.8 232.2L446.0 232.6L446.3 232.3L446.5 231.0L446.8 230.4L447.1 231.1L447.3 232.5L447.6 235.2L447.8 237.9L448.1 240.8L448.3 243.9L448.6 246.1L448.8 247.9L449.1 248.5L449.4 248.1L449.6 247.7L449.9 246.3L450.1 245.4L450.4 243.6L450.6 242.0L450.9 239.6L451.1 237.7L451.4 235.8L451.7 233.2L451.9 231.4L452.2 229.0L452.4 227.4L452.7 225.5L452.9 224.6L453.2 223.3L453.4 223.0L453.7 222.5L454.0 223.3L454.2 224.4L454.5 226.7L454.7 228.7L455.0 230.8L455.2 232.1L455.5 232.6L455.8 232.3L456.0 231.0L456.3 230.4L456.6 231.0L456.8 232.2L457.1 234.5L457.3 237.0L457.6 239.6L457.9 243.0L458.1 245.5L458.4 247.8L458.6 248.9L458.9 249.6L459.2 248.9L459.4 248.4L459.7 246.7L459.9 245.0L460.2 242.5L460.5 240.0L460.7 236.8L461.0 234.1L461.3 231.3L461.5 228.1L461.8 225.8L462.1 223.1L462.3 221.3L462.6 219.7L462.8 219.1L463.1 218.5L463.4 219.1L463.6 219.9L463.9 221.8L464.1 223.9L464.4 227.1L464.7 229.9L464.9 233.6L465.2 236.9L465.5 240.2L465.7 243.9L466.0 246.7L466.2 249.9L466.5 251.7L466.8 253.8L467.0 254.6L467.3 255.2L467.6 254.7L467.8 254.3L468.1 252.8L468.3 251.5L468.6 249.2L468.9 247.1L469.1 244.1L469.4 241.6L469.6 238.3L469.9 235.5L470.2 232.7L470.4 229.4L470.7 226.8L470.9 223.8L471.2 221.9L471.5 219.5L471.7 218.2L472.0 216.7L472.2 216.3L472.5 215.7L472.8 216.4L473.0 216.8L473.3 218.5L473.5 220.2L473.8 222.9L474.0 225.3L474.3 228.8L474.5 231.7L474.8 235.6L475.0 238.7L475.3 242.0L475.5 245.5L475.8 248.4L476.0 251.3L476.3 253.4L476.5 255.6L476.8 256.9L477.0 257.9L477.3 258.2L477.6 257.7L477.8 257.1L478.1 255.7L478.3 254.1L478.6 251.5L478.9 249.3L479.1 246.1L479.4 243.3L479.6 239.6L479.9 236.7L480.2 233.5L480.4 230.0L480.7 227.2L480.9 224.0L481.2 221.8L481.5 219.2L481.7 217.6L482.0 216.2L482.2 215.8L482.5 215.1L482.8 215.8L483.0 216.1L483.3 217.6L483.5 219.1L483.8 221.7L484.1 223.7L484.3 226.7L484.6 229.5L484.8 232.9L485.1 235.9L485.4 238.7L485.6 242.3L485.9 245.0L486.1 248.1L486.4 250.5L486.7 252.7L486.9 254.2L487.2 255.7L487.4 256.2L487.7 256.7L488.0 256.3L488.2 255.8L488.5 254.5L488.7 253.1L489.0 250.9L489.2 248.9L489.5 246.0L489.7 243.5L490.0 240.4L490.2 237.5L490.5 234.7L490.7 231.3L491.0 228.6L491.2 225.5L491.5 223.1L491.7 220.7L492.0 219.0L492.2 217.2L492.5 216.4L492.7 215.4L493.0 215.1L493.3 215.7L493.5 216.3L493.8 217.9L494.0 219.7L494.3 222.5L494.5 224.9L494.8 228.4L495.1 231.4L495.3 235.3L495.6 238.4L495.8 241.8L496.1 245.3L496.4 248.2L496.6 251.2L496.9 253.5L497.1 255.6L497.4 256.6L497.6 257.9L497.9 258.2L498.2 257.7L498.4 256.9L498.7 255.1L498.9 253.1L499.2 250.2L499.5 247.4L499.7 243.6L500.0 240.4L500.2 236.3L500.5 232.9L500.8 229.5L501.0 225.9L501.3 223.0L501.6 220.2L501.8 218.4L502.1 216.4L502.3 215.8L502.6 215.1L502.9 215.7L503.1 216.1L503.4 217.5L503.6 219.1L503.9 221.4L504.2 223.7L504.4 226.8L504.7 229.5L504.9 232.9L505.2 235.9L505.5 239.0L505.7 242.3L506.0 244.9L506.2 248.1L506.5 250.3L506.8 252.7L507.0 254.1L507.3 255.7L507.5 256.3L507.8 256.7L508.1 256.1L508.3 255.8L508.6 254.5L508.8 253.1L509.1 250.7L509.3 248.8L509.6 246.0L509.8 243.5L510.1 240.4L510.4 237.6L510.6 234.9L510.9 231.7L511.1 229.4L511.4 226.4L511.6 224.3L511.9 222.2L512.1 220.8L512.4 219.5L512.6 219.0L512.9 218.5L513.2 218.9L513.4 219.4L513.7 220.6L513.9 222.0L514.2 224.0L514.5 225.9L514.7 228.5L515.0 231.0L515.2 233.9L515.5 236.5L515.8 239.1L516.0 242.1L516.3 244.5L516.5 247.1L516.8 248.9L517.1 251.1L517.3 252.4L517.6 253.7L517.8 254.1L518.1 254.6L518.4 254.2L518.6 253.7L518.9 252.5L519.1 251.3L519.4 249.4L519.6 247.4L519.9 244.9L520.1 242.6L520.4 239.9L520.6 237.3L520.9 234.9L521.2 231.9L521.4 229.7L521.7 227.1L521.9 225.2L522.2 223.3L522.4 222.1L522.7 220.8L522.9 220.6L523.2 220.0L523.5 220.3L523.7 220.6L524.0 221.8L524.2 222.5L524.5 224.1L524.7 225.5L525.0 227.5L525.2 229.2L525.5 231.7L525.7 233.4L526.0 235.8L526.2 237.7L526.5 239.5L526.7 241.8L527.0 243.2L527.2 245.2L527.5 246.1L527.7 247.6L528.0 248.2L528.2 248.9L528.5 249.0L528.8 248.3L529.0 247.8L529.2 246.1L529.5 245.2L529.8 244.0L530.0 243.9L530.2 244.0L530.5 245.1L530.8 245.6L531.0 246.2L531.2 245.5L531.5 244.2L531.8 241.6L532.0 238.8L532.2 235.6L532.5 232.2L532.8 229.5L533.0 226.8L533.2 225.5L533.5 224.7L533.8 225.4L534.0 226.5L534.3 228.5L534.6 230.7L534.9 233.3L535.1 234.9L535.4 236.6L535.7 236.6"/>
<path class="rd" d="M307.0 237.3L307.3 235.4L307.6 237.1L307.9 234.7L308.2 236.7L308.5 234.9L308.8 236.3L309.1 235.2L309.4 238.5L309.7 237.8L310.0 240.4L310.3 237.4L310.6 238.7L310.9 234.9L311.2 236.0L311.5 233.7L311.8 236.4L312.1 236.0L312.5 240.7L312.8 239.3L313.1 240.0L313.4 234.1L313.7 231.7L314.0 227.6L314.3 231.2L314.7 233.3L315.0 236.9L315.4 240.1L315.7 248.0L316.1 236.6L316.4 230.5L316.9 232.6L317.3 239.8L317.6 236.7L317.9 237.0L318.2 232.5L318.5 234.7L318.8 233.2L319.1 236.0L319.4 236.9L319.8 241.7L320.1 241.4L320.4 245.1L320.7 243.7L321.0 244.4L321.4 239.7L321.7 238.6L322.0 235.5L322.3 238.6L322.7 237.7L323.0 241.2L323.3 237.7L323.6 238.7L323.9 233.2L324.2 234.1L324.5 231.4L324.8 233.3L325.2 229.8L325.5 232.0L325.8 228.6L326.1 230.1L326.5 227.6L326.8 229.5L327.1 228.3L327.5 232.7L327.8 232.7L328.2 234.1L328.5 229.9L328.9 231.5L329.2 229.9L329.5 233.2L329.8 233.2L330.1 236.6L330.4 236.7L330.7 241.6L331.0 241.6L331.3 244.9L331.6 244.2L331.9 246.3L332.3 243.0L332.7 242.7L333.1 238.4L333.4 241.6L333.8 240.1L334.1 243.1L334.4 241.2L334.7 241.5L335.0 237.7L335.3 236.4L335.6 232.3L335.9 232.3L336.2 229.1L336.5 229.8L336.8 228.2L337.2 231.6L337.5 230.8L337.8 235.4L338.2 234.2L338.5 236.5L338.8 234.2L339.1 235.9L339.4 232.9L339.7 234.5L340.0 232.0L340.3 235.0L340.6 233.4L340.9 236.8L341.2 236.8L341.5 240.0L341.8 240.7L342.1 243.7L342.4 242.9L342.7 244.6L343.0 243.4L343.3 243.7L343.6 241.4L343.9 241.2L344.3 238.9L344.6 239.2L344.9 237.1L345.2 237.6L345.5 236.0L345.8 237.0L346.2 234.7L346.5 234.6L346.8 231.4L347.1 231.1L347.5 229.5L347.8 230.3L348.1 228.7L348.4 230.8L348.8 230.6L349.1 233.1L349.4 233.1L349.7 235.4L350.0 235.5L350.4 237.5L350.7 236.8L351.0 238.2L351.3 236.6L351.7 236.9L352.0 235.1L352.4 236.7L352.7 236.8L353.1 240.2L353.4 241.4L353.8 244.3L354.1 243.5L354.4 244.1L354.7 242.3L355.0 242.5L355.3 239.9L355.6 239.4L355.9 237.1L356.2 237.8L356.5 236.0L356.8 237.2L357.1 235.1L357.4 234.9L357.8 232.3L358.1 232.6L358.4 229.9L358.7 230.2L359.0 229.1L359.3 230.4L359.6 229.9L359.9 232.2L360.2 231.6L360.6 234.1L360.9 234.1L361.2 236.1L361.5 234.7L361.8 236.1L362.2 234.1L362.5 234.7L362.8 234.0L363.2 236.1L363.5 235.7L363.8 238.0L364.1 238.3L364.5 240.9L364.8 240.9L365.1 243.5L365.5 242.7L365.8 243.7L366.1 242.3L366.4 243.9L366.7 241.5L367.0 242.5L367.3 240.2L367.6 241.2L367.9 238.8L368.2 239.1L368.5 236.3L368.9 236.9L369.2 234.4L369.5 234.6L369.8 232.6L370.1 232.9L370.4 231.4L370.7 232.0L371.0 230.5L371.3 231.8L371.6 230.7L371.9 232.3L372.2 231.0L372.5 233.4L372.8 232.2L373.1 235.0L373.4 234.3L373.7 236.4L374.0 236.3L374.3 238.7L374.6 238.8L374.9 241.0L375.3 240.5L375.6 242.5L375.9 241.6L376.2 243.7L376.5 242.7L376.8 243.9L377.1 242.4L377.4 243.7L377.7 241.7L378.0 242.5L378.3 240.7L378.6 241.0L378.9 238.4L379.2 238.7L379.5 236.3L379.8 237.0L380.1 234.2L380.4 234.9L380.7 232.9L381.1 233.2L381.4 230.9L381.7 231.7L382.0 230.5L382.3 231.4L382.6 230.4L382.9 231.9L383.2 231.1L383.5 233.3L383.8 232.9L384.1 234.4L384.4 234.6L384.7 236.5L385.0 236.8L385.3 239.2L385.6 238.4L385.9 240.6L386.2 240.5L386.5 242.5L386.8 242.0L387.1 243.6L387.5 242.5L387.8 244.1L388.1 242.7L388.4 243.5L388.7 242.0L389.0 242.4L389.3 240.5L389.6 241.2L389.9 238.8L390.2 238.7L390.5 236.9L390.8 236.9L391.1 234.5L391.4 235.2L391.7 232.9L392.0 233.6L392.3 231.4L392.6 232.3L392.9 230.8L393.2 231.9L393.6 230.6L393.9 232.3L394.2 231.3L394.5 233.3L394.8 233.0L395.1 235.0L395.4 234.5L395.7 236.6L396.0 236.7L396.3 239.0L396.6 238.5L396.9 241.3L397.2 240.6L397.5 242.9L397.8 241.7L398.1 243.5L398.4 242.7L398.7 243.8L399.0 242.4L399.4 243.8L399.7 241.6L400.0 242.8L400.3 240.4L400.6 241.2L400.9 238.7L401.2 238.8L401.5 236.6L401.8 236.6L402.1 234.9L402.4 235.2L402.7 233.1L403.0 233.1L403.3 231.7L403.6 232.6L403.9 230.9L404.2 231.6L404.5 230.5L404.8 232.0L405.1 231.2L405.5 233.5L405.8 232.5L406.1 235.3L406.4 234.5L406.7 237.2L407.0 237.0L407.3 239.2L407.6 238.7L407.9 241.2L408.2 240.8L408.5 242.8L408.8 241.6L409.1 243.4L409.4 242.8L409.7 244.1L410.0 242.4L410.3 243.5L410.6 242.1L410.9 242.4L411.2 240.5L411.6 241.2L411.9 238.8L412.2 239.0L412.5 236.7L412.8 236.8L413.1 234.7L413.4 234.5L413.7 233.1L414.0 233.2L414.3 231.8L414.6 232.1L414.9 231.2L415.2 231.7L415.5 231.0L415.8 232.0L416.1 231.7L416.4 232.9L416.7 232.9L417.0 234.5L417.3 234.7L417.6 236.0L418.0 236.4L418.3 238.2L418.6 238.3L418.9 239.8L419.2 239.9L419.5 241.2L419.8 241.3L420.1 242.1L420.4 241.8L420.7 242.5L421.0 241.9L421.3 242.3L421.6 241.0L421.9 241.2L422.2 239.9L422.5 239.8L422.8 238.2L423.1 238.1L423.4 236.5L423.8 236.0L424.1 234.7L424.4 234.4L424.7 233.0L425.0 232.8L425.3 231.7L425.6 231.9L425.9 230.9L426.2 231.5L426.5 230.9L426.8 231.9L427.1 231.7L427.4 232.9L427.7 232.8L428.0 234.5L428.3 234.5L428.6 236.1L428.9 236.4L429.2 238.2L429.5 238.3L429.9 239.9L430.2 239.8L430.5 241.3L430.8 241.3L431.1 242.2L431.4 241.8L431.7 242.6L432.0 241.7L432.3 242.4L432.6 241.3L432.9 241.2L433.2 240.0L433.5 239.7L433.8 238.2L434.1 238.2L434.4 236.3L434.7 236.1L435.0 234.4L435.3 234.3L435.6 232.9L435.9 233.0L436.3 231.8L436.6 231.8L436.9 230.9L437.2 231.5L437.5 231.1L437.8 232.0L438.1 231.6L438.4 232.7L438.7 233.0L439.0 234.3L439.3 234.6L439.6 236.0L439.9 236.4L440.2 238.2L440.5 238.4L440.8 239.9L441.1 240.1L441.4 241.2L441.7 241.1L442.0 242.1L442.4 241.7L442.7 242.7L443.0 242.0L443.3 242.4L443.6 241.2L443.9 241.4L444.2 239.9L444.5 239.8L444.8 238.3L445.1 238.1L445.4 236.3L445.7 236.1L446.0 234.5L446.3 234.5L446.6 232.9L446.9 232.9L447.2 231.8L447.5 231.9L447.8 231.1L448.1 231.7L448.5 231.0L448.8 232.0L449.1 231.8L449.4 233.0L449.7 232.9L450.0 234.2L450.3 234.4L450.6 236.2L450.9 236.6L451.2 238.2L451.5 238.4L451.8 239.8L452.1 239.9L452.4 241.3L452.7 241.2L453.0 242.3L453.3 241.9L453.6 242.5L453.9 242.0L454.2 242.1L454.6 241.1L454.9 241.4L455.2 239.9L455.5 239.9L455.8 238.4L456.1 238.0L456.4 236.5L456.7 236.3L457.0 234.7L457.3 234.4L457.6 233.0L457.9 233.0L458.2 231.7L458.5 231.9L458.8 231.1L459.1 231.6L459.4 230.9L459.7 231.9L460.0 231.6L460.3 232.8L460.7 233.0L461.0 234.2L461.3 234.7L461.6 236.2L461.9 236.4L462.2 237.9L462.5 238.4L462.8 239.8L463.1 239.9L463.4 241.4L463.7 241.1L464.0 242.3L464.3 242.0L464.6 242.5L464.9 241.9L465.2 242.3L465.5 241.2L465.8 241.2L466.1 240.1L466.4 239.9L466.8 238.5L467.1 238.2L467.4 236.3L467.7 236.3L468.0 234.6L468.3 234.4L468.6 232.9L468.9 232.9L469.2 231.5L469.5 232.0L469.8 231.1L470.1 231.7L470.4 231.0L470.7 232.0L471.0 231.6L471.3 232.7L471.6 232.8L471.9 234.4L472.2 234.6L472.5 236.2L472.9 236.5L473.2 237.9L473.5 238.3L473.8 239.7L474.1 240.0L474.4 241.4L474.7 241.2L475.0 242.3L475.3 241.7L475.6 242.7L475.9 242.0L476.2 242.4L476.5 241.1L476.8 241.1L477.1 240.0L477.4 239.7L477.7 238.5L478.0 238.1L478.3 236.3L478.6 236.1L479.0 234.4L479.3 234.4L479.6 233.0L479.9 233.0L480.2 231.7L480.5 232.1L480.8 231.0L481.1 231.7L481.4 231.1L481.7 232.1L482.0 231.5L482.3 233.0L482.6 232.9L482.9 234.5L483.2 234.6L483.5 236.0L483.8 236.6L484.1 237.9L484.4 238.4L484.7 239.7L485.1 240.0L485.4 241.4L485.7 241.2L486.0 242.2L486.3 241.8L486.6 242.5L486.9 241.8L487.2 242.3L487.5 241.2L487.8 241.2L488.1 239.8L488.4 239.9L488.7 238.4L489.0 238.0L489.3 236.4L489.6 236.2L489.9 234.7L490.2 234.2L490.5 233.0L490.8 233.0L491.2 231.8L491.5 231.9L491.8 231.2L492.1 231.5L492.4 231.2L492.7 231.9L493.0 231.8L493.3 232.7L493.6 233.1L493.9 234.2L494.2 234.6L494.5 236.0L494.8 236.6L495.1 238.0L495.4 238.3L495.7 239.9L496.0 240.1L496.3 241.3L496.6 241.2L496.9 242.1L497.3 241.7L497.6 242.5L497.9 242.0L498.2 242.2L498.5 241.3L498.8 241.3L499.1 240.0L499.4 239.7L499.7 238.5L500.0 238.1L500.3 236.5L500.6 236.3L500.9 234.6L501.2 234.5L501.5 233.0L501.8 232.8L502.1 231.8L502.4 232.1L502.7 231.0L503.0 231.6L503.4 231.2L503.7 232.0L504.0 231.5L504.3 232.9L504.6 233.1L504.9 234.2L505.2 234.7L505.5 236.0L505.8 236.6L506.1 237.9L506.4 238.3L506.7 240.0L507.0 240.1L507.3 241.5L507.6 241.2L507.9 242.4L508.2 241.7L508.5 242.7L508.8 242.0L509.1 242.2L509.5 241.1L509.8 241.5L510.1 240.1L510.4 239.8L510.7 238.2L511.0 237.9L511.3 236.5L511.6 236.1L511.9 234.5L512.2 234.5L512.5 233.0L512.8 233.0L513.1 231.6L513.4 232.1L513.7 231.0L514.0 231.8L514.3 231.1L514.6 231.9L514.9 231.8L515.2 233.0L515.6 232.9L515.9 234.3L516.2 234.7L516.5 236.2L516.8 236.4L517.1 238.1L517.4 238.4L517.7 239.8L518.0 240.1L518.3 241.4L518.6 241.4L518.9 242.2L519.2 241.7L519.5 242.6L519.8 242.0L520.1 242.2L520.4 241.1L520.7 241.3L521.0 239.8L521.3 240.0L521.7 238.3L522.0 238.2L522.3 236.4L522.6 236.1L522.9 234.6L523.2 234.2L523.5 233.0L523.8 233.1L524.1 231.8L524.4 232.0L524.7 231.2L525.0 231.5L525.3 231.0L525.6 231.9L525.9 231.9L526.2 232.8L526.5 232.9L526.8 234.4L527.1 234.7L527.4 236.1L527.8 236.3L528.1 238.0L528.4 238.3L528.7 239.8L529.0 239.9L529.3 241.3L529.6 241.1L529.9 242.3L530.2 241.9L530.5 242.5L530.8 242.0L531.1 242.5L531.4 241.5L531.7 241.5L532.1 240.4L532.4 240.6L532.7 239.3L533.0 239.4L533.3 238.2L533.6 238.2L533.9 236.9L534.2 237.2L534.6 236.0L534.9 236.4L535.2 235.2L535.5 235.8L535.8 235.1"/>
<path class="gn" d="M307.0 236.3L307.4 236.1L307.8 235.9L308.2 235.8L308.6 235.7L309.0 235.6L309.4 235.6L309.8 235.6L310.2 235.7L310.6 235.8L311.0 235.9L311.4 236.1L311.8 236.3L312.2 236.5L312.6 236.8L313.0 237.0L313.4 237.2L313.8 237.3L314.2 237.5L314.6 237.6L315.0 237.6L315.4 237.6L315.8 237.6L316.2 237.5L316.6 237.3L317.0 237.2L317.4 237.0L317.8 236.8L318.2 236.5L318.6 236.3L319.0 236.1L319.4 235.9L319.8 235.8L320.2 235.7L320.6 235.6L321.0 235.6L321.4 235.6L321.8 235.7L322.2 235.8L322.6 235.9L323.0 236.1L323.4 236.3L323.8 236.5L324.2 236.8L324.6 237.0L325.0 237.2L325.4 237.3L325.8 237.5L326.2 237.6L326.6 237.6L327.0 237.6L327.4 237.6L327.8 237.5L328.2 237.3L328.6 237.2L329.0 237.0L329.4 236.8L329.8 236.5L330.2 236.3L330.6 236.1L331.0 235.9L331.4 235.8L331.8 235.7L332.2 235.6L332.6 235.6L333.0 235.6L333.4 235.7L333.8 235.8L334.2 235.9L334.6 236.1L335.0 236.3L335.4 236.5L335.8 236.8L336.2 237.0L336.6 237.2L337.0 237.3L337.4 237.5L337.8 237.6L338.2 237.6L338.6 237.6L339.0 237.6L339.4 237.5L339.8 237.3L340.2 237.2L340.6 237.0L341.0 236.7L341.4 236.6L341.8 236.4L342.2 236.3L342.6 236.2L343.0 236.1L343.4 236.0L343.8 235.9L344.2 235.9L344.6 235.9L345.0 236.0L345.4 236.1L345.8 236.2L346.2 236.3L346.6 236.4L347.0 236.6L347.4 236.7L347.8 236.9L348.2 237.0L348.6 237.1L349.0 237.2L349.4 237.2L349.8 237.3L350.2 237.3L350.6 237.2L351.0 237.2L351.4 237.1L351.8 237.0L352.2 236.9L352.6 236.7L353.0 236.6L353.4 236.4L353.8 236.3L354.2 236.2L354.6 236.1L355.0 236.0L355.4 235.9L355.8 235.9L356.2 235.9L356.6 236.0L357.0 236.1L357.4 236.2L357.8 236.3L358.2 236.4L358.6 236.6L359.0 236.7L359.4 236.9L359.8 237.0L360.2 237.1L360.6 237.2L361.0 237.2L361.4 237.3L361.8 237.3L362.2 237.2L362.6 237.2L363.0 237.1L363.4 237.0L363.8 236.9L364.2 236.7L364.6 236.6L365.0 236.4L365.4 236.3L365.8 236.2L366.2 236.1L366.6 236.0L367.0 235.9L367.4 235.9L367.8 235.9L368.2 236.0L368.6 236.1L369.0 236.2L369.4 236.3L369.8 236.4L370.2 236.6L370.6 236.7L371.0 236.9L371.4 237.0L371.8 237.1L372.2 237.2L372.6 237.2L373.0 237.3L373.4 237.3L373.8 237.2L374.2 237.2L374.6 237.1L375.0 237.0L375.4 236.9L375.8 236.7L376.2 236.6L376.6 236.4L377.0 236.3L377.4 236.2L377.8 236.1L378.2 236.0L378.6 235.9L379.0 235.9L379.4 235.9L379.8 236.0L380.2 236.1L380.6 236.2L381.0 236.3L381.4 236.4L381.8 236.6L382.2 236.7L382.6 236.9L383.0 237.0L383.4 237.1L383.8 237.2L384.2 237.2L384.6 237.3L385.0 237.3L385.4 237.2L385.8 237.2L386.2 237.1L386.6 237.0L387.0 236.9L387.4 236.7L387.8 236.6L388.2 236.4L388.6 236.3L389.0 236.2L389.4 236.1L389.8 236.0L390.2 235.9L390.6 235.9L391.0 235.9L391.4 236.0L391.8 236.1L392.2 236.2L392.6 236.3L393.0 236.4L393.4 236.6L393.8 236.7L394.2 236.9L394.6 237.0L395.0 237.1L395.4 237.2L395.8 237.2L396.2 237.3L396.6 237.3L397.0 237.2L397.4 237.2L397.8 237.1L398.2 237.0L398.6 236.9L399.0 236.7L399.4 236.6L399.8 236.4L400.2 236.3L400.6 236.2L401.0 236.1L401.4 236.0L401.8 235.9L402.2 235.9L402.6 235.9L403.0 236.0L403.4 236.1L403.8 236.2L404.2 236.3L404.6 236.4L405.0 236.6L405.4 236.7L405.8 236.9L406.2 237.0L406.6 237.1L407.0 237.2L407.4 237.2L407.8 237.3L408.2 237.3L408.6 237.2L409.0 237.2L409.4 237.1L409.8 237.0L410.2 236.9L410.6 236.7L411.0 236.6L411.4 236.4L411.8 236.3L412.2 236.2L412.6 236.1L413.0 236.0L413.4 235.9L413.8 235.9L414.2 235.9L414.6 236.0L415.0 236.1L415.4 236.2L415.8 236.3L416.2 236.4L416.6 236.6L417.0 236.7L417.4 236.9L417.8 237.0L418.2 237.1L418.6 237.2L419.0 237.2L419.4 237.3L419.8 237.3L420.2 237.2L420.6 237.2L421.0 237.1L421.4 237.0L421.8 236.9L422.2 236.7L422.6 236.6L423.0 236.4L423.4 236.3L423.8 236.2L424.2 236.1L424.6 236.0L425.0 235.9L425.4 235.9L425.8 235.9L426.2 236.0L426.6 236.1L427.0 236.2L427.4 236.3L427.8 236.4L428.2 236.6L428.6 236.7L429.0 236.9L429.4 237.0L429.8 237.1L430.2 237.2L430.6 237.2L431.0 237.3L431.4 237.3L431.8 237.2L432.2 237.2L432.6 237.1L433.0 237.0L433.4 236.9L433.8 236.7L434.2 236.6L434.6 236.4L435.0 236.3L435.4 236.2L435.8 236.1L436.2 236.0L436.6 235.9L437.0 235.9L437.4 235.9L437.8 236.0L438.2 236.1L438.6 236.2L439.0 236.3L439.4 236.4L439.8 236.6L440.2 236.7L440.6 236.9L441.0 237.0L441.4 237.1L441.8 237.2L442.2 237.2L442.6 237.3L443.0 237.3L443.4 237.2L443.8 237.2L444.2 237.1L444.6 237.0L445.0 236.9L445.4 236.7L445.8 236.6L446.2 236.4L446.6 236.3L447.0 236.2L447.4 236.1L447.8 236.0L448.2 235.9L448.6 235.9L449.0 235.9L449.4 236.0L449.8 236.1L450.2 236.2L450.6 236.3L451.0 236.4L451.4 236.6L451.8 236.7L452.2 236.9L452.6 237.0L453.0 237.1L453.4 237.2L453.8 237.2L454.2 237.3L454.6 237.3L455.0 237.2L455.4 237.2L455.8 237.1L456.2 237.0L456.6 236.9L457.0 236.7L457.4 236.6L457.8 236.4L458.2 236.3L458.6 236.2L459.0 236.1L459.4 236.0L459.8 235.9L460.2 235.9L460.6 235.9L461.0 236.0L461.4 236.1L461.8 236.2L462.2 236.3L462.6 236.4L463.0 236.6L463.4 236.7L463.8 236.9L464.2 237.0L464.6 237.1L465.0 237.2L465.4 237.2L465.8 237.3L466.2 237.3L466.6 237.2L467.0 237.2L467.4 237.1L467.8 237.0L468.2 236.9L468.6 236.7L469.0 236.6L469.4 236.4L469.8 236.3L470.2 236.2L470.6 236.1L471.0 236.0L471.4 235.9L471.8 235.9L472.2 235.9L472.6 236.0L473.0 236.1L473.4 236.2L473.8 236.3L474.2 236.4L474.6 236.6L475.0 236.7L475.4 236.9L475.8 237.0L476.2 237.1L476.6 237.2L477.0 237.2L477.4 237.3L477.8 237.3L478.2 237.2L478.6 237.2L479.0 237.1L479.4 237.0L479.8 236.9L480.2 236.7L480.6 236.6L481.0 236.4L481.4 236.3L481.8 236.2L482.2 236.1L482.6 236.0L483.0 235.9L483.4 235.9L483.8 235.9L484.2 236.0L484.6 236.1L485.0 236.2L485.4 236.3L485.8 236.4L486.2 236.6L486.6 236.7L487.0 236.9L487.4 237.0L487.8 237.1L488.2 237.2L488.6 237.2L489.0 237.3L489.4 237.3L489.8 237.2L490.2 237.2L490.6 237.1L491.0 237.0L491.4 236.9L491.8 236.7L492.2 236.6L492.6 236.4L493.0 236.3L493.4 236.2L493.8 236.1L494.2 236.0L494.6 235.9L495.0 235.9L495.4 235.9L495.8 236.0L496.2 236.1L496.6 236.2L497.0 236.3L497.4 236.4L497.8 236.6L498.2 236.7L498.6 236.9L499.0 237.0L499.4 237.1L499.8 237.2L500.2 237.2L500.6 237.3L501.0 237.3L501.4 237.2L501.8 237.2L502.2 237.1L502.6 237.0L503.0 236.9L503.4 236.7L503.8 236.6L504.2 236.4L504.6 236.3L505.0 236.2L505.4 236.1L505.8 236.0L506.2 235.9L506.6 235.9L507.0 235.9L507.4 236.0L507.8 236.1L508.2 236.2L508.6 236.3L509.0 236.4L509.4 236.6L509.8 236.7L510.2 236.9L510.6 237.0L511.0 237.1L511.4 237.2L511.8 237.2L512.2 237.3L512.6 237.3L513.0 237.2L513.4 237.2L513.8 237.1L514.2 237.0L514.6 236.9L515.0 236.7L515.4 236.6L515.8 236.4L516.2 236.3L516.6 236.2L517.0 236.1L517.4 236.0L517.8 235.9L518.2 235.9L518.6 235.9L519.0 236.0L519.4 236.1L519.8 236.2L520.2 236.3L520.6 236.4L521.0 236.6L521.4 236.7L521.8 236.9L522.2 237.0L522.6 237.1L523.0 237.2L523.4 237.2L523.8 237.3L524.2 237.3L524.6 237.2L525.0 237.2L525.4 237.1L525.8 237.0L526.2 236.9L526.6 236.7L527.0 236.6L527.4 236.4L527.8 236.3L528.2 236.2L528.6 236.1L529.0 236.0L529.4 235.9L529.8 235.9L530.2 235.9L530.6 236.0L531.0 236.1L531.4 236.2L531.8 236.3L532.2 236.4L532.6 236.6L533.0 236.7L533.4 236.9L533.8 237.0L534.2 237.1L534.6 237.2L535.0 237.2L535.4 237.3L535.8 237.3"/>
<path class="dr" d="M307.0 237.4L307.4 237.3L307.8 237.3L308.2 237.1L308.6 237.0L309.0 236.8L309.4 236.6L309.8 236.5L310.2 236.3L310.6 236.1L311.0 236.0L311.4 235.9L311.8 235.8L312.2 235.8L312.6 235.8L313.0 235.8L313.4 235.8L313.8 235.9L314.2 236.0L314.6 236.2L315.0 236.3L315.4 236.5L315.8 236.7L316.2 236.9L316.6 237.0L317.0 237.2L317.4 237.3L317.8 237.4L318.2 237.4L318.6 237.4L319.0 237.4L319.4 237.4L319.8 237.3L320.2 237.2L320.6 237.1L321.0 236.9L321.4 236.7L321.8 236.6L322.2 236.4L322.6 236.2L323.0 236.1L323.4 235.9L323.8 235.9L324.2 235.8L324.6 235.8L325.0 235.8L325.4 235.8L325.8 235.9L326.2 236.0L326.6 236.1L327.0 236.3L327.4 236.4L327.8 236.6L328.2 236.8L328.6 236.9L329.0 237.1L329.4 237.2L329.8 237.3L330.2 237.4L330.6 237.4L331.0 237.4L331.4 237.4L331.8 237.3L332.2 237.3L332.6 237.1L333.0 237.0L333.4 236.8L333.8 236.6L334.2 236.5L334.6 236.3L335.0 236.1L335.4 236.0L335.8 235.9L336.2 235.8L336.6 235.8L337.0 235.8L337.4 235.8L337.8 235.8L338.2 235.9L338.6 236.0L339.0 236.2L339.4 236.3L339.8 236.5L340.2 236.7L340.6 236.9L341.0 236.9L341.4 236.9L341.8 237.0L342.2 237.1L342.6 237.1L343.0 237.1L343.4 237.1L343.8 237.1L344.2 237.0L344.6 237.0L345.0 236.9L345.4 236.8L345.8 236.7L346.2 236.6L346.6 236.5L347.0 236.4L347.4 236.3L347.8 236.2L348.2 236.2L348.6 236.1L349.0 236.1L349.4 236.1L349.8 236.1L350.2 236.2L350.6 236.2L351.0 236.3L351.4 236.4L351.8 236.5L352.2 236.6L352.6 236.7L353.0 236.8L353.4 236.9L353.8 237.0L354.2 237.0L354.6 237.1L355.0 237.1L355.4 237.1L355.8 237.1L356.2 237.0L356.6 237.0L357.0 236.9L357.4 236.8L357.8 236.7L358.2 236.6L358.6 236.5L359.0 236.4L359.4 236.3L359.8 236.2L360.2 236.2L360.6 236.1L361.0 236.1L361.4 236.1L361.8 236.1L362.2 236.1L362.6 236.2L363.0 236.3L363.4 236.3L363.8 236.4L364.2 236.5L364.6 236.7L365.0 236.8L365.4 236.9L365.8 236.9L366.2 237.0L366.6 237.1L367.0 237.1L367.4 237.1L367.8 237.1L368.2 237.1L368.6 237.0L369.0 237.0L369.4 236.9L369.8 236.8L370.2 236.7L370.6 236.6L371.0 236.5L371.4 236.4L371.8 236.3L372.2 236.2L372.6 236.2L373.0 236.1L373.4 236.1L373.8 236.1L374.2 236.1L374.6 236.2L375.0 236.2L375.4 236.3L375.8 236.4L376.2 236.5L376.6 236.6L377.0 236.7L377.4 236.8L377.8 236.9L378.2 237.0L378.6 237.0L379.0 237.1L379.4 237.1L379.8 237.1L380.2 237.1L380.6 237.0L381.0 237.0L381.4 236.9L381.8 236.8L382.2 236.7L382.6 236.6L383.0 236.5L383.4 236.4L383.8 236.3L384.2 236.2L384.6 236.2L385.0 236.1L385.4 236.1L385.8 236.1L386.2 236.1L386.6 236.1L387.0 236.2L387.4 236.3L387.8 236.3L388.2 236.4L388.6 236.5L389.0 236.7L389.4 236.8L389.8 236.9L390.2 236.9L390.6 237.0L391.0 237.1L391.4 237.1L391.8 237.1L392.2 237.1L392.6 237.1L393.0 237.0L393.4 237.0L393.8 236.9L394.2 236.8L394.6 236.7L395.0 236.6L395.4 236.5L395.8 236.4L396.2 236.3L396.6 236.2L397.0 236.2L397.4 236.1L397.8 236.1L398.2 236.1L398.6 236.1L399.0 236.2L399.4 236.2L399.8 236.3L400.2 236.4L400.6 236.5L401.0 236.6L401.4 236.7L401.8 236.8L402.2 236.9L402.6 237.0L403.0 237.0L403.4 237.1L403.8 237.1L404.2 237.1L404.6 237.1L405.0 237.0L405.4 237.0L405.8 236.9L406.2 236.8L406.6 236.7L407.0 236.6L407.4 236.5L407.8 236.4L408.2 236.3L408.6 236.2L409.0 236.2L409.4 236.1L409.8 236.1L410.2 236.1L410.6 236.1L411.0 236.1L411.4 236.2L411.8 236.3L412.2 236.3L412.6 236.4L413.0 236.5L413.4 236.7L413.8 236.8L414.2 236.9L414.6 236.9L415.0 237.0L415.4 237.1L415.8 237.1L416.2 237.1L416.6 237.1L417.0 237.1L417.4 237.0L417.8 237.0L418.2 236.9L418.6 236.8L419.0 236.7L419.4 236.6L419.8 236.5L420.2 236.4L420.6 236.3L421.0 236.2L421.4 236.2L421.8 236.1L422.2 236.1L422.6 236.1L423.0 236.1L423.4 236.2L423.8 236.2L424.2 236.3L424.6 236.4L425.0 236.5L425.4 236.6L425.8 236.7L426.2 236.8L426.6 236.9L427.0 237.0L427.4 237.0L427.8 237.1L428.2 237.1L428.6 237.1L429.0 237.1L429.4 237.0L429.8 237.0L430.2 236.9L430.6 236.8L431.0 236.7L431.4 236.6L431.8 236.5L432.2 236.4L432.6 236.3L433.0 236.2L433.4 236.2L433.8 236.1L434.2 236.1L434.6 236.1L435.0 236.1L435.4 236.1L435.8 236.2L436.2 236.3L436.6 236.3L437.0 236.4L437.4 236.5L437.8 236.7L438.2 236.8L438.6 236.9L439.0 236.9L439.4 237.0L439.8 237.1L440.2 237.1L440.6 237.1L441.0 237.1L441.4 237.1L441.8 237.0L442.2 237.0L442.6 236.9L443.0 236.8L443.4 236.7L443.8 236.6L444.2 236.5L444.6 236.4L445.0 236.3L445.4 236.2L445.8 236.2L446.2 236.1L446.6 236.1L447.0 236.1L447.4 236.1L447.8 236.2L448.2 236.2L448.6 236.3L449.0 236.4L449.4 236.5L449.8 236.6L450.2 236.7L450.6 236.8L451.0 236.9L451.4 237.0L451.8 237.0L452.2 237.1L452.6 237.1L453.0 237.1L453.4 237.1L453.8 237.0L454.2 237.0L454.6 236.9L455.0 236.8L455.4 236.7L455.8 236.6L456.2 236.5L456.6 236.4L457.0 236.3L457.4 236.2L457.8 236.2L458.2 236.1L458.6 236.1L459.0 236.1L459.4 236.1L459.8 236.1L460.2 236.2L460.6 236.3L461.0 236.3L461.4 236.4L461.8 236.5L462.2 236.7L462.6 236.8L463.0 236.9L463.4 236.9L463.8 237.0L464.2 237.1L464.6 237.1L465.0 237.1L465.4 237.1L465.8 237.1L466.2 237.0L466.6 237.0L467.0 236.9L467.4 236.8L467.8 236.7L468.2 236.6L468.6 236.5L469.0 236.4L469.4 236.3L469.8 236.2L470.2 236.2L470.6 236.1L471.0 236.1L471.4 236.1L471.8 236.1L472.2 236.2L472.6 236.2L473.0 236.3L473.4 236.4L473.8 236.5L474.2 236.6L474.6 236.7L475.0 236.8L475.4 236.9L475.8 237.0L476.2 237.0L476.6 237.1L477.0 237.1L477.4 237.1L477.8 237.1L478.2 237.0L478.6 237.0L479.0 236.9L479.4 236.8L479.8 236.7L480.2 236.6L480.6 236.5L481.0 236.4L481.4 236.3L481.8 236.2L482.2 236.2L482.6 236.1L483.0 236.1L483.4 236.1L483.8 236.1L484.2 236.1L484.6 236.2L485.0 236.3L485.4 236.3L485.8 236.4L486.2 236.5L486.6 236.7L487.0 236.8L487.4 236.9L487.8 236.9L488.2 237.0L488.6 237.1L489.0 237.1L489.4 237.1L489.8 237.1L490.2 237.1L490.6 237.0L491.0 237.0L491.4 236.9L491.8 236.8L492.2 236.7L492.6 236.6L493.0 236.5L493.4 236.4L493.8 236.3L494.2 236.2L494.6 236.2L495.0 236.1L495.4 236.1L495.8 236.1L496.2 236.1L496.6 236.2L497.0 236.2L497.4 236.3L497.8 236.4L498.2 236.5L498.6 236.6L499.0 236.7L499.4 236.8L499.8 236.9L500.2 237.0L500.6 237.0L501.0 237.1L501.4 237.1L501.8 237.1L502.2 237.1L502.6 237.0L503.0 237.0L503.4 236.9L503.8 236.8L504.2 236.7L504.6 236.6L505.0 236.5L505.4 236.4L505.8 236.3L506.2 236.2L506.6 236.2L507.0 236.1L507.4 236.1L507.8 236.1L508.2 236.1L508.6 236.1L509.0 236.2L509.4 236.3L509.8 236.3L510.2 236.4L510.6 236.5L511.0 236.7L511.4 236.8L511.8 236.9L512.2 236.9L512.6 237.0L513.0 237.1L513.4 237.1L513.8 237.1L514.2 237.1L514.6 237.1L515.0 237.0L515.4 237.0L515.8 236.9L516.2 236.8L516.6 236.7L517.0 236.6L517.4 236.5L517.8 236.4L518.2 236.3L518.6 236.2L519.0 236.2L519.4 236.1L519.8 236.1L520.2 236.1L520.6 236.1L521.0 236.2L521.4 236.2L521.8 236.3L522.2 236.4L522.6 236.5L523.0 236.6L523.4 236.7L523.8 236.8L524.2 236.9L524.6 237.0L525.0 237.0L525.4 237.1L525.8 237.1L526.2 237.1L526.6 237.1L527.0 237.0L527.4 237.0L527.8 236.9L528.2 236.8L528.6 236.7L529.0 236.6L529.4 236.5L529.8 236.4L530.2 236.3L530.6 236.2L531.0 236.2L531.4 236.1L531.8 236.1L532.2 236.1L532.6 236.1L533.0 236.1L533.4 236.2L533.8 236.3L534.2 236.3L534.6 236.4L535.0 236.5L535.4 236.7L535.8 236.8"/>
<rect x="480.8" y="171.2" width="51.5" height="44" class="lg"/>
<line x1="482.8" y1="177.9" x2="499.3" y2="177.9" stroke="#3545ff" stroke-width="1.1"/>
<line x1="482.8" y1="188.4" x2="499.3" y2="188.4" stroke="#ff3c3c" stroke-width="1.1"/>
<line x1="482.8" y1="198.9" x2="499.3" y2="198.9" stroke="#3ca03c" stroke-width="1.1"/>
<line x1="482.8" y1="209.4" x2="499.3" y2="209.4" stroke="#9a2030" stroke-width="1.1"/>
<line x1="307.0" y1="170.4" x2="540.5" y2="170.4" class="fr"/>
<line x1="540.5" y1="170.4" x2="540.5" y2="303.0" class="fr2"/>
<line x1="307.0" y1="303.0" x2="540.5" y2="303.0" class="ax"/>
<line x1="307.0" y1="170.4" x2="307.0" y2="303.0" class="ax"/>
<path d="M305.2 174.4L307.0 170.6L308.8 174.4Z" fill="#000"/>
<path d="M536.9 301.2L541.3 303.0L536.9 304.8Z" fill="#000"/>
<line x1="307.0" y1="303.0" x2="307.0" y2="305.5" class="tk"/>
<line x1="328.2" y1="303.0" x2="328.2" y2="304.5" class="tk"/>
<line x1="349.4" y1="303.0" x2="349.4" y2="305.5" class="tk"/>
<line x1="370.7" y1="303.0" x2="370.7" y2="304.5" class="tk"/>
<line x1="391.9" y1="303.0" x2="391.9" y2="305.5" class="tk"/>
<line x1="413.1" y1="303.0" x2="413.1" y2="304.5" class="tk"/>
<line x1="434.4" y1="303.0" x2="434.4" y2="305.5" class="tk"/>
<line x1="455.6" y1="303.0" x2="455.6" y2="304.5" class="tk"/>
<line x1="476.8" y1="303.0" x2="476.8" y2="305.5" class="tk"/>
<line x1="498.0" y1="303.0" x2="498.0" y2="304.5" class="tk"/>
<line x1="519.2" y1="303.0" x2="519.2" y2="305.5" class="tk"/>
<line x1="304.8" y1="287.4" x2="307.0" y2="287.4" class="tk"/>
<line x1="305.6" y1="274.7" x2="307.0" y2="274.7" class="tk"/>
<line x1="304.8" y1="262.0" x2="307.0" y2="262.0" class="tk"/>
<line x1="305.6" y1="249.3" x2="307.0" y2="249.3" class="tk"/>
<line x1="304.8" y1="236.6" x2="307.0" y2="236.6" class="tk"/>
<line x1="305.6" y1="223.9" x2="307.0" y2="223.9" class="tk"/>
<line x1="304.8" y1="211.2" x2="307.0" y2="211.2" class="tk"/>
<line x1="305.6" y1="198.5" x2="307.0" y2="198.5" class="tk"/>
<line x1="304.8" y1="185.8" x2="307.0" y2="185.8" class="tk"/>
<line x1="83.0" y1="333.5" x2="83.0" y2="466.1" class="gr"/>
<line x1="125.4" y1="333.5" x2="125.4" y2="466.1" class="gr"/>
<line x1="167.9" y1="333.5" x2="167.9" y2="466.1" class="gr"/>
<line x1="210.3" y1="333.5" x2="210.3" y2="466.1" class="gr"/>
<line x1="252.8" y1="333.5" x2="252.8" y2="466.1" class="gr"/>
<line x1="40.5" y1="343.1" x2="274.0" y2="343.1" class="gr"/>
<line x1="40.5" y1="371.4" x2="274.0" y2="371.4" class="gr"/>
<line x1="40.5" y1="428.0" x2="274.0" y2="428.0" class="gr"/>
<line x1="40.5" y1="456.3" x2="274.0" y2="456.3" class="gr"/>
<path class="bl" d="M40.5 399.7L40.8 397.5L41.0 395.9L41.3 397.6L41.6 400.4L42.0 400.8L42.3 399.3L42.5 397.6L42.8 396.5L43.1 398.0L43.3 400.4L43.6 402.4L44.0 400.9L44.3 398.1L44.6 399.6L45.0 404.5L45.3 402.5L45.5 394.8L45.8 388.5L46.1 399.4L46.5 418.4L46.9 393.7L47.2 369.2L47.5 372.5L47.7 360.6L48.0 376.7L48.3 363.9L48.7 396.0L49.0 419.7L49.3 446.2L49.5 424.1L49.8 412.0L50.0 390.9L50.3 369.2L50.7 363.9L51.0 360.6L51.4 374.6L51.8 366.0L52.0 391.0L52.3 408.8L52.6 399.6L53.0 389.5L53.3 401.9L53.6 419.5L53.9 407.4L54.2 401.3L54.5 417.2L54.8 443.6L55.2 417.4L55.5 387.4L55.8 392.9L56.0 401.1L56.3 406.7L56.6 407.3L56.8 414.2L57.1 411.3L57.4 419.5L57.7 413.1L57.9 404.4L58.2 398.1L58.5 393.9L58.8 383.1L59.2 358.5L59.6 342.5L60.0 372.4L60.3 400.8L60.6 421.6L60.9 401.2L61.2 385.3L61.5 381.1L61.7 367.9L62.0 362.8L62.2 376.8L62.5 383.1L62.9 398.0L63.2 417.4L63.5 423.0L63.8 430.2L64.2 434.4L64.5 459.1L64.8 430.9L65.0 428.1L65.2 420.7L65.5 422.7L65.8 420.6L66.0 430.9L66.2 431.8L66.5 436.6L66.8 428.8L67.0 419.6L67.2 405.2L67.5 401.3L67.8 390.9L68.2 376.7L68.5 378.0L68.7 371.3L69.0 377.0L69.2 368.1L69.5 376.7L69.7 366.0L70.0 373.8L70.2 371.3L70.6 379.9L71.0 387.4L71.2 387.7L71.5 383.2L71.8 384.0L72.0 379.9L72.2 387.7L72.5 395.5L72.8 407.7L73.0 421.1L73.2 425.4L73.5 433.4L73.8 425.1L74.0 424.5L74.2 415.7L74.5 414.4L74.8 408.0L75.0 406.7L75.3 407.2L75.5 410.3L75.8 410.3L76.1 417.4L76.3 418.5L76.6 420.6L76.9 414.4L77.1 409.6L77.4 399.1L77.7 392.4L78.0 386.5L78.2 379.8L78.5 374.6L78.8 377.4L79.1 370.8L79.3 369.1L79.6 366.2L79.9 367.1L80.2 373.9L80.5 377.2L80.7 387.2L81.0 387.4L81.2 389.5L81.5 385.4L81.8 386.8L82.0 379.9L82.3 383.1L82.5 383.6L82.8 391.3L83.1 397.9L83.3 406.2L83.6 418.0L83.9 422.4L84.1 429.5L84.4 429.1L84.7 424.3L84.9 422.0L85.2 412.0L85.5 408.3L85.7 400.4L86.0 401.3L86.3 399.3L86.6 405.0L86.9 408.2L87.2 410.9L87.5 410.7L87.8 404.0L88.1 395.4L88.3 383.7L88.6 380.5L88.9 377.3L89.2 386.3L89.5 393.2L89.8 398.1L90.0 400.7L90.3 413.7L90.5 423.0L90.8 428.1L91.1 415.6L91.4 392.2L91.7 381.0L92.0 383.0L92.2 386.6L92.5 394.6L92.8 396.0L93.1 399.6L93.4 405.9L93.7 409.5L94.0 413.1L94.2 410.3L94.5 408.1L94.8 402.4L95.0 397.6L95.2 395.4L95.5 393.8L95.8 393.6L96.0 393.1L96.3 393.7L96.6 390.0L96.8 388.0L97.1 381.4L97.4 381.3L97.6 375.8L97.9 377.8L98.2 381.6L98.5 388.4L98.7 397.1L99.0 398.1L99.3 400.9L99.5 403.5L99.8 406.4L100.1 414.5L100.4 415.5L100.7 422.1L100.9 419.7L101.2 428.1L101.5 422.8L101.7 421.6L102.0 414.4L102.2 411.1L102.5 406.7L102.8 406.4L103.1 410.2L103.4 410.2L103.7 415.2L104.0 409.3L104.2 406.7L104.5 400.4L104.7 394.8L105.0 393.8L105.2 396.0L105.5 393.8L105.8 391.8L106.0 385.2L106.2 381.3L106.5 375.1L106.8 375.5L107.0 374.6L107.2 379.6L107.5 383.2L107.8 390.6L108.0 390.6L108.3 389.9L108.6 385.7L108.9 383.1L109.2 388.3L109.4 390.7L109.7 397.4L110.0 402.2L110.2 405.3L110.5 412.0L110.8 410.0L111.0 416.6L111.3 416.8L111.5 422.3L111.8 421.5L112.0 426.6L112.3 425.1L112.5 430.9L112.8 432.3L113.1 427.8L113.4 424.9L113.7 417.6L113.9 412.6L114.2 408.0L114.5 406.7L114.8 407.0L115.0 404.0L115.2 400.1L115.5 398.1L115.8 395.7L116.0 393.4L116.3 392.8L116.5 390.0L116.8 388.2L117.0 383.6L117.3 381.1L117.5 378.4L117.8 377.3L118.1 381.5L118.4 383.3L118.7 387.8L118.9 390.9L119.2 394.4L119.5 398.1L119.8 397.8L120.0 397.7L120.2 397.7L120.5 393.8L120.8 396.6L121.0 396.7L121.2 399.8L121.5 403.9L121.8 409.1L122.0 415.1L122.2 418.8L122.5 423.0L122.8 424.4L123.0 427.0L123.2 425.5L123.5 426.0L123.8 422.7L124.0 418.9L124.2 411.7L124.5 408.2L124.8 403.6L125.0 406.7L125.2 403.3L125.5 402.4L125.8 400.1L126.0 398.1L126.2 399.0L126.5 395.5L126.8 392.5L127.0 387.4L127.2 383.3L127.5 377.3L127.8 374.3L128.0 367.2L128.2 367.3L128.5 365.6L128.8 368.8L129.0 374.1L129.2 384.2L129.5 390.7L129.8 395.9L130.0 396.0L130.2 394.6L130.5 391.5L130.8 390.3L131.0 389.5L131.3 391.4L131.5 394.6L131.8 399.6L132.0 408.2L132.3 416.0L132.5 425.1L132.8 430.9L133.0 435.6L133.3 435.5L133.6 429.9L133.9 427.7L134.2 420.1L134.4 416.5L134.7 412.4L135.0 410.9L135.3 409.8L135.5 407.9L135.8 403.2L136.0 398.3L136.3 393.4L136.5 386.3L136.8 382.3L137.0 374.3L137.3 372.4L137.5 367.3L137.8 367.4L138.1 373.0L138.4 378.5L138.7 386.3L139.0 387.4L139.2 387.2L139.5 383.6L139.8 382.1L140.0 381.0L140.3 383.6L140.5 384.5L140.8 389.9L141.0 394.4L141.3 400.3L141.6 408.8L141.8 415.5L142.1 423.8L142.4 429.0L142.6 435.5L142.9 436.4L143.1 442.2L143.4 443.6L143.7 438.1L143.9 437.2L144.2 428.0L144.5 424.1L144.7 417.2L145.0 417.4L145.2 414.0L145.5 412.0L145.8 407.0L146.0 406.7L146.3 404.6L146.5 401.2L146.8 395.9L147.1 387.4L147.3 380.5L147.6 371.7L147.9 366.4L148.1 361.5L148.4 360.1L148.7 364.7L148.9 372.7L149.2 382.6L149.5 385.3L149.8 384.9L150.0 381.0L150.2 379.8L150.5 376.7L150.8 379.9L151.0 379.8L151.3 383.8L151.5 388.5L151.8 394.7L152.0 400.7L152.3 406.8L152.5 413.7L152.8 419.1"/>
<path class="bl2" d="M152.8 419.1L153.0 424.4L153.3 427.9L153.5 430.5L153.8 431.3L154.1 429.8L154.4 426.4L154.7 421.5L154.9 416.8L155.2 413.1L155.5 412.0L155.8 410.9L156.0 408.3L156.3 403.7L156.5 398.6L156.8 393.0L157.1 386.6L157.3 381.5L157.6 376.9L157.8 374.4L158.1 373.2L158.4 375.6L158.6 380.3L158.9 385.7L159.2 387.4L159.5 386.5L159.7 384.2L160.0 383.1L160.3 384.1L160.5 385.8L160.8 389.5L161.0 393.3L161.3 398.5L161.6 403.4L161.8 408.4L162.1 413.6L162.3 417.6L162.6 421.1L162.8 422.9L163.1 423.8L163.4 422.4L163.7 420.1L163.9 416.6L164.2 414.1L164.5 413.1L164.8 413.0L165.0 414.1L165.2 414.5L165.5 415.2L165.8 414.2L166.0 412.2L166.3 408.3L166.6 404.0L166.8 399.1L167.1 393.2L167.3 388.3L167.6 383.3L167.9 379.9L168.1 377.5L168.4 376.7L168.7 378.9L168.9 383.6L169.2 388.7L169.5 390.6L169.8 390.2L170.0 388.2L170.3 387.4L170.6 388.9L170.9 391.6L171.1 396.5L171.4 401.8L171.7 407.0L171.9 412.1L172.2 414.8L172.5 416.3L172.8 415.5L173.0 414.4L173.2 412.3L173.5 410.7L173.8 409.0L174.0 408.8L174.2 409.0L174.5 409.9L174.8 410.5L175.0 410.9L175.2 410.1L175.5 409.3L175.8 407.0L176.0 404.8L176.2 401.5L176.5 398.6L176.8 395.9L177.0 392.5L177.2 390.2L177.5 388.0L177.8 387.1L178.0 386.3L178.2 387.3L178.5 388.7L178.8 391.3L179.0 393.5L179.2 395.5L179.5 396.0L179.8 395.6L180.0 394.3L180.3 393.8L180.6 394.5L180.8 395.8L181.1 398.4L181.3 400.9L181.6 403.7L181.8 406.7L182.1 408.7L182.3 410.4L182.6 410.9L182.9 410.6L183.1 410.2L183.4 408.9L183.6 408.1L183.9 406.3L184.1 404.8L184.4 402.6L184.6 400.8L184.9 398.9L185.2 396.5L185.4 394.8L185.7 392.5L185.9 391.0L186.2 389.2L186.4 388.4L186.7 387.1L186.9 386.8L187.2 386.3L187.5 387.1L187.7 388.1L188.0 390.3L188.2 392.2L188.5 394.3L188.7 395.5L189.0 396.0L189.3 395.7L189.5 394.3L189.8 393.8L190.1 394.4L190.3 395.6L190.6 397.7L190.8 400.1L191.1 402.5L191.4 405.7L191.6 408.1L191.9 410.3L192.1 411.3L192.4 412.0L192.7 411.4L192.9 410.9L193.2 409.2L193.4 407.7L193.7 405.3L194.0 402.9L194.2 399.9L194.5 397.3L194.8 394.7L195.0 391.7L195.3 389.5L195.6 386.9L195.8 385.2L196.1 383.7L196.3 383.1L196.6 382.6L196.9 383.1L197.1 383.9L197.4 385.7L197.7 387.7L197.9 390.7L198.2 393.3L198.4 396.8L198.7 400.0L199.0 403.1L199.2 406.6L199.5 409.3L199.8 412.3L200.0 414.0L200.3 416.0L200.5 416.8L200.8 417.4L201.1 416.8L201.3 416.4L201.6 415.0L201.8 413.8L202.1 411.6L202.4 409.6L202.6 406.8L202.9 404.4L203.1 401.3L203.4 398.6L203.7 396.0L203.9 392.8L204.2 390.4L204.4 387.6L204.7 385.8L205.0 383.5L205.2 382.3L205.5 380.8L205.7 380.5L206.0 379.9L206.3 380.6L206.5 381.0L206.8 382.5L207.0 384.1L207.3 386.7L207.5 389.0L207.8 392.4L208.0 395.1L208.3 398.7L208.5 401.7L208.8 404.8L209.0 408.1L209.3 410.9L209.5 413.6L209.8 415.6L210.0 417.7L210.3 418.9L210.5 419.9L210.8 420.1L211.1 419.7L211.3 419.1L211.6 417.8L211.8 416.2L212.1 413.8L212.4 411.7L212.6 408.6L212.9 406.1L213.1 402.5L213.4 399.8L213.7 396.7L213.9 393.5L214.2 390.8L214.4 387.8L214.7 385.7L215.0 383.3L215.2 381.7L215.5 380.4L215.7 380.0L216.0 379.4L216.3 380.0L216.5 380.3L216.8 381.7L217.0 383.1L217.3 385.5L217.6 387.5L217.8 390.4L218.1 393.0L218.3 396.2L218.6 399.1L218.9 401.7L219.1 405.1L219.4 407.6L219.6 410.6L219.9 412.8L220.2 415.0L220.4 416.4L220.7 417.8L220.9 418.2L221.2 418.7L221.5 418.3L221.7 417.9L222.0 416.6L222.2 415.3L222.5 413.3L222.7 411.3L223.0 408.6L223.2 406.3L223.5 403.3L223.7 400.5L224.0 397.9L224.2 394.7L224.5 392.1L224.7 389.2L225.0 386.9L225.2 384.6L225.5 383.0L225.7 381.3L226.0 380.6L226.2 379.6L226.5 379.4L226.8 379.9L227.0 380.5L227.3 382.0L227.5 383.7L227.8 386.4L228.0 388.6L228.3 391.9L228.6 394.7L228.8 398.5L229.1 401.4L229.3 404.6L229.6 407.9L229.9 410.7L230.1 413.6L230.4 415.7L230.6 417.7L230.9 418.7L231.1 419.9L231.4 420.1L231.7 419.6L231.9 418.9L232.2 417.3L232.4 415.4L232.7 412.6L233.0 409.9L233.2 406.3L233.5 403.3L233.8 399.4L234.0 396.2L234.3 393.0L234.5 389.6L234.8 386.8L235.1 384.1L235.3 382.5L235.6 380.6L235.8 380.0L236.1 379.4L236.4 379.9L236.6 380.3L236.9 381.7L237.1 383.1L237.4 385.3L237.7 387.5L237.9 390.4L238.2 393.0L238.4 396.2L238.7 399.1L239.0 402.0L239.2 405.1L239.5 407.6L239.7 410.6L240.0 412.7L240.3 415.0L240.5 416.2L240.8 417.8L241.0 418.4L241.3 418.7L241.6 418.1L241.8 417.9L242.1 416.6L242.3 415.3L242.6 413.1L242.8 411.3L243.1 408.6L243.3 406.3L243.6 403.3L243.9 400.7L244.1 398.1L244.4 395.1L244.6 392.9L244.9 390.0L245.1 388.1L245.4 386.0L245.6 384.7L245.9 383.5L246.1 383.1L246.4 382.6L246.7 383.0L246.9 383.4L247.2 384.6L247.4 385.8L247.7 387.7L248.0 389.6L248.2 392.0L248.5 394.4L248.7 397.1L249.0 399.6L249.3 402.1L249.5 404.9L249.8 407.2L250.0 409.7L250.3 411.4L250.6 413.5L250.8 414.7L251.1 415.9L251.3 416.2L251.6 416.7L251.9 416.3L252.1 415.9L252.4 414.7L252.6 413.6L252.9 411.8L253.1 410.0L253.4 407.6L253.6 405.4L253.9 402.8L254.1 400.3L254.4 398.1L254.7 395.3L254.9 393.2L255.2 390.7L255.4 388.9L255.7 387.1L255.9 386.0L256.2 384.8L256.4 384.6L256.7 384.0L257.0 384.3L257.2 384.6L257.5 385.7L257.7 386.4L258.0 387.9L258.2 389.1L258.5 391.1L258.7 392.7L259.0 395.0L259.2 396.7L259.5 399.0L259.7 400.8L260.0 402.5L260.2 404.6L260.5 406.0L260.7 407.8L261.0 408.7L261.2 410.1L261.5 410.6L261.7 411.3L262.0 411.5L262.2 410.8L262.5 410.3L262.8 408.7L263.0 407.9L263.2 406.7L263.5 406.7L263.8 406.7L264.0 407.7L264.2 408.3L264.5 408.8L264.8 408.2L265.0 406.9L265.2 404.5L265.5 401.8L265.8 398.8L266.0 395.5L266.2 393.0L266.5 390.4L266.8 389.2L267.0 388.5L267.3 389.1L267.6 390.1L267.8 392.1L268.1 394.1L268.4 396.6L268.6 398.1L268.9 399.7L269.2 399.7"/>
<path class="rd" d="M40.5 400.4L40.8 398.6L41.1 400.2L41.4 397.9L41.7 399.8L42.0 398.1L42.3 399.4L42.6 398.4L42.9 401.5L43.2 400.8L43.5 403.3L43.8 400.5L44.1 401.7L44.4 398.1L44.7 399.1L45.0 397.0L45.3 399.5L45.6 399.1L46.0 403.6L46.3 402.2L46.6 403.0L46.9 397.3L47.2 395.1L47.5 391.1L47.8 394.6L48.2 396.5L48.5 400.0L48.9 403.0L49.2 410.5L49.5 399.7L49.9 393.9L50.3 395.9L50.8 402.7L51.1 399.8L51.4 400.1L51.7 395.8L52.0 397.9L52.3 396.5L52.6 399.1L52.9 400.0L53.3 404.5L53.6 404.3L53.9 407.8L54.2 406.4L54.5 407.1L54.9 402.6L55.2 401.6L55.5 398.6L55.8 401.6L56.2 400.7L56.5 404.1L56.8 400.8L57.1 401.7L57.4 396.5L57.7 397.3L58.0 394.8L58.3 396.6L58.7 393.3L59.0 395.4L59.3 392.1L59.6 393.6L60.0 391.2L60.3 393.0L60.6 391.8L61.0 396.0L61.3 396.0L61.7 397.3L62.0 393.4L62.4 394.9L62.7 393.4L63.0 396.5L63.3 396.5L63.6 399.7L63.9 399.8L64.2 404.5L64.5 404.5L64.8 407.5L65.1 406.9L65.4 408.9L65.8 405.7L66.2 405.5L66.6 401.4L66.9 404.4L67.3 403.0L67.6 405.8L67.9 404.1L68.2 404.3L68.5 400.8L68.8 399.6L69.1 395.7L69.4 395.6L69.7 392.6L70.0 393.2L70.3 391.8L70.7 395.0L71.0 394.2L71.3 398.5L71.7 397.4L72.0 399.6L72.3 397.4L72.6 399.0L72.9 396.2L73.2 397.7L73.5 395.4L73.8 398.2L74.1 396.7L74.4 399.9L74.7 399.9L75.0 402.9L75.3 403.6L75.6 406.4L75.9 405.7L76.2 407.3L76.5 406.1L76.8 406.4L77.1 404.2L77.4 404.1L77.8 401.9L78.1 402.2L78.4 400.2L78.7 400.6L79.0 399.1L79.3 400.1L79.7 397.9L80.0 397.8L80.3 394.8L80.6 394.5L81.0 393.0L81.3 393.7L81.6 392.2L81.9 394.2L82.3 394.0L82.6 396.3L82.9 396.4L83.2 398.6L83.5 398.7L83.9 400.6L84.2 399.9L84.5 401.3L84.8 399.7L85.2 400.0L85.5 398.3L85.8 399.8L86.2 399.9L86.5 403.1L86.9 404.2L87.2 406.9L87.6 406.2L87.9 406.8L88.2 405.1L88.5 405.3L88.8 402.8L89.1 402.4L89.4 400.2L89.7 400.8L90.0 399.1L90.3 400.3L90.6 398.3L90.9 398.1L91.2 395.6L91.6 395.9L91.9 393.4L92.2 393.7L92.5 392.6L92.8 393.8L93.1 393.4L93.4 395.5L93.8 394.9L94.1 397.3L94.4 397.3L94.7 399.2L95.0 397.9L95.3 399.2L95.7 397.3L96.0 397.9L96.3 397.3L96.7 399.2L97.0 398.9L97.3 401.0L97.7 401.3L98.0 403.7L98.3 403.8L98.6 406.2L99.0 405.5L99.3 406.4L99.6 405.1L99.9 406.6L100.2 404.4L100.5 405.3L100.8 403.1L101.1 404.1L101.4 401.8L101.7 402.0L102.0 399.4L102.3 399.9L102.7 397.6L103.0 397.8L103.3 395.9L103.6 396.2L103.9 394.8L104.2 395.4L104.5 394.0L104.8 395.2L105.1 394.1L105.4 395.6L105.7 394.4L106.0 396.6L106.3 395.6L106.6 398.2L106.9 397.5L107.2 399.5L107.5 399.4L107.8 401.7L108.1 401.8L108.5 403.9L108.8 403.4L109.1 405.3L109.4 404.4L109.7 406.5L110.0 405.5L110.3 406.6L110.6 405.2L110.9 406.4L111.2 404.5L111.5 405.3L111.8 403.6L112.1 403.8L112.4 401.4L112.7 401.7L113.0 399.4L113.3 400.1L113.6 397.4L113.9 398.1L114.2 396.2L114.5 396.4L114.9 394.3L115.2 395.0L115.5 394.0L115.8 394.8L116.1 393.8L116.4 395.3L116.7 394.5L117.0 396.5L117.3 396.2L117.6 397.6L117.9 397.8L118.2 399.6L118.5 399.9L118.8 402.2L119.1 401.4L119.4 403.5L119.7 403.4L120.0 405.2L120.3 404.8L120.6 406.3L121.0 405.3L121.3 406.8L121.6 405.5L121.9 406.2L122.2 404.8L122.5 405.2L122.8 403.4L123.1 404.0L123.4 401.8L123.7 401.7L124.0 400.0L124.3 399.9L124.6 397.7L124.9 398.3L125.2 396.2L125.5 396.8L125.8 394.7L126.1 395.6L126.4 394.2L126.8 395.3L127.1 394.0L127.4 395.6L127.7 394.7L128.0 396.6L128.3 396.3L128.6 398.2L128.9 397.7L129.2 399.7L129.5 399.8L129.8 402.0L130.1 401.5L130.4 404.2L130.7 403.5L131.0 405.7L131.3 404.5L131.6 406.2L131.9 405.4L132.2 406.5L132.5 405.2L132.9 406.5L133.2 404.5L133.5 405.6L133.8 403.3L134.1 404.0L134.4 401.7L134.7 401.7L135.0 399.7L135.3 399.7L135.6 398.1L135.9 398.3L136.2 396.4L136.5 396.4L136.8 395.1L137.1 395.9L137.4 394.3L137.7 395.0L138.0 393.9L138.3 395.4L138.6 394.6L139.0 396.8L139.3 395.9L139.6 398.5L139.9 397.8L140.2 400.2L140.5 400.1L140.8 402.2L141.1 401.7L141.4 404.0L141.7 403.7L142.0 405.6L142.3 404.4L142.6 406.1L142.9 405.5L143.2 406.8L143.5 405.2L143.8 406.2L144.1 404.9L144.4 405.2L144.7 403.4L145.1 404.1L145.4 401.8L145.7 401.9L146.0 399.8L146.3 399.9L146.6 397.9L146.9 397.7L147.2 396.4L147.5 396.5L147.8 395.2L148.1 395.4L148.4 394.6L148.7 395.0L149.0 394.4L149.3 395.4L149.6 395.0L149.9 396.2L150.2 396.2L150.5 397.7L150.8 397.9L151.2 399.1L151.5 399.5L151.8 401.2L152.1 401.3L152.4 402.7L152.7 402.8L153.0 404.0L153.3 404.1L153.6 404.9L153.9 404.6L154.2 405.3L154.5 404.7L154.8 405.1L155.1 403.9L155.4 404.1L155.7 402.8L156.0 402.7L156.3 401.2L156.6 401.1L156.9 399.6L157.2 399.2L157.6 397.9L157.9 397.6L158.2 396.3L158.5 396.1L158.8 395.1L159.1 395.2L159.4 394.3L159.7 394.9L160.0 394.3L160.3 395.3L160.6 395.0L160.9 396.2L161.2 396.1L161.5 397.7L161.8 397.8L162.1 399.3L162.4 399.5L162.7 401.2L163.0 401.4L163.3 402.8L163.7 402.7L164.0 404.1L164.3 404.1L164.6 405.0L164.9 404.6L165.2 405.4L165.5 404.5L165.8 405.2L166.1 404.1L166.4 404.0L166.7 403.0L167.0 402.7L167.3 401.3L167.6 401.2L167.9 399.4L168.2 399.2L168.5 397.6L168.8 397.5L169.1 396.2L169.4 396.3L169.8 395.2L170.1 395.2L170.4 394.3L170.7 394.9L171.0 394.5L171.3 395.3L171.6 395.0L171.9 396.0L172.2 396.3L172.5 397.6L172.8 397.8L173.1 399.2L173.4 399.5L173.7 401.2L174.0 401.4L174.3 402.8L174.6 403.0L174.9 404.1L175.2 404.0L175.5 404.9L175.9 404.5L176.2 405.5L176.5 404.8L176.8 405.2L177.1 404.1L177.4 404.2L177.7 402.8L178.0 402.7L178.3 401.3L178.6 401.1L178.9 399.4L179.2 399.2L179.5 397.7L179.8 397.7L180.1 396.2L180.4 396.2L180.7 395.2L181.0 395.3L181.3 394.5L181.6 395.1L182.0 394.4L182.3 395.3L182.6 395.2L182.9 396.2L183.2 396.2L183.5 397.5L183.8 397.6L184.1 399.3L184.4 399.7L184.7 401.2L185.0 401.4L185.3 402.7L185.6 402.8L185.9 404.2L186.2 404.0L186.5 405.1L186.8 404.7L187.1 405.3L187.4 404.8L187.7 404.9L188.1 404.0L188.4 404.2L188.7 402.9L189.0 402.8L189.3 401.4L189.6 401.0L189.9 399.6L190.2 399.4L190.5 397.9L190.8 397.6L191.1 396.3L191.4 396.3L191.7 395.1L192.0 395.2L192.3 394.5L192.6 395.0L192.9 394.3L193.2 395.2L193.5 394.9L193.8 396.1L194.2 396.3L194.5 397.4L194.8 397.9L195.1 399.4L195.4 399.5L195.7 401.0L196.0 401.4L196.3 402.7L196.6 402.8L196.9 404.3L197.2 404.0L197.5 405.1L197.8 404.8L198.1 405.3L198.4 404.8L198.7 405.1L199.0 404.0L199.3 404.0L199.6 403.0L199.9 402.9L200.3 401.5L200.6 401.2L200.9 399.4L201.2 399.4L201.5 397.8L201.8 397.6L202.1 396.2L202.4 396.2L202.7 394.9L203.0 395.4L203.3 394.5L203.6 395.1L203.9 394.4L204.2 395.3L204.5 395.0L204.8 396.0L205.1 396.1L205.4 397.6L205.7 397.8L206.0 399.3L206.4 399.6L206.7 401.0L207.0 401.3L207.3 402.6L207.6 402.9L207.9 404.2L208.2 404.1L208.5 405.1L208.8 404.5L209.1 405.5L209.4 404.8L209.7 405.1L210.0 404.0L210.3 404.0L210.6 402.9L210.9 402.7L211.2 401.5L211.5 401.1L211.8 399.4L212.1 399.2L212.5 397.6L212.8 397.6L213.1 396.3L213.4 396.3L213.7 395.0L214.0 395.4L214.3 394.4L214.6 395.1L214.9 394.5L215.2 395.4L215.5 394.9L215.8 396.3L216.1 396.2L216.4 397.7L216.7 397.8L217.0 399.1L217.3 399.7L217.6 400.9L217.9 401.4L218.2 402.7L218.6 402.9L218.9 404.2L219.2 404.0L219.5 405.0L219.8 404.6L220.1 405.3L220.4 404.7L220.7 405.1L221.0 404.1L221.3 404.0L221.6 402.7L221.9 402.8L222.2 401.4L222.5 401.0L222.8 399.5L223.1 399.3L223.4 397.9L223.7 397.4L224.0 396.3L224.3 396.3L224.7 395.2L225.0 395.3L225.3 394.5L225.6 394.9L225.9 394.5L226.2 395.3L226.5 395.2L226.8 396.0L227.1 396.3L227.4 397.5L227.7 397.8L228.0 399.1L228.3 399.7L228.6 401.1L228.9 401.4L229.2 402.8L229.5 403.0L229.8 404.1L230.1 404.1L230.4 404.9L230.8 404.5L231.1 405.3L231.4 404.8L231.7 405.0L232.0 404.2L232.3 404.2L232.6 402.9L232.9 402.6L233.2 401.5L233.5 401.2L233.8 399.6L234.1 399.4L234.4 397.8L234.7 397.7L235.0 396.3L235.3 396.1L235.6 395.1L235.9 395.4L236.2 394.4L236.5 394.9L236.9 394.6L237.2 395.4L237.5 394.9L237.8 396.2L238.1 396.4L238.4 397.4L238.7 397.9L239.0 399.2L239.3 399.7L239.6 400.9L239.9 401.3L240.2 402.9L240.5 403.0L240.8 404.3L241.1 404.0L241.4 405.2L241.7 404.5L242.0 405.5L242.3 404.8L242.6 405.0L243.0 404.0L243.3 404.3L243.6 403.0L243.9 402.7L244.2 401.2L244.5 400.9L244.8 399.6L245.1 399.2L245.4 397.7L245.7 397.7L246.0 396.3L246.3 396.3L246.6 395.0L246.9 395.4L247.2 394.4L247.5 395.1L247.8 394.5L248.1 395.3L248.4 395.1L248.7 396.3L249.1 396.2L249.4 397.5L249.7 397.9L250.0 399.3L250.3 399.5L250.6 401.1L250.9 401.4L251.2 402.8L251.5 403.0L251.8 404.2L252.1 404.2L252.4 405.0L252.7 404.6L253.0 405.4L253.3 404.8L253.6 405.0L253.9 403.9L254.2 404.2L254.5 402.8L254.8 402.9L255.2 401.3L255.5 401.2L255.8 399.5L256.1 399.2L256.4 397.8L256.7 397.4L257.0 396.2L257.3 396.4L257.6 395.2L257.9 395.3L258.2 394.6L258.5 394.8L258.8 394.4L259.1 395.2L259.4 395.2L259.7 396.1L260.0 396.2L260.3 397.6L260.6 397.9L260.9 399.2L261.3 399.4L261.6 401.0L261.9 401.3L262.2 402.7L262.5 402.8L262.8 404.2L263.1 403.9L263.4 405.1L263.7 404.8L264.0 405.3L264.3 404.8L264.6 405.3L264.9 404.4L265.2 404.4L265.6 403.3L265.9 403.5L266.2 402.3L266.5 402.3L266.8 401.2L267.1 401.2L267.4 400.0L267.7 400.3L268.1 399.1L268.4 399.5L268.7 398.4L269.0 398.9L269.3 398.3"/>
<path class="gn" d="M40.5 399.4L40.9 399.2L41.3 399.1L41.7 398.9L42.1 398.8L42.5 398.8L42.9 398.7L43.3 398.8L43.7 398.8L44.1 398.9L44.5 399.1L44.9 399.2L45.3 399.4L45.7 399.6L46.1 399.9L46.5 400.1L46.9 400.2L47.3 400.4L47.7 400.5L48.1 400.6L48.5 400.7L48.9 400.7L49.3 400.6L49.7 400.5L50.1 400.4L50.5 400.2L50.9 400.1L51.3 399.9L51.7 399.6L52.1 399.4L52.5 399.2L52.9 399.1L53.3 398.9L53.7 398.8L54.1 398.8L54.5 398.7L54.9 398.8L55.3 398.8L55.7 398.9L56.1 399.1L56.5 399.2L56.9 399.4L57.3 399.6L57.7 399.9L58.1 400.1L58.5 400.2L58.9 400.4L59.3 400.5L59.7 400.6L60.1 400.7L60.5 400.7L60.9 400.6L61.3 400.5L61.7 400.4L62.1 400.2L62.5 400.1L62.9 399.9L63.3 399.6L63.7 399.4L64.1 399.2L64.5 399.1L64.9 398.9L65.3 398.8L65.7 398.8L66.1 398.7L66.5 398.8L66.9 398.8L67.3 398.9L67.7 399.1L68.1 399.2L68.5 399.4L68.9 399.6L69.3 399.9L69.7 400.1L70.1 400.2L70.5 400.4L70.9 400.5L71.3 400.6L71.7 400.7L72.1 400.7L72.5 400.6L72.9 400.5L73.3 400.4L73.7 400.2L74.1 400.1L74.5 399.8L74.9 399.7L75.3 399.5L75.7 399.4L76.1 399.3L76.5 399.2L76.9 399.1L77.3 399.1L77.7 399.1L78.1 399.1L78.5 399.1L78.9 399.2L79.3 399.3L79.7 399.4L80.1 399.5L80.5 399.7L80.9 399.8L81.3 399.9L81.7 400.1L82.1 400.2L82.5 400.3L82.9 400.3L83.3 400.3L83.7 400.3L84.1 400.3L84.5 400.3L84.9 400.2L85.3 400.1L85.7 399.9L86.1 399.8L86.5 399.7L86.9 399.5L87.3 399.4L87.7 399.3L88.1 399.2L88.5 399.1L88.9 399.1L89.3 399.1L89.7 399.1L90.1 399.1L90.5 399.2L90.9 399.3L91.3 399.4L91.7 399.5L92.1 399.7L92.5 399.8L92.9 399.9L93.3 400.1L93.7 400.2L94.1 400.3L94.5 400.3L94.9 400.3L95.3 400.3L95.7 400.3L96.1 400.3L96.5 400.2L96.9 400.1L97.3 399.9L97.7 399.8L98.1 399.7L98.5 399.5L98.9 399.4L99.3 399.3L99.7 399.2L100.1 399.1L100.5 399.1L100.9 399.1L101.3 399.1L101.7 399.1L102.1 399.2L102.5 399.3L102.9 399.4L103.3 399.5L103.7 399.7L104.1 399.8L104.5 399.9L104.9 400.1L105.3 400.2L105.7 400.3L106.1 400.3L106.5 400.3L106.9 400.3L107.3 400.3L107.7 400.3L108.1 400.2L108.5 400.1L108.9 399.9L109.3 399.8L109.7 399.7L110.1 399.5L110.5 399.4L110.9 399.3L111.3 399.2L111.7 399.1L112.1 399.1L112.5 399.1L112.9 399.1L113.3 399.1L113.7 399.2L114.1 399.3L114.5 399.4L114.9 399.5L115.3 399.7L115.7 399.8L116.1 399.9L116.5 400.1L116.9 400.2L117.3 400.3L117.7 400.3L118.1 400.3L118.5 400.3L118.9 400.3L119.3 400.3L119.7 400.2L120.1 400.1L120.5 399.9L120.9 399.8L121.3 399.7L121.7 399.5L122.1 399.4L122.5 399.3L122.9 399.2L123.3 399.1L123.7 399.1L124.1 399.1L124.5 399.1L124.9 399.1L125.3 399.2L125.7 399.3L126.1 399.4L126.5 399.5L126.9 399.7L127.3 399.8L127.7 399.9L128.1 400.1L128.5 400.2L128.9 400.3L129.3 400.3L129.7 400.3L130.1 400.3L130.5 400.3L130.9 400.3L131.3 400.2L131.7 400.1L132.1 399.9L132.5 399.8L132.9 399.7L133.3 399.5L133.7 399.4L134.1 399.3L134.5 399.2L134.9 399.1L135.3 399.1L135.7 399.1L136.1 399.1L136.5 399.1L136.9 399.2L137.3 399.3L137.7 399.4L138.1 399.5L138.5 399.7L138.9 399.8L139.3 399.9L139.7 400.1L140.1 400.2L140.5 400.3L140.9 400.3L141.3 400.3L141.7 400.3L142.1 400.3L142.5 400.3L142.9 400.2L143.3 400.1L143.7 399.9L144.1 399.8L144.5 399.7L144.9 399.5L145.3 399.4L145.7 399.3L146.1 399.2L146.5 399.1L146.9 399.1L147.3 399.1L147.7 399.1L148.1 399.1L148.5 399.2L148.9 399.3L149.3 399.4L149.7 399.5L150.1 399.7L150.5 399.8L150.9 399.9L151.3 400.1L151.7 400.2L152.1 400.3L152.5 400.3L152.9 400.3L153.3 400.3L153.7 400.3L154.1 400.3L154.5 400.2L154.9 400.1L155.3 399.9L155.7 399.8L156.1 399.7L156.5 399.5L156.9 399.4L157.3 399.3L157.7 399.2L158.1 399.1L158.5 399.1L158.9 399.1L159.3 399.1L159.7 399.1L160.1 399.2L160.5 399.3L160.9 399.4L161.3 399.5L161.7 399.7L162.1 399.8L162.5 399.9L162.9 400.1L163.3 400.2L163.7 400.3L164.1 400.3L164.5 400.3L164.9 400.3L165.3 400.3L165.7 400.3L166.1 400.2L166.5 400.1L166.9 399.9L167.3 399.8L167.7 399.7L168.1 399.5L168.5 399.4L168.9 399.3L169.3 399.2L169.7 399.1L170.1 399.1L170.5 399.1L170.9 399.1L171.3 399.1L171.7 399.2L172.1 399.3L172.5 399.4L172.9 399.5L173.3 399.7L173.7 399.8L174.1 399.9L174.5 400.1L174.9 400.2L175.3 400.3L175.7 400.3L176.1 400.3L176.5 400.3L176.9 400.3L177.3 400.3L177.7 400.2L178.1 400.1L178.5 399.9L178.9 399.8L179.3 399.7L179.7 399.5L180.1 399.4L180.5 399.3L180.9 399.2L181.3 399.1L181.7 399.1L182.1 399.1L182.5 399.1L182.9 399.1L183.3 399.2L183.7 399.3L184.1 399.4L184.5 399.5L184.9 399.7L185.3 399.8L185.7 399.9L186.1 400.1L186.5 400.2L186.9 400.3L187.3 400.3L187.7 400.3L188.1 400.3L188.5 400.3L188.9 400.3L189.3 400.2L189.7 400.1L190.1 399.9L190.5 399.8L190.9 399.7L191.3 399.5L191.7 399.4L192.1 399.3L192.5 399.2L192.9 399.1L193.3 399.1L193.7 399.1L194.1 399.1L194.5 399.1L194.9 399.2L195.3 399.3L195.7 399.4L196.1 399.5L196.5 399.7L196.9 399.8L197.3 399.9L197.7 400.1L198.1 400.2L198.5 400.3L198.9 400.3L199.3 400.3L199.7 400.3L200.1 400.3L200.5 400.3L200.9 400.2L201.3 400.1L201.7 399.9L202.1 399.8L202.5 399.7L202.9 399.5L203.3 399.4L203.7 399.3L204.1 399.2L204.5 399.1L204.9 399.1L205.3 399.1L205.7 399.1L206.1 399.1L206.5 399.2L206.9 399.3L207.3 399.4L207.7 399.5L208.1 399.7L208.5 399.8L208.9 399.9L209.3 400.1L209.7 400.2L210.1 400.3L210.5 400.3L210.9 400.3L211.3 400.3L211.7 400.3L212.1 400.3L212.5 400.2L212.9 400.1L213.3 399.9L213.7 399.8L214.1 399.7L214.5 399.5L214.9 399.4L215.3 399.3L215.7 399.2L216.1 399.1L216.5 399.1L216.9 399.1L217.3 399.1L217.7 399.1L218.1 399.2L218.5 399.3L218.9 399.4L219.3 399.5L219.7 399.7L220.1 399.8L220.5 399.9L220.9 400.1L221.3 400.2L221.7 400.3L222.1 400.3L222.5 400.3L222.9 400.3L223.3 400.3L223.7 400.3L224.1 400.2L224.5 400.1L224.9 399.9L225.3 399.8L225.7 399.7L226.1 399.5L226.5 399.4L226.9 399.3L227.3 399.2L227.7 399.1L228.1 399.1L228.5 399.1L228.9 399.1L229.3 399.1L229.7 399.2L230.1 399.3L230.5 399.4L230.9 399.5L231.3 399.7L231.7 399.8L232.1 399.9L232.5 400.1L232.9 400.2L233.3 400.3L233.7 400.3L234.1 400.3L234.5 400.3L234.9 400.3L235.3 400.3L235.7 400.2L236.1 400.1L236.5 399.9L236.9 399.8L237.3 399.7L237.7 399.5L238.1 399.4L238.5 399.3L238.9 399.2L239.3 399.1L239.7 399.1L240.1 399.1L240.5 399.1L240.9 399.1L241.3 399.2L241.7 399.3L242.1 399.4L242.5 399.5L242.9 399.7L243.3 399.8L243.7 399.9L244.1 400.1L244.5 400.2L244.9 400.3L245.3 400.3L245.7 400.3L246.1 400.3L246.5 400.3L246.9 400.3L247.3 400.2L247.7 400.1L248.1 399.9L248.5 399.8L248.9 399.7L249.3 399.5L249.7 399.4L250.1 399.3L250.5 399.2L250.9 399.1L251.3 399.1L251.7 399.1L252.1 399.1L252.5 399.1L252.9 399.2L253.3 399.3L253.7 399.4L254.1 399.5L254.5 399.7L254.9 399.8L255.3 399.9L255.7 400.1L256.1 400.2L256.5 400.3L256.9 400.3L257.3 400.3L257.7 400.3L258.1 400.3L258.5 400.3L258.9 400.2L259.3 400.1L259.7 399.9L260.1 399.8L260.5 399.7L260.9 399.5L261.3 399.4L261.7 399.3L262.1 399.2L262.5 399.1L262.9 399.1L263.3 399.1L263.7 399.1L264.1 399.1L264.5 399.2L264.9 399.3L265.3 399.4L265.7 399.5L266.1 399.7L266.5 399.8L266.9 399.9L267.3 400.1L267.7 400.2L268.1 400.3L268.5 400.3L268.9 400.3L269.3 400.3"/>
<path class="dr" d="M40.5 400.5L40.9 400.4L41.3 400.3L41.7 400.2L42.1 400.1L42.5 399.9L42.9 399.7L43.3 399.6L43.7 399.4L44.1 399.3L44.5 399.1L44.9 399.0L45.3 399.0L45.7 398.9L46.1 398.9L46.5 398.9L46.9 399.0L47.3 399.1L47.7 399.2L48.1 399.3L48.5 399.5L48.9 399.6L49.3 399.8L49.7 399.9L50.1 400.1L50.5 400.2L50.9 400.3L51.3 400.4L51.7 400.5L52.1 400.5L52.5 400.5L52.9 400.4L53.3 400.4L53.7 400.3L54.1 400.1L54.5 400.0L54.9 399.8L55.3 399.7L55.7 399.5L56.1 399.3L56.5 399.2L56.9 399.1L57.3 399.0L57.7 398.9L58.1 398.9L58.5 398.9L58.9 398.9L59.3 399.0L59.7 399.1L60.1 399.2L60.5 399.4L60.9 399.5L61.3 399.7L61.7 399.9L62.1 400.0L62.5 400.2L62.9 400.3L63.3 400.4L63.7 400.5L64.1 400.5L64.5 400.5L64.9 400.5L65.3 400.4L65.7 400.3L66.1 400.2L66.5 400.1L66.9 399.9L67.3 399.7L67.7 399.6L68.1 399.4L68.5 399.3L68.9 399.1L69.3 399.0L69.7 399.0L70.1 398.9L70.5 398.9L70.9 398.9L71.3 399.0L71.7 399.1L72.1 399.2L72.5 399.3L72.9 399.5L73.3 399.6L73.7 399.8L74.1 399.9L74.5 399.9L74.9 400.0L75.3 400.1L75.7 400.1L76.1 400.2L76.5 400.2L76.9 400.2L77.3 400.1L77.7 400.1L78.1 400.0L78.5 400.0L78.9 399.9L79.3 399.8L79.7 399.7L80.1 399.6L80.5 399.5L80.9 399.4L81.3 399.3L81.7 399.3L82.1 399.2L82.5 399.2L82.9 399.2L83.3 399.2L83.7 399.3L84.1 399.3L84.5 399.4L84.9 399.5L85.3 399.6L85.7 399.7L86.1 399.8L86.5 399.9L86.9 400.0L87.3 400.1L87.7 400.1L88.1 400.2L88.5 400.2L88.9 400.2L89.3 400.2L89.7 400.1L90.1 400.1L90.5 400.0L90.9 399.9L91.3 399.8L91.7 399.7L92.1 399.6L92.5 399.5L92.9 399.4L93.3 399.4L93.7 399.3L94.1 399.3L94.5 399.2L94.9 399.2L95.3 399.2L95.7 399.3L96.1 399.3L96.5 399.4L96.9 399.5L97.3 399.6L97.7 399.7L98.1 399.7L98.5 399.8L98.9 399.9L99.3 400.0L99.7 400.1L100.1 400.1L100.5 400.2L100.9 400.2L101.3 400.2L101.7 400.1L102.1 400.1L102.5 400.0L102.9 400.0L103.3 399.9L103.7 399.8L104.1 399.7L104.5 399.6L104.9 399.5L105.3 399.4L105.7 399.3L106.1 399.3L106.5 399.2L106.9 399.2L107.3 399.2L107.7 399.2L108.1 399.3L108.5 399.3L108.9 399.4L109.3 399.5L109.7 399.6L110.1 399.7L110.5 399.8L110.9 399.9L111.3 400.0L111.7 400.1L112.1 400.1L112.5 400.2L112.9 400.2L113.3 400.2L113.7 400.2L114.1 400.1L114.5 400.1L114.9 400.0L115.3 399.9L115.7 399.8L116.1 399.7L116.5 399.6L116.9 399.5L117.3 399.4L117.7 399.4L118.1 399.3L118.5 399.3L118.9 399.2L119.3 399.2L119.7 399.2L120.1 399.3L120.5 399.3L120.9 399.4L121.3 399.5L121.7 399.6L122.1 399.7L122.5 399.7L122.9 399.8L123.3 399.9L123.7 400.0L124.1 400.1L124.5 400.1L124.9 400.2L125.3 400.2L125.7 400.2L126.1 400.1L126.5 400.1L126.9 400.0L127.3 400.0L127.7 399.9L128.1 399.8L128.5 399.7L128.9 399.6L129.3 399.5L129.7 399.4L130.1 399.3L130.5 399.3L130.9 399.2L131.3 399.2L131.7 399.2L132.1 399.2L132.5 399.3L132.9 399.3L133.3 399.4L133.7 399.5L134.1 399.6L134.5 399.7L134.9 399.8L135.3 399.9L135.7 400.0L136.1 400.1L136.5 400.1L136.9 400.2L137.3 400.2L137.7 400.2L138.1 400.2L138.5 400.1L138.9 400.1L139.3 400.0L139.7 399.9L140.1 399.8L140.5 399.7L140.9 399.6L141.3 399.5L141.7 399.4L142.1 399.4L142.5 399.3L142.9 399.3L143.3 399.2L143.7 399.2L144.1 399.2L144.5 399.3L144.9 399.3L145.3 399.4L145.7 399.5L146.1 399.6L146.5 399.7L146.9 399.7L147.3 399.8L147.7 399.9L148.1 400.0L148.5 400.1L148.9 400.1L149.3 400.2L149.7 400.2L150.1 400.2L150.5 400.1L150.9 400.1L151.3 400.0L151.7 400.0L152.1 399.9L152.5 399.8L152.9 399.7L153.3 399.6L153.7 399.5L154.1 399.4L154.5 399.3L154.9 399.3L155.3 399.2L155.7 399.2L156.1 399.2L156.5 399.2L156.9 399.3L157.3 399.3L157.7 399.4L158.1 399.5L158.5 399.6L158.9 399.7L159.3 399.8L159.7 399.9L160.1 400.0L160.5 400.1L160.9 400.1L161.3 400.2L161.7 400.2L162.1 400.2L162.5 400.2L162.9 400.1L163.3 400.1L163.7 400.0L164.1 399.9L164.5 399.8L164.9 399.7L165.3 399.6L165.7 399.5L166.1 399.4L166.5 399.4L166.9 399.3L167.3 399.3L167.7 399.2L168.1 399.2L168.5 399.2L168.9 399.3L169.3 399.3L169.7 399.4L170.1 399.5L170.5 399.6L170.9 399.7L171.3 399.7L171.7 399.8L172.1 399.9L172.5 400.0L172.9 400.1L173.3 400.1L173.7 400.2L174.1 400.2L174.5 400.2L174.9 400.1L175.3 400.1L175.7 400.0L176.1 400.0L176.5 399.9L176.9 399.8L177.3 399.7L177.7 399.6L178.1 399.5L178.5 399.4L178.9 399.3L179.3 399.3L179.7 399.2L180.1 399.2L180.5 399.2L180.9 399.2L181.3 399.3L181.7 399.3L182.1 399.4L182.5 399.5L182.9 399.6L183.3 399.7L183.7 399.8L184.1 399.9L184.5 400.0L184.9 400.1L185.3 400.1L185.7 400.2L186.1 400.2L186.5 400.2L186.9 400.2L187.3 400.1L187.7 400.1L188.1 400.0L188.5 399.9L188.9 399.8L189.3 399.7L189.7 399.6L190.1 399.5L190.5 399.4L190.9 399.4L191.3 399.3L191.7 399.3L192.1 399.2L192.5 399.2L192.9 399.2L193.3 399.3L193.7 399.3L194.1 399.4L194.5 399.5L194.9 399.6L195.3 399.7L195.7 399.7L196.1 399.8L196.5 399.9L196.9 400.0L197.3 400.1L197.7 400.1L198.1 400.2L198.5 400.2L198.9 400.2L199.3 400.1L199.7 400.1L200.1 400.0L200.5 400.0L200.9 399.9L201.3 399.8L201.7 399.7L202.1 399.6L202.5 399.5L202.9 399.4L203.3 399.3L203.7 399.3L204.1 399.2L204.5 399.2L204.9 399.2L205.3 399.2L205.7 399.3L206.1 399.3L206.5 399.4L206.9 399.5L207.3 399.6L207.7 399.7L208.1 399.8L208.5 399.9L208.9 400.0L209.3 400.1L209.7 400.1L210.1 400.2L210.5 400.2L210.9 400.2L211.3 400.2L211.7 400.1L212.1 400.1L212.5 400.0L212.9 399.9L213.3 399.8L213.7 399.7L214.1 399.6L214.5 399.5L214.9 399.4L215.3 399.4L215.7 399.3L216.1 399.3L216.5 399.2L216.9 399.2L217.3 399.2L217.7 399.3L218.1 399.3L218.5 399.4L218.9 399.5L219.3 399.6L219.7 399.7L220.1 399.7L220.5 399.8L220.9 399.9L221.3 400.0L221.7 400.1L222.1 400.1L222.5 400.2L222.9 400.2L223.3 400.2L223.7 400.1L224.1 400.1L224.5 400.0L224.9 400.0L225.3 399.9L225.7 399.8L226.1 399.7L226.5 399.6L226.9 399.5L227.3 399.4L227.7 399.3L228.1 399.3L228.5 399.2L228.9 399.2L229.3 399.2L229.7 399.2L230.1 399.3L230.5 399.3L230.9 399.4L231.3 399.5L231.7 399.6L232.1 399.7L232.5 399.8L232.9 399.9L233.3 400.0L233.7 400.1L234.1 400.1L234.5 400.2L234.9 400.2L235.3 400.2L235.7 400.2L236.1 400.1L236.5 400.1L236.9 400.0L237.3 399.9L237.7 399.8L238.1 399.7L238.5 399.6L238.9 399.5L239.3 399.4L239.7 399.4L240.1 399.3L240.5 399.3L240.9 399.2L241.3 399.2L241.7 399.2L242.1 399.3L242.5 399.3L242.9 399.4L243.3 399.5L243.7 399.6L244.1 399.7L244.5 399.7L244.9 399.8L245.3 399.9L245.7 400.0L246.1 400.1L246.5 400.1L246.9 400.2L247.3 400.2L247.7 400.2L248.1 400.1L248.5 400.1L248.9 400.0L249.3 400.0L249.7 399.9L250.1 399.8L250.5 399.7L250.9 399.6L251.3 399.5L251.7 399.4L252.1 399.3L252.5 399.3L252.9 399.2L253.3 399.2L253.7 399.2L254.1 399.2L254.5 399.3L254.9 399.3L255.3 399.4L255.7 399.5L256.1 399.6L256.5 399.7L256.9 399.8L257.3 399.9L257.7 400.0L258.1 400.1L258.5 400.1L258.9 400.2L259.3 400.2L259.7 400.2L260.1 400.2L260.5 400.1L260.9 400.1L261.3 400.0L261.7 399.9L262.1 399.8L262.5 399.7L262.9 399.6L263.3 399.5L263.7 399.4L264.1 399.4L264.5 399.3L264.9 399.3L265.3 399.2L265.7 399.2L266.1 399.2L266.5 399.3L266.9 399.3L267.3 399.4L267.7 399.5L268.1 399.6L268.5 399.7L268.9 399.7L269.3 399.8"/>
<rect x="217.0" y="334.3" width="51.5" height="44" class="lg"/>
<line x1="219.0" y1="341.0" x2="235.5" y2="341.0" stroke="#3545ff" stroke-width="1.1"/>
<line x1="219.0" y1="351.5" x2="235.5" y2="351.5" stroke="#ff3c3c" stroke-width="1.1"/>
<line x1="219.0" y1="362.0" x2="235.5" y2="362.0" stroke="#3ca03c" stroke-width="1.1"/>
<line x1="219.0" y1="372.5" x2="235.5" y2="372.5" stroke="#9a2030" stroke-width="1.1"/>
<line x1="40.5" y1="333.5" x2="274.0" y2="333.5" class="fr"/>
<line x1="274.0" y1="333.5" x2="274.0" y2="466.1" class="fr2"/>
<line x1="40.5" y1="466.1" x2="274.0" y2="466.1" class="ax"/>
<line x1="40.5" y1="333.5" x2="40.5" y2="466.1" class="ax"/>
<path d="M38.7 337.5L40.5 333.7L42.3 337.5Z" fill="#000"/>
<path d="M270.4 464.3L274.8 466.1L270.4 467.9Z" fill="#000"/>
<line x1="40.5" y1="466.1" x2="40.5" y2="468.6" class="tk"/>
<line x1="61.7" y1="466.1" x2="61.7" y2="467.6" class="tk"/>
<line x1="83.0" y1="466.1" x2="83.0" y2="468.6" class="tk"/>
<line x1="104.2" y1="466.1" x2="104.2" y2="467.6" class="tk"/>
<line x1="125.4" y1="466.1" x2="125.4" y2="468.6" class="tk"/>
<line x1="146.6" y1="466.1" x2="146.6" y2="467.6" class="tk"/>
<line x1="167.9" y1="466.1" x2="167.9" y2="468.6" class="tk"/>
<line x1="189.1" y1="466.1" x2="189.1" y2="467.6" class="tk"/>
<line x1="210.3" y1="466.1" x2="210.3" y2="468.6" class="tk"/>
<line x1="231.5" y1="466.1" x2="231.5" y2="467.6" class="tk"/>
<line x1="252.8" y1="466.1" x2="252.8" y2="468.6" class="tk"/>
<line x1="38.3" y1="456.3" x2="40.5" y2="456.3" class="tk"/>
<line x1="39.1" y1="442.1" x2="40.5" y2="442.1" class="tk"/>
<line x1="38.3" y1="428.0" x2="40.5" y2="428.0" class="tk"/>
<line x1="39.1" y1="413.8" x2="40.5" y2="413.8" class="tk"/>
<line x1="38.3" y1="399.7" x2="40.5" y2="399.7" class="tk"/>
<line x1="39.1" y1="385.6" x2="40.5" y2="385.6" class="tk"/>
<line x1="38.3" y1="371.4" x2="40.5" y2="371.4" class="tk"/>
<line x1="39.1" y1="357.2" x2="40.5" y2="357.2" class="tk"/>
<line x1="38.3" y1="343.1" x2="40.5" y2="343.1" class="tk"/>
<line x1="349.4" y1="333.5" x2="349.4" y2="466.1" class="gr"/>
<line x1="391.9" y1="333.5" x2="391.9" y2="466.1" class="gr"/>
<line x1="434.4" y1="333.5" x2="434.4" y2="466.1" class="gr"/>
<line x1="476.8" y1="333.5" x2="476.8" y2="466.1" class="gr"/>
<line x1="519.2" y1="333.5" x2="519.2" y2="466.1" class="gr"/>
<line x1="307.0" y1="346.7" x2="540.5" y2="346.7" class="gr"/>
<line x1="307.0" y1="373.2" x2="540.5" y2="373.2" class="gr"/>
<line x1="307.0" y1="426.2" x2="540.5" y2="426.2" class="gr"/>
<line x1="307.0" y1="452.7" x2="540.5" y2="452.7" class="gr"/>
<path class="bl" d="M307.0 399.7L307.3 397.5L307.5 395.9L307.8 397.5L308.1 400.4L308.5 400.8L308.8 399.3L309.0 397.5L309.3 396.5L309.6 398.0L309.8 400.4L310.1 402.4L310.4 400.9L310.8 398.1L311.1 399.6L311.5 404.6L311.8 402.6L312.0 394.8L312.3 388.4L312.6 399.4L313.0 418.6L313.4 393.6L313.7 368.9L313.9 372.2L314.2 360.3L314.5 376.5L314.8 363.5L315.2 395.9L315.5 419.9L315.8 446.7L316.1 424.4L316.3 412.1L316.6 390.8L316.8 368.9L317.2 363.5L317.5 360.3L317.9 374.3L318.3 365.7L318.6 390.9L318.8 408.9L319.1 399.6L319.5 389.4L319.8 401.9L320.1 419.7L320.4 407.5L320.7 401.3L321.0 417.4L321.3 444.0L321.7 417.5L322.0 387.3L322.3 392.8L322.5 401.1L322.8 406.7L323.1 407.4L323.4 414.3L323.6 411.4L323.9 419.7L324.2 413.3L324.4 404.4L324.7 398.1L325.0 393.8L325.3 383.0L325.7 358.1L326.1 341.9L326.5 372.2L326.8 400.8L327.1 421.8L327.4 401.2L327.7 385.1L328.0 380.9L328.2 367.6L328.5 362.4L328.8 376.6L329.0 383.0L329.4 398.0L329.7 417.5L330.0 423.3L330.3 430.5L330.6 434.7L331.0 459.6L331.2 431.2L331.5 428.3L331.8 420.9L332.0 422.9L332.2 420.8L332.5 431.2L332.8 432.1L333.0 437.0L333.2 429.0L333.5 419.8L333.8 405.3L334.0 401.3L334.4 390.8L334.7 376.5L334.9 377.8L335.2 371.1L335.4 376.8L335.7 367.8L335.9 376.4L336.2 365.7L336.4 373.5L336.7 371.1L337.1 379.7L337.5 387.3L337.8 387.6L338.0 383.0L338.2 383.8L338.5 379.7L338.8 387.6L339.0 395.5L339.2 407.8L339.5 421.3L339.8 425.7L340.0 433.7L340.2 425.4L340.5 424.8L340.8 415.9L341.0 414.5L341.2 408.1L341.5 406.7L341.8 407.3L342.0 410.4L342.3 410.4L342.6 417.6L342.8 418.7L343.1 420.8L343.4 414.6L343.6 409.7L343.9 399.1L344.2 392.3L344.5 386.4L344.7 379.6L345.0 374.3L345.3 377.2L345.6 370.5L345.8 368.8L346.1 365.9L346.4 366.8L346.7 373.7L346.9 377.0L347.2 387.1L347.5 387.3L347.8 389.4L348.0 385.3L348.2 386.6L348.5 379.7L348.8 382.9L349.0 383.4L349.3 391.2L349.6 397.9L349.8 406.2L350.1 418.2L350.4 422.6L350.6 429.7L350.9 429.4L351.2 424.6L351.4 422.2L351.7 412.2L352.0 408.3L352.2 400.4L352.5 401.3L352.8 399.3L353.1 405.0L353.4 408.3L353.7 411.0L354.0 410.8L354.3 404.0L354.6 395.4L354.8 383.5L355.1 380.4L355.4 377.1L355.7 386.2L356.0 393.2L356.3 398.1L356.6 400.7L356.8 413.8L357.1 423.2L357.3 428.3L357.6 415.7L357.9 392.1L358.2 380.8L358.5 382.9L358.8 386.5L359.0 394.6L359.3 395.9L359.6 399.6L359.9 405.9L360.2 409.6L360.5 413.2L360.8 410.4L361.0 408.2L361.2 402.4L361.5 397.6L361.8 395.4L362.0 393.8L362.3 393.6L362.5 393.0L362.8 393.7L363.1 390.0L363.3 387.8L363.6 381.2L363.9 381.2L364.1 375.6L364.4 377.6L364.7 381.5L364.9 388.3L365.2 397.1L365.5 398.1L365.8 400.9L366.1 403.5L366.3 406.5L366.6 414.7L366.9 415.7L367.1 422.3L367.4 419.8L367.7 428.3L368.0 423.0L368.2 421.8L368.5 414.6L368.7 411.2L369.0 406.7L369.3 406.5L369.6 410.3L369.9 410.3L370.2 415.4L370.5 409.4L370.7 406.7L371.0 400.4L371.2 394.8L371.5 393.8L371.8 395.9L372.0 393.8L372.2 391.7L372.5 385.1L372.8 381.2L373.0 374.8L373.2 375.3L373.5 374.3L373.8 379.4L374.0 383.0L374.2 390.5L374.5 390.5L374.8 389.8L375.1 385.6L375.4 383.0L375.7 388.2L375.9 390.6L376.2 397.4L376.5 402.2L376.7 405.4L377.0 412.1L377.3 410.1L377.5 416.8L377.8 417.0L378.0 422.5L378.3 421.7L378.5 426.8L378.8 425.4L379.0 431.2L379.3 432.6L379.6 428.1L379.9 425.1L380.1 417.8L380.4 412.7L380.7 408.1L381.0 406.7L381.2 407.0L381.5 404.1L381.8 400.1L382.0 398.1L382.3 395.7L382.5 393.4L382.8 392.8L383.0 389.9L383.3 388.0L383.5 383.4L383.8 381.0L384.0 378.2L384.3 377.1L384.6 381.3L384.9 383.2L385.1 387.7L385.4 390.9L385.7 394.3L386.0 398.1L386.2 397.8L386.5 397.7L386.8 397.7L387.0 393.8L387.2 396.5L387.5 396.7L387.8 399.8L388.0 404.0L388.2 409.2L388.5 415.2L388.8 419.0L389.0 423.3L389.2 424.6L389.5 427.2L389.8 425.7L390.0 426.2L390.2 422.9L390.5 419.1L390.8 411.8L391.0 408.3L391.2 403.7L391.5 406.7L391.8 403.4L392.0 402.4L392.2 400.1L392.5 398.1L392.8 399.0L393.0 395.5L393.2 392.5L393.5 387.3L393.8 383.1L394.0 377.1L394.2 374.1L394.5 366.9L394.8 367.0L395.0 365.2L395.2 368.5L395.5 373.8L395.8 384.1L396.0 390.6L396.2 395.8L396.5 395.9L396.8 394.5L397.0 391.4L397.2 390.2L397.5 389.4L397.8 391.3L398.0 394.6L398.3 399.6L398.5 408.3L398.8 416.2L399.0 425.3L399.3 431.2L399.5 435.9L399.8 435.9L400.1 430.2L400.4 428.0L400.6 420.2L400.9 416.7L401.2 412.5L401.5 411.0L401.8 409.9L402.0 408.0L402.3 403.3L402.5 398.3L402.8 393.4L403.0 386.1L403.3 382.1L403.5 374.1L403.8 372.2L404.0 367.0L404.3 367.1L404.6 372.8L404.9 378.3L405.2 386.2L405.5 387.3L405.8 387.0L406.0 383.4L406.2 382.0L406.5 380.8L406.8 383.4L407.0 384.4L407.3 389.8L407.5 394.4L407.8 400.3L408.1 408.9L408.3 415.6L408.6 424.1L408.9 429.3L409.1 435.9L409.4 436.8L409.6 442.6L409.9 444.0L410.2 438.5L410.4 437.6L410.7 428.3L411.0 424.3L411.2 417.4L411.5 417.5L411.8 414.1L412.0 412.1L412.2 407.0L412.5 406.7L412.8 404.7L413.0 401.2L413.3 395.8L413.6 387.3L413.8 380.4L414.1 371.5L414.4 366.1L414.6 361.2L414.9 359.7L415.2 364.4L415.4 372.4L415.7 382.4L416.0 385.1L416.2 384.8L416.5 380.8L416.8 379.6L417.0 376.5L417.3 379.7L417.5 379.6L417.8 383.7L418.0 388.4L418.3 394.7L418.5 400.7L418.8 406.9L419.0 413.8L419.3 419.2"/>
<path class="bl2" d="M419.3 419.2L419.5 424.6L419.8 428.2L420.0 430.8L420.3 431.6L420.6 430.1L420.9 426.7L421.1 421.7L421.4 417.0L421.7 413.3L422.0 412.1L422.3 411.0L422.5 408.4L422.8 403.7L423.0 398.6L423.3 392.9L423.6 386.5L423.8 381.4L424.1 376.7L424.3 374.1L424.6 372.9L424.9 375.3L425.1 380.1L425.4 385.5L425.7 387.3L426.0 386.3L426.2 384.0L426.5 383.0L426.8 384.0L427.0 385.7L427.3 389.4L427.5 393.2L427.8 398.5L428.1 403.5L428.3 408.4L428.6 413.7L428.8 417.7L429.1 421.3L429.3 423.1L429.6 424.0L429.9 422.6L430.2 420.3L430.4 416.7L430.7 414.2L431.0 413.2L431.2 413.1L431.5 414.3L431.8 414.6L432.0 415.4L432.3 414.3L432.5 412.3L432.8 408.4L433.1 404.0L433.3 399.1L433.6 393.2L433.8 388.2L434.1 383.2L434.4 379.7L434.6 377.3L434.9 376.5L435.2 378.7L435.4 383.5L435.7 388.6L436.0 390.5L436.3 390.1L436.5 388.1L436.8 387.3L437.1 388.8L437.4 391.6L437.6 396.4L437.9 401.9L438.2 407.1L438.4 412.2L438.7 414.9L439.0 416.4L439.2 415.6L439.5 414.6L439.8 412.4L440.0 410.8L440.2 409.1L440.5 408.9L440.8 409.0L441.0 410.0L441.2 410.6L441.5 411.0L441.8 410.2L442.0 409.4L442.2 407.1L442.5 404.8L442.8 401.6L443.0 398.6L443.2 395.8L443.5 392.4L443.8 390.1L444.0 387.9L444.2 387.0L444.5 386.2L444.8 387.2L445.0 388.6L445.2 391.2L445.5 393.5L445.8 395.5L446.0 395.9L446.3 395.6L446.5 394.3L446.8 393.8L447.1 394.5L447.3 395.8L447.6 398.4L447.8 400.9L448.1 403.7L448.3 406.7L448.6 408.8L448.8 410.5L449.1 411.0L449.4 410.7L449.6 410.3L449.9 409.0L450.1 408.1L450.4 406.4L450.6 404.8L450.9 402.6L451.1 400.8L451.4 398.9L451.7 396.5L451.9 394.8L452.2 392.4L452.4 390.9L452.7 389.1L452.9 388.3L453.2 386.9L453.4 386.7L453.7 386.2L454.0 387.0L454.2 388.0L454.5 390.3L454.7 392.1L455.0 394.2L455.2 395.4L455.5 395.9L455.8 395.6L456.0 394.3L456.3 393.8L456.6 394.4L456.8 395.5L457.1 397.7L457.3 400.1L457.6 402.6L457.9 405.8L458.1 408.2L458.4 410.4L458.6 411.4L458.9 412.1L459.2 411.5L459.4 411.0L459.7 409.3L459.9 407.8L460.2 405.3L460.5 403.0L460.7 399.9L461.0 397.3L461.3 394.7L461.5 391.6L461.8 389.4L462.1 386.8L462.3 385.1L462.6 383.6L462.8 383.0L463.1 382.4L463.4 382.9L463.6 383.8L463.9 385.6L464.1 387.6L464.4 390.6L464.7 393.3L464.9 396.8L465.2 400.0L465.5 403.1L465.7 406.7L466.0 409.4L466.2 412.4L466.5 414.2L466.8 416.2L467.0 416.9L467.3 417.5L467.6 417.0L467.8 416.6L468.1 415.2L468.3 413.9L468.6 411.7L468.9 409.7L469.1 406.9L469.4 404.5L469.6 401.3L469.9 398.6L470.2 395.9L470.4 392.8L470.7 390.3L470.9 387.5L471.2 385.7L471.5 383.3L471.7 382.1L472.0 380.6L472.2 380.3L472.5 379.7L472.8 380.4L473.0 380.8L473.3 382.4L473.5 384.0L473.8 386.6L474.0 388.9L474.3 392.3L474.5 395.0L474.8 398.7L475.0 401.7L475.3 404.9L475.5 408.2L475.8 411.0L476.0 413.8L476.3 415.8L476.5 417.9L476.8 419.1L477.0 420.1L477.3 420.3L477.6 419.9L477.8 419.3L478.1 418.0L478.3 416.4L478.6 414.0L478.9 411.8L479.1 408.7L479.4 406.1L479.6 402.6L479.9 399.8L480.2 396.7L480.4 393.4L480.7 390.8L480.9 387.7L481.2 385.5L481.5 383.1L481.7 381.6L482.0 380.2L482.2 379.8L482.5 379.2L482.8 379.8L483.0 380.2L483.3 381.5L483.5 383.0L483.8 385.4L484.1 387.4L484.3 390.3L484.6 392.9L484.8 396.2L485.1 399.1L485.4 401.7L485.6 405.2L485.9 407.7L486.1 410.7L486.4 412.9L486.7 415.1L486.9 416.5L487.2 418.0L487.4 418.4L487.7 418.9L488.0 418.5L488.2 418.0L488.5 416.8L488.7 415.5L489.0 413.4L489.2 411.4L489.5 408.6L489.7 406.3L490.0 403.4L490.2 400.5L490.5 397.9L490.7 394.6L491.0 392.0L491.2 389.1L491.5 386.8L491.7 384.5L492.0 382.8L492.2 381.1L492.5 380.4L492.7 379.4L493.0 379.2L493.3 379.7L493.5 380.3L493.8 381.8L494.0 383.5L494.3 386.2L494.5 388.5L494.8 391.9L495.1 394.7L495.3 398.5L495.6 401.5L495.8 404.7L496.1 408.0L496.4 410.8L496.6 413.7L496.9 415.9L497.1 417.8L497.4 418.9L497.6 420.0L497.9 420.3L498.2 419.8L498.4 419.1L498.7 417.4L498.9 415.5L499.2 412.7L499.5 410.0L499.7 406.4L500.0 403.3L500.2 399.4L500.5 396.2L500.8 392.9L501.0 389.5L501.3 386.7L501.6 384.0L501.8 382.3L502.1 380.4L502.3 379.8L502.6 379.2L502.9 379.8L503.1 380.2L503.4 381.5L503.6 383.0L503.9 385.1L504.2 387.4L504.4 390.4L504.7 392.9L504.9 396.2L505.2 399.1L505.5 402.0L505.7 405.2L506.0 407.7L506.2 410.7L506.5 412.8L506.8 415.1L507.0 416.4L507.3 418.0L507.5 418.5L507.8 418.9L508.1 418.3L508.3 418.0L508.6 416.8L508.8 415.4L509.1 413.2L509.3 411.4L509.6 408.7L509.8 406.3L510.1 403.3L510.4 400.7L510.6 398.1L510.9 395.0L511.1 392.8L511.4 389.9L511.6 388.0L511.9 385.9L512.1 384.6L512.4 383.3L512.6 382.9L512.9 382.4L513.2 382.8L513.4 383.3L513.7 384.4L513.9 385.7L514.2 387.6L514.5 389.5L514.7 391.9L515.0 394.3L515.2 397.1L515.5 399.6L515.8 402.1L516.0 405.0L516.3 407.3L516.5 409.8L516.8 411.5L517.1 413.6L517.3 414.8L517.6 416.0L517.8 416.4L518.1 416.9L518.4 416.5L518.6 416.1L518.9 414.9L519.1 413.7L519.4 411.9L519.6 410.1L519.9 407.7L520.1 405.5L520.4 402.8L520.6 400.3L520.9 398.1L521.2 395.2L521.4 393.1L521.7 390.6L521.9 388.8L522.2 387.0L522.4 385.9L522.7 384.6L522.9 384.4L523.2 383.8L523.5 384.1L523.7 384.4L524.0 385.6L524.2 386.2L524.5 387.8L524.7 389.0L525.0 391.0L525.2 392.6L525.5 395.0L525.7 396.7L526.0 399.0L526.2 400.8L526.5 402.5L526.7 404.6L527.0 406.0L527.2 407.9L527.5 408.7L527.7 410.2L528.0 410.7L528.2 411.4L528.5 411.6L528.8 410.9L529.0 410.4L529.2 408.8L529.5 407.9L529.8 406.7L530.0 406.7L530.2 406.8L530.5 407.8L530.8 408.3L531.0 408.9L531.2 408.3L531.5 406.9L531.8 404.5L532.0 401.8L532.2 398.8L532.5 395.4L532.8 392.9L533.0 390.3L533.2 389.1L533.5 388.4L533.8 389.0L534.0 390.0L534.3 392.0L534.6 394.0L534.9 396.6L535.1 398.0L535.4 399.7L535.7 399.7"/>
<path class="rd" d="M307.0 400.4L307.3 398.6L307.6 400.2L307.9 397.9L308.2 399.8L308.5 398.1L308.8 399.4L309.1 398.4L309.4 401.5L309.7 400.8L310.0 403.4L310.3 400.5L310.6 401.7L310.9 398.1L311.2 399.1L311.5 396.9L311.8 399.5L312.1 399.1L312.5 403.6L312.8 402.2L313.1 403.0L313.4 397.3L313.7 395.1L314.0 391.1L314.3 394.5L314.7 396.5L315.0 400.0L315.4 403.1L315.7 410.6L316.1 399.7L316.4 393.9L316.9 395.8L317.3 402.7L317.6 399.8L317.9 400.1L318.2 395.8L318.5 397.8L318.8 396.4L319.1 399.1L319.4 400.0L319.8 404.5L320.1 404.3L320.4 407.8L320.7 406.5L321.0 407.1L321.4 402.6L321.7 401.6L322.0 398.6L322.3 401.6L322.7 400.7L323.0 404.1L323.3 400.8L323.6 401.7L323.9 396.5L324.2 397.3L324.5 394.8L324.8 396.6L325.2 393.2L325.5 395.3L325.8 392.0L326.1 393.5L326.5 391.1L326.8 392.9L327.1 391.8L327.5 396.0L327.8 395.9L328.2 397.3L328.5 393.3L328.9 394.8L329.2 393.3L329.5 396.5L329.8 396.5L330.1 399.7L330.4 399.8L330.7 404.5L331.0 404.5L331.3 407.6L331.6 407.0L331.9 409.0L332.3 405.8L332.7 405.5L333.1 401.4L333.4 404.5L333.8 403.0L334.1 405.9L334.4 404.1L334.7 404.4L335.0 400.8L335.3 399.6L335.6 395.6L335.9 395.6L336.2 392.5L336.5 393.2L336.8 391.7L337.2 395.0L337.5 394.2L337.8 398.5L338.2 397.4L338.5 399.6L338.8 397.4L339.1 399.0L339.4 396.1L339.7 397.7L340.0 395.4L340.3 398.2L340.6 396.7L340.9 399.9L341.2 399.9L341.5 402.9L341.8 403.7L342.1 406.5L342.4 405.8L342.7 407.4L343.0 406.2L343.3 406.5L343.6 404.3L343.9 404.1L344.3 401.9L344.6 402.2L344.9 400.2L345.2 400.6L345.5 399.1L345.8 400.1L346.2 397.9L346.5 397.8L346.8 394.7L347.1 394.5L347.5 392.9L347.8 393.6L348.1 392.1L348.4 394.1L348.8 393.9L349.1 396.3L349.4 396.3L349.7 398.6L350.0 398.7L350.4 400.6L350.7 399.9L351.0 401.3L351.3 399.7L351.7 400.0L352.0 398.3L352.4 399.8L352.7 399.9L353.1 403.2L353.4 404.3L353.8 407.0L354.1 406.3L354.4 406.9L354.7 405.1L355.0 405.3L355.3 402.8L355.6 402.4L355.9 400.2L356.2 400.8L356.5 399.1L356.8 400.3L357.1 398.3L357.4 398.1L357.8 395.6L358.1 395.9L358.4 393.3L358.7 393.6L359.0 392.5L359.3 393.8L359.6 393.3L359.9 395.5L360.2 394.9L360.6 397.3L360.9 397.3L361.2 399.2L361.5 397.9L361.8 399.2L362.2 397.3L362.5 397.9L362.8 397.3L363.2 399.2L363.5 398.8L363.8 401.1L364.1 401.3L364.5 403.8L364.8 403.8L365.1 406.3L365.5 405.6L365.8 406.5L366.1 405.2L366.4 406.7L366.7 404.4L367.0 405.4L367.3 403.1L367.6 404.1L367.9 401.8L368.2 402.1L368.5 399.4L368.9 400.0L369.2 397.6L369.5 397.8L369.8 395.9L370.1 396.1L370.4 394.8L370.7 395.4L371.0 393.9L371.3 395.1L371.6 394.1L371.9 395.6L372.2 394.3L372.5 396.6L372.8 395.5L373.1 398.2L373.4 397.5L373.7 399.5L374.0 399.4L374.3 401.7L374.6 401.8L374.9 404.0L375.3 403.4L375.6 405.4L375.9 404.5L376.2 406.5L376.5 405.6L376.8 406.6L377.1 405.2L377.4 406.4L377.7 404.6L378.0 405.3L378.3 403.6L378.6 403.9L378.9 401.4L379.2 401.7L379.5 399.4L379.8 400.1L380.1 397.4L380.4 398.1L380.7 396.1L381.1 396.4L381.4 394.2L381.7 395.0L382.0 393.9L382.3 394.8L382.6 393.7L382.9 395.2L383.2 394.5L383.5 396.5L383.8 396.1L384.1 397.6L384.4 397.8L384.7 399.6L385.0 399.9L385.3 402.2L385.6 401.4L385.9 403.6L386.2 403.4L386.5 405.3L386.8 404.9L387.1 406.4L387.5 405.4L387.8 406.9L388.1 405.6L388.4 406.3L388.7 404.9L389.0 405.2L389.3 403.4L389.6 404.1L389.9 401.8L390.2 401.8L390.5 400.0L390.8 399.9L391.1 397.7L391.4 398.3L391.7 396.1L392.0 396.8L392.3 394.7L392.6 395.6L392.9 394.2L393.2 395.3L393.6 393.9L393.9 395.6L394.2 394.6L394.5 396.6L394.8 396.2L395.1 398.2L395.4 397.7L395.7 399.7L396.0 399.8L396.3 402.0L396.6 401.5L396.9 404.2L397.2 403.6L397.5 405.7L397.8 404.6L398.1 406.3L398.4 405.5L398.7 406.6L399.0 405.2L399.4 406.6L399.7 404.5L400.0 405.7L400.3 403.4L400.6 404.1L400.9 401.7L401.2 401.8L401.5 399.7L401.8 399.7L402.1 398.0L402.4 398.3L402.7 396.4L403.0 396.3L403.3 395.0L403.6 395.9L403.9 394.3L404.2 394.9L404.5 393.8L404.8 395.3L405.1 394.5L405.5 396.7L405.8 395.8L406.1 398.5L406.4 397.7L406.7 400.2L407.0 400.1L407.3 402.2L407.6 401.7L407.9 404.1L408.2 403.8L408.5 405.6L408.8 404.5L409.1 406.2L409.4 405.6L409.7 406.9L410.0 405.2L410.3 406.3L410.6 405.0L410.9 405.3L411.2 403.4L411.6 404.1L411.9 401.8L412.2 401.9L412.5 399.8L412.8 399.9L413.1 397.8L413.4 397.7L413.7 396.4L414.0 396.5L414.3 395.1L414.6 395.4L414.9 394.5L415.2 395.0L415.5 394.3L415.8 395.3L416.1 395.0L416.4 396.2L416.7 396.1L417.0 397.7L417.3 397.9L417.6 399.1L418.0 399.5L418.3 401.2L418.6 401.3L418.9 402.8L419.2 402.8L419.5 404.1L419.8 404.2L420.1 405.0L420.4 404.7L420.7 405.4L421.0 404.8L421.3 405.2L421.6 403.9L421.9 404.1L422.2 402.8L422.5 402.8L422.8 401.2L423.1 401.1L423.4 399.6L423.8 399.2L424.1 397.9L424.4 397.6L424.7 396.2L425.0 396.1L425.3 395.1L425.6 395.2L425.9 394.3L426.2 394.8L426.5 394.2L426.8 395.2L427.1 395.0L427.4 396.2L427.7 396.1L428.0 397.7L428.3 397.7L428.6 399.3L428.9 399.5L429.2 401.2L429.5 401.4L429.9 402.9L430.2 402.8L430.5 404.2L430.8 404.2L431.1 405.0L431.4 404.6L431.7 405.5L432.0 404.5L432.3 405.2L432.6 404.2L432.9 404.1L433.2 403.0L433.5 402.7L433.8 401.3L434.1 401.2L434.4 399.4L434.7 399.2L435.0 397.6L435.3 397.5L435.6 396.2L435.9 396.2L436.3 395.2L436.6 395.1L436.9 394.3L437.2 394.9L437.5 394.4L437.8 395.3L438.1 395.0L438.4 396.0L438.7 396.2L439.0 397.5L439.3 397.8L439.6 399.2L439.9 399.5L440.2 401.2L440.5 401.4L440.8 402.8L441.1 403.0L441.4 404.1L441.7 404.0L442.0 405.0L442.4 404.6L442.7 405.6L443.0 404.8L443.3 405.3L443.6 404.1L443.9 404.3L444.2 402.8L444.5 402.7L444.8 401.3L445.1 401.1L445.4 399.4L445.7 399.2L446.0 397.7L446.3 397.7L446.6 396.1L446.9 396.2L447.2 395.1L447.5 395.3L447.8 394.4L448.1 395.0L448.5 394.3L448.8 395.3L449.1 395.1L449.4 396.2L449.7 396.1L450.0 397.4L450.3 397.6L450.6 399.3L450.9 399.7L451.2 401.2L451.5 401.5L451.8 402.7L452.1 402.8L452.4 404.2L452.7 404.1L453.0 405.2L453.3 404.7L453.6 405.4L453.9 404.8L454.2 405.0L454.6 404.0L454.9 404.3L455.2 402.9L455.5 402.9L455.8 401.4L456.1 401.0L456.4 399.6L456.7 399.4L457.0 397.9L457.3 397.6L457.6 396.3L457.9 396.3L458.2 395.1L458.5 395.2L458.8 394.4L459.1 395.0L459.4 394.3L459.7 395.2L460.0 394.9L460.3 396.0L460.7 396.3L461.0 397.4L461.3 397.9L461.6 399.4L461.9 399.5L462.2 401.0L462.5 401.4L462.8 402.8L463.1 402.8L463.4 404.3L463.7 404.0L464.0 405.1L464.3 404.8L464.6 405.4L464.9 404.8L465.2 405.1L465.5 404.1L465.8 404.1L466.1 403.0L466.4 402.9L466.8 401.5L467.1 401.2L467.4 399.4L467.7 399.4L468.0 397.8L468.3 397.6L468.6 396.2L468.9 396.2L469.2 394.8L469.5 395.3L469.8 394.5L470.1 395.1L470.4 394.4L470.7 395.3L471.0 394.9L471.3 396.0L471.6 396.1L471.9 397.6L472.2 397.8L472.5 399.3L472.9 399.6L473.2 401.0L473.5 401.3L473.8 402.6L474.1 402.9L474.4 404.2L474.7 404.1L475.0 405.1L475.3 404.5L475.6 405.5L475.9 404.8L476.2 405.2L476.5 404.0L476.8 404.0L477.1 403.0L477.4 402.7L477.7 401.5L478.0 401.1L478.3 399.4L478.6 399.2L479.0 397.6L479.3 397.6L479.6 396.3L479.9 396.3L480.2 395.0L480.5 395.4L480.8 394.3L481.1 395.0L481.4 394.4L481.7 395.4L482.0 394.9L482.3 396.3L482.6 396.2L482.9 397.6L483.2 397.8L483.5 399.1L483.8 399.7L484.1 400.9L484.4 401.4L484.7 402.7L485.1 402.9L485.4 404.3L485.7 404.1L486.0 405.1L486.3 404.7L486.6 405.3L486.9 404.7L487.2 405.2L487.5 404.1L487.8 404.1L488.1 402.8L488.4 402.9L488.7 401.4L489.0 401.0L489.3 399.5L489.6 399.3L489.9 397.8L490.2 397.4L490.5 396.3L490.8 396.3L491.2 395.1L491.5 395.2L491.8 394.5L492.1 394.8L492.4 394.5L492.7 395.2L493.0 395.1L493.3 396.0L493.6 396.3L493.9 397.4L494.2 397.8L494.5 399.1L494.8 399.7L495.1 401.1L495.4 401.4L495.7 402.9L496.0 403.1L496.3 404.2L496.6 404.1L496.9 404.9L497.3 404.5L497.6 405.3L497.9 404.8L498.2 405.1L498.5 404.2L498.8 404.2L499.1 403.0L499.4 402.7L499.7 401.5L500.0 401.2L500.3 399.6L500.6 399.4L500.9 397.8L501.2 397.7L501.5 396.2L501.8 396.1L502.1 395.1L502.4 395.4L502.7 394.3L503.0 394.9L503.4 394.5L503.7 395.3L504.0 394.9L504.3 396.2L504.6 396.3L504.9 397.4L505.2 397.9L505.5 399.2L505.8 399.7L506.1 400.9L506.4 401.3L506.7 402.9L507.0 403.0L507.3 404.4L507.6 404.1L507.9 405.2L508.2 404.6L508.5 405.6L508.8 404.9L509.1 405.0L509.5 404.0L509.8 404.3L510.1 403.1L510.4 402.7L510.7 401.2L511.0 401.0L511.3 399.6L511.6 399.2L511.9 397.7L512.2 397.7L512.5 396.3L512.8 396.2L513.1 394.9L513.4 395.4L513.7 394.4L514.0 395.1L514.3 394.4L514.6 395.2L514.9 395.1L515.2 396.3L515.6 396.2L515.9 397.5L516.2 397.9L516.5 399.3L516.8 399.5L517.1 401.2L517.4 401.4L517.7 402.8L518.0 403.0L518.3 404.3L518.6 404.2L518.9 405.1L519.2 404.6L519.5 405.5L519.8 404.8L520.1 405.0L520.4 404.0L520.7 404.2L521.0 402.8L521.3 402.9L521.7 401.4L522.0 401.2L522.3 399.5L522.6 399.2L522.9 397.8L523.2 397.4L523.5 396.2L523.8 396.3L524.1 395.1L524.4 395.3L524.7 394.5L525.0 394.8L525.3 394.3L525.6 395.2L525.9 395.2L526.2 396.0L526.5 396.1L526.8 397.6L527.1 397.9L527.4 399.2L527.8 399.4L528.1 401.0L528.4 401.3L528.7 402.8L529.0 402.8L529.3 404.2L529.6 404.0L529.9 405.1L530.2 404.8L530.5 405.3L530.8 404.9L531.1 405.3L531.4 404.4L531.7 404.4L532.1 403.3L532.4 403.5L532.7 402.3L533.0 402.3L533.3 401.3L533.6 401.2L533.9 400.0L534.2 400.3L534.6 399.1L534.9 399.5L535.2 398.4L535.5 398.9L535.8 398.3"/>
<path class="gn" d="M307.0 399.4L307.4 399.2L307.8 399.1L308.2 398.9L308.6 398.8L309.0 398.8L309.4 398.7L309.8 398.8L310.2 398.8L310.6 398.9L311.0 399.1L311.4 399.2L311.8 399.4L312.2 399.6L312.6 399.9L313.0 400.1L313.4 400.2L313.8 400.4L314.2 400.5L314.6 400.6L315.0 400.7L315.4 400.7L315.8 400.6L316.2 400.5L316.6 400.4L317.0 400.2L317.4 400.1L317.8 399.9L318.2 399.6L318.6 399.4L319.0 399.2L319.4 399.1L319.8 398.9L320.2 398.8L320.6 398.8L321.0 398.7L321.4 398.8L321.8 398.8L322.2 398.9L322.6 399.1L323.0 399.2L323.4 399.4L323.8 399.6L324.2 399.9L324.6 400.1L325.0 400.2L325.4 400.4L325.8 400.5L326.2 400.6L326.6 400.7L327.0 400.7L327.4 400.6L327.8 400.5L328.2 400.4L328.6 400.2L329.0 400.1L329.4 399.9L329.8 399.6L330.2 399.4L330.6 399.2L331.0 399.1L331.4 398.9L331.8 398.8L332.2 398.8L332.6 398.7L333.0 398.8L333.4 398.8L333.8 398.9L334.2 399.1L334.6 399.2L335.0 399.4L335.4 399.6L335.8 399.9L336.2 400.1L336.6 400.2L337.0 400.4L337.4 400.5L337.8 400.6L338.2 400.7L338.6 400.7L339.0 400.6L339.4 400.5L339.8 400.4L340.2 400.2L340.6 400.1L341.0 399.8L341.4 399.7L341.8 399.5L342.2 399.4L342.6 399.3L343.0 399.2L343.4 399.1L343.8 399.1L344.2 399.1L344.6 399.1L345.0 399.1L345.4 399.2L345.8 399.3L346.2 399.4L346.6 399.5L347.0 399.7L347.4 399.8L347.8 399.9L348.2 400.1L348.6 400.2L349.0 400.3L349.4 400.3L349.8 400.3L350.2 400.3L350.6 400.3L351.0 400.3L351.4 400.2L351.8 400.1L352.2 399.9L352.6 399.8L353.0 399.7L353.4 399.5L353.8 399.4L354.2 399.3L354.6 399.2L355.0 399.1L355.4 399.1L355.8 399.1L356.2 399.1L356.6 399.1L357.0 399.2L357.4 399.3L357.8 399.4L358.2 399.5L358.6 399.7L359.0 399.8L359.4 399.9L359.8 400.1L360.2 400.2L360.6 400.3L361.0 400.3L361.4 400.3L361.8 400.3L362.2 400.3L362.6 400.3L363.0 400.2L363.4 400.1L363.8 399.9L364.2 399.8L364.6 399.7L365.0 399.5L365.4 399.4L365.8 399.3L366.2 399.2L366.6 399.1L367.0 399.1L367.4 399.1L367.8 399.1L368.2 399.1L368.6 399.2L369.0 399.3L369.4 399.4L369.8 399.5L370.2 399.7L370.6 399.8L371.0 399.9L371.4 400.1L371.8 400.2L372.2 400.3L372.6 400.3L373.0 400.3L373.4 400.3L373.8 400.3L374.2 400.3L374.6 400.2L375.0 400.1L375.4 399.9L375.8 399.8L376.2 399.7L376.6 399.5L377.0 399.4L377.4 399.3L377.8 399.2L378.2 399.1L378.6 399.1L379.0 399.1L379.4 399.1L379.8 399.1L380.2 399.2L380.6 399.3L381.0 399.4L381.4 399.5L381.8 399.7L382.2 399.8L382.6 399.9L383.0 400.1L383.4 400.2L383.8 400.3L384.2 400.3L384.6 400.3L385.0 400.3L385.4 400.3L385.8 400.3L386.2 400.2L386.6 400.1L387.0 399.9L387.4 399.8L387.8 399.7L388.2 399.5L388.6 399.4L389.0 399.3L389.4 399.2L389.8 399.1L390.2 399.1L390.6 399.1L391.0 399.1L391.4 399.1L391.8 399.2L392.2 399.3L392.6 399.4L393.0 399.5L393.4 399.7L393.8 399.8L394.2 399.9L394.6 400.1L395.0 400.2L395.4 400.3L395.8 400.3L396.2 400.3L396.6 400.3L397.0 400.3L397.4 400.3L397.8 400.2L398.2 400.1L398.6 399.9L399.0 399.8L399.4 399.7L399.8 399.5L400.2 399.4L400.6 399.3L401.0 399.2L401.4 399.1L401.8 399.1L402.2 399.1L402.6 399.1L403.0 399.1L403.4 399.2L403.8 399.3L404.2 399.4L404.6 399.5L405.0 399.7L405.4 399.8L405.8 399.9L406.2 400.1L406.6 400.2L407.0 400.3L407.4 400.3L407.8 400.3L408.2 400.3L408.6 400.3L409.0 400.3L409.4 400.2L409.8 400.1L410.2 399.9L410.6 399.8L411.0 399.7L411.4 399.5L411.8 399.4L412.2 399.3L412.6 399.2L413.0 399.1L413.4 399.1L413.8 399.1L414.2 399.1L414.6 399.1L415.0 399.2L415.4 399.3L415.8 399.4L416.2 399.5L416.6 399.7L417.0 399.8L417.4 399.9L417.8 400.1L418.2 400.2L418.6 400.3L419.0 400.3L419.4 400.3L419.8 400.3L420.2 400.3L420.6 400.3L421.0 400.2L421.4 400.1L421.8 399.9L422.2 399.8L422.6 399.7L423.0 399.5L423.4 399.4L423.8 399.3L424.2 399.2L424.6 399.1L425.0 399.1L425.4 399.1L425.8 399.1L426.2 399.1L426.6 399.2L427.0 399.3L427.4 399.4L427.8 399.5L428.2 399.7L428.6 399.8L429.0 399.9L429.4 400.1L429.8 400.2L430.2 400.3L430.6 400.3L431.0 400.3L431.4 400.3L431.8 400.3L432.2 400.3L432.6 400.2L433.0 400.1L433.4 399.9L433.8 399.8L434.2 399.7L434.6 399.5L435.0 399.4L435.4 399.3L435.8 399.2L436.2 399.1L436.6 399.1L437.0 399.1L437.4 399.1L437.8 399.1L438.2 399.2L438.6 399.3L439.0 399.4L439.4 399.5L439.8 399.7L440.2 399.8L440.6 399.9L441.0 400.1L441.4 400.2L441.8 400.3L442.2 400.3L442.6 400.3L443.0 400.3L443.4 400.3L443.8 400.3L444.2 400.2L444.6 400.1L445.0 399.9L445.4 399.8L445.8 399.7L446.2 399.5L446.6 399.4L447.0 399.3L447.4 399.2L447.8 399.1L448.2 399.1L448.6 399.1L449.0 399.1L449.4 399.1L449.8 399.2L450.2 399.3L450.6 399.4L451.0 399.5L451.4 399.7L451.8 399.8L452.2 399.9L452.6 400.1L453.0 400.2L453.4 400.3L453.8 400.3L454.2 400.3L454.6 400.3L455.0 400.3L455.4 400.3L455.8 400.2L456.2 400.1L456.6 399.9L457.0 399.8L457.4 399.7L457.8 399.5L458.2 399.4L458.6 399.3L459.0 399.2L459.4 399.1L459.8 399.1L460.2 399.1L460.6 399.1L461.0 399.1L461.4 399.2L461.8 399.3L462.2 399.4L462.6 399.5L463.0 399.7L463.4 399.8L463.8 399.9L464.2 400.1L464.6 400.2L465.0 400.3L465.4 400.3L465.8 400.3L466.2 400.3L466.6 400.3L467.0 400.3L467.4 400.2L467.8 400.1L468.2 399.9L468.6 399.8L469.0 399.7L469.4 399.5L469.8 399.4L470.2 399.3L470.6 399.2L471.0 399.1L471.4 399.1L471.8 399.1L472.2 399.1L472.6 399.1L473.0 399.2L473.4 399.3L473.8 399.4L474.2 399.5L474.6 399.7L475.0 399.8L475.4 399.9L475.8 400.1L476.2 400.2L476.6 400.3L477.0 400.3L477.4 400.3L477.8 400.3L478.2 400.3L478.6 400.3L479.0 400.2L479.4 400.1L479.8 399.9L480.2 399.8L480.6 399.7L481.0 399.5L481.4 399.4L481.8 399.3L482.2 399.2L482.6 399.1L483.0 399.1L483.4 399.1L483.8 399.1L484.2 399.1L484.6 399.2L485.0 399.3L485.4 399.4L485.8 399.5L486.2 399.7L486.6 399.8L487.0 399.9L487.4 400.1L487.8 400.2L488.2 400.3L488.6 400.3L489.0 400.3L489.4 400.3L489.8 400.3L490.2 400.3L490.6 400.2L491.0 400.1L491.4 399.9L491.8 399.8L492.2 399.7L492.6 399.5L493.0 399.4L493.4 399.3L493.8 399.2L494.2 399.1L494.6 399.1L495.0 399.1L495.4 399.1L495.8 399.1L496.2 399.2L496.6 399.3L497.0 399.4L497.4 399.5L497.8 399.7L498.2 399.8L498.6 399.9L499.0 400.1L499.4 400.2L499.8 400.3L500.2 400.3L500.6 400.3L501.0 400.3L501.4 400.3L501.8 400.3L502.2 400.2L502.6 400.1L503.0 399.9L503.4 399.8L503.8 399.7L504.2 399.5L504.6 399.4L505.0 399.3L505.4 399.2L505.8 399.1L506.2 399.1L506.6 399.1L507.0 399.1L507.4 399.1L507.8 399.2L508.2 399.3L508.6 399.4L509.0 399.5L509.4 399.7L509.8 399.8L510.2 399.9L510.6 400.1L511.0 400.2L511.4 400.3L511.8 400.3L512.2 400.3L512.6 400.3L513.0 400.3L513.4 400.3L513.8 400.2L514.2 400.1L514.6 399.9L515.0 399.8L515.4 399.7L515.8 399.5L516.2 399.4L516.6 399.3L517.0 399.2L517.4 399.1L517.8 399.1L518.2 399.1L518.6 399.1L519.0 399.1L519.4 399.2L519.8 399.3L520.2 399.4L520.6 399.5L521.0 399.7L521.4 399.8L521.8 399.9L522.2 400.1L522.6 400.2L523.0 400.3L523.4 400.3L523.8 400.3L524.2 400.3L524.6 400.3L525.0 400.3L525.4 400.2L525.8 400.1L526.2 399.9L526.6 399.8L527.0 399.7L527.4 399.5L527.8 399.4L528.2 399.3L528.6 399.2L529.0 399.1L529.4 399.1L529.8 399.1L530.2 399.1L530.6 399.1L531.0 399.2L531.4 399.3L531.8 399.4L532.2 399.5L532.6 399.7L533.0 399.8L533.4 399.9L533.8 400.1L534.2 400.2L534.6 400.3L535.0 400.3L535.4 400.3L535.8 400.3"/>
<path class="dr" d="M307.0 400.5L307.4 400.4L307.8 400.3L308.2 400.2L308.6 400.1L309.0 399.9L309.4 399.7L309.8 399.6L310.2 399.4L310.6 399.3L311.0 399.1L311.4 399.0L311.8 398.9L312.2 398.9L312.6 398.9L313.0 398.9L313.4 399.0L313.8 399.1L314.2 399.2L314.6 399.3L315.0 399.5L315.4 399.6L315.8 399.8L316.2 399.9L316.6 400.1L317.0 400.2L317.4 400.3L317.8 400.4L318.2 400.5L318.6 400.5L319.0 400.5L319.4 400.5L319.8 400.4L320.2 400.3L320.6 400.1L321.0 400.0L321.4 399.8L321.8 399.7L322.2 399.5L322.6 399.3L323.0 399.2L323.4 399.1L323.8 399.0L324.2 398.9L324.6 398.9L325.0 398.9L325.4 398.9L325.8 399.0L326.2 399.1L326.6 399.2L327.0 399.4L327.4 399.5L327.8 399.7L328.2 399.9L328.6 400.0L329.0 400.2L329.4 400.3L329.8 400.4L330.2 400.5L330.6 400.5L331.0 400.5L331.4 400.5L331.8 400.4L332.2 400.3L332.6 400.2L333.0 400.1L333.4 399.9L333.8 399.7L334.2 399.6L334.6 399.4L335.0 399.3L335.4 399.1L335.8 399.0L336.2 398.9L336.6 398.9L337.0 398.9L337.4 398.9L337.8 399.0L338.2 399.1L338.6 399.2L339.0 399.3L339.4 399.5L339.8 399.6L340.2 399.8L340.6 399.9L341.0 399.9L341.4 400.0L341.8 400.1L342.2 400.1L342.6 400.2L343.0 400.2L343.4 400.2L343.8 400.2L344.2 400.1L344.6 400.0L345.0 400.0L345.4 399.9L345.8 399.8L346.2 399.7L346.6 399.6L347.0 399.5L347.4 399.4L347.8 399.3L348.2 399.3L348.6 399.2L349.0 399.2L349.4 399.2L349.8 399.2L350.2 399.3L350.6 399.3L351.0 399.4L351.4 399.5L351.8 399.6L352.2 399.7L352.6 399.8L353.0 399.9L353.4 400.0L353.8 400.1L354.2 400.1L354.6 400.2L355.0 400.2L355.4 400.2L355.8 400.2L356.2 400.1L356.6 400.1L357.0 400.0L357.4 399.9L357.8 399.8L358.2 399.7L358.6 399.6L359.0 399.5L359.4 399.4L359.8 399.4L360.2 399.3L360.6 399.2L361.0 399.2L361.4 399.2L361.8 399.2L362.2 399.3L362.6 399.3L363.0 399.4L363.4 399.5L363.8 399.6L364.2 399.7L364.6 399.7L365.0 399.8L365.4 399.9L365.8 400.0L366.2 400.1L366.6 400.1L367.0 400.2L367.4 400.2L367.8 400.2L368.2 400.2L368.6 400.1L369.0 400.0L369.4 400.0L369.8 399.9L370.2 399.8L370.6 399.7L371.0 399.6L371.4 399.5L371.8 399.4L372.2 399.3L372.6 399.3L373.0 399.2L373.4 399.2L373.8 399.2L374.2 399.2L374.6 399.3L375.0 399.3L375.4 399.4L375.8 399.5L376.2 399.6L376.6 399.7L377.0 399.8L377.4 399.9L377.8 400.0L378.2 400.1L378.6 400.1L379.0 400.2L379.4 400.2L379.8 400.2L380.2 400.2L380.6 400.1L381.0 400.1L381.4 400.0L381.8 399.9L382.2 399.8L382.6 399.7L383.0 399.6L383.4 399.5L383.8 399.4L384.2 399.4L384.6 399.3L385.0 399.2L385.4 399.2L385.8 399.2L386.2 399.2L386.6 399.3L387.0 399.3L387.4 399.4L387.8 399.5L388.2 399.6L388.6 399.7L389.0 399.7L389.4 399.8L389.8 399.9L390.2 400.0L390.6 400.1L391.0 400.1L391.4 400.2L391.8 400.2L392.2 400.2L392.6 400.2L393.0 400.1L393.4 400.0L393.8 400.0L394.2 399.9L394.6 399.8L395.0 399.7L395.4 399.6L395.8 399.5L396.2 399.4L396.6 399.3L397.0 399.3L397.4 399.2L397.8 399.2L398.2 399.2L398.6 399.2L399.0 399.3L399.4 399.3L399.8 399.4L400.2 399.5L400.6 399.6L401.0 399.7L401.4 399.8L401.8 399.9L402.2 400.0L402.6 400.1L403.0 400.1L403.4 400.2L403.8 400.2L404.2 400.2L404.6 400.2L405.0 400.1L405.4 400.1L405.8 400.0L406.2 399.9L406.6 399.8L407.0 399.7L407.4 399.6L407.8 399.5L408.2 399.4L408.6 399.4L409.0 399.3L409.4 399.2L409.8 399.2L410.2 399.2L410.6 399.2L411.0 399.3L411.4 399.3L411.8 399.4L412.2 399.5L412.6 399.6L413.0 399.7L413.4 399.7L413.8 399.8L414.2 399.9L414.6 400.0L415.0 400.1L415.4 400.1L415.8 400.2L416.2 400.2L416.6 400.2L417.0 400.2L417.4 400.1L417.8 400.0L418.2 400.0L418.6 399.9L419.0 399.8L419.4 399.7L419.8 399.6L420.2 399.5L420.6 399.4L421.0 399.3L421.4 399.3L421.8 399.2L422.2 399.2L422.6 399.2L423.0 399.2L423.4 399.3L423.8 399.3L424.2 399.4L424.6 399.5L425.0 399.6L425.4 399.7L425.8 399.8L426.2 399.9L426.6 400.0L427.0 400.1L427.4 400.1L427.8 400.2L428.2 400.2L428.6 400.2L429.0 400.2L429.4 400.1L429.8 400.1L430.2 400.0L430.6 399.9L431.0 399.8L431.4 399.7L431.8 399.6L432.2 399.5L432.6 399.4L433.0 399.4L433.4 399.3L433.8 399.2L434.2 399.2L434.6 399.2L435.0 399.2L435.4 399.3L435.8 399.3L436.2 399.4L436.6 399.5L437.0 399.6L437.4 399.7L437.8 399.7L438.2 399.8L438.6 399.9L439.0 400.0L439.4 400.1L439.8 400.1L440.2 400.2L440.6 400.2L441.0 400.2L441.4 400.2L441.8 400.1L442.2 400.0L442.6 400.0L443.0 399.9L443.4 399.8L443.8 399.7L444.2 399.6L444.6 399.5L445.0 399.4L445.4 399.3L445.8 399.3L446.2 399.2L446.6 399.2L447.0 399.2L447.4 399.2L447.8 399.3L448.2 399.3L448.6 399.4L449.0 399.5L449.4 399.6L449.8 399.7L450.2 399.8L450.6 399.9L451.0 400.0L451.4 400.1L451.8 400.1L452.2 400.2L452.6 400.2L453.0 400.2L453.4 400.2L453.8 400.1L454.2 400.1L454.6 400.0L455.0 399.9L455.4 399.8L455.8 399.7L456.2 399.6L456.6 399.5L457.0 399.4L457.4 399.4L457.8 399.3L458.2 399.2L458.6 399.2L459.0 399.2L459.4 399.2L459.8 399.3L460.2 399.3L460.6 399.4L461.0 399.5L461.4 399.6L461.8 399.7L462.2 399.7L462.6 399.8L463.0 399.9L463.4 400.0L463.8 400.1L464.2 400.1L464.6 400.2L465.0 400.2L465.4 400.2L465.8 400.2L466.2 400.1L466.6 400.0L467.0 400.0L467.4 399.9L467.8 399.8L468.2 399.7L468.6 399.6L469.0 399.5L469.4 399.4L469.8 399.3L470.2 399.3L470.6 399.2L471.0 399.2L471.4 399.2L471.8 399.2L472.2 399.3L472.6 399.3L473.0 399.4L473.4 399.5L473.8 399.6L474.2 399.7L474.6 399.8L475.0 399.9L475.4 400.0L475.8 400.1L476.2 400.1L476.6 400.2L477.0 400.2L477.4 400.2L477.8 400.2L478.2 400.1L478.6 400.1L479.0 400.0L479.4 399.9L479.8 399.8L480.2 399.7L480.6 399.6L481.0 399.5L481.4 399.4L481.8 399.4L482.2 399.3L482.6 399.2L483.0 399.2L483.4 399.2L483.8 399.2L484.2 399.3L484.6 399.3L485.0 399.4L485.4 399.5L485.8 399.6L486.2 399.7L486.6 399.7L487.0 399.8L487.4 399.9L487.8 400.0L488.2 400.1L488.6 400.1L489.0 400.2L489.4 400.2L489.8 400.2L490.2 400.2L490.6 400.1L491.0 400.0L491.4 400.0L491.8 399.9L492.2 399.8L492.6 399.7L493.0 399.6L493.4 399.5L493.8 399.4L494.2 399.3L494.6 399.3L495.0 399.2L495.4 399.2L495.8 399.2L496.2 399.2L496.6 399.3L497.0 399.3L497.4 399.4L497.8 399.5L498.2 399.6L498.6 399.7L499.0 399.8L499.4 399.9L499.8 400.0L500.2 400.1L500.6 400.1L501.0 400.2L501.4 400.2L501.8 400.2L502.2 400.2L502.6 400.1L503.0 400.1L503.4 400.0L503.8 399.9L504.2 399.8L504.6 399.7L505.0 399.6L505.4 399.5L505.8 399.4L506.2 399.4L506.6 399.3L507.0 399.2L507.4 399.2L507.8 399.2L508.2 399.2L508.6 399.3L509.0 399.3L509.4 399.4L509.8 399.5L510.2 399.6L510.6 399.7L511.0 399.7L511.4 399.8L511.8 399.9L512.2 400.0L512.6 400.1L513.0 400.1L513.4 400.2L513.8 400.2L514.2 400.2L514.6 400.2L515.0 400.1L515.4 400.0L515.8 400.0L516.2 399.9L516.6 399.8L517.0 399.7L517.4 399.6L517.8 399.5L518.2 399.4L518.6 399.3L519.0 399.3L519.4 399.2L519.8 399.2L520.2 399.2L520.6 399.2L521.0 399.3L521.4 399.3L521.8 399.4L522.2 399.5L522.6 399.6L523.0 399.7L523.4 399.8L523.8 399.9L524.2 400.0L524.6 400.1L525.0 400.1L525.4 400.2L525.8 400.2L526.2 400.2L526.6 400.2L527.0 400.1L527.4 400.1L527.8 400.0L528.2 399.9L528.6 399.8L529.0 399.7L529.4 399.6L529.8 399.5L530.2 399.4L530.6 399.4L531.0 399.3L531.4 399.2L531.8 399.2L532.2 399.2L532.6 399.2L533.0 399.3L533.4 399.3L533.8 399.4L534.2 399.5L534.6 399.6L535.0 399.7L535.4 399.7L535.8 399.8"/>
<rect x="480.8" y="334.3" width="51.5" height="44" class="lg"/>
<line x1="482.8" y1="341.0" x2="499.3" y2="341.0" stroke="#3545ff" stroke-width="1.1"/>
<line x1="482.8" y1="351.5" x2="499.3" y2="351.5" stroke="#ff3c3c" stroke-width="1.1"/>
<line x1="482.8" y1="362.0" x2="499.3" y2="362.0" stroke="#3ca03c" stroke-width="1.1"/>
<line x1="482.8" y1="372.5" x2="499.3" y2="372.5" stroke="#9a2030" stroke-width="1.1"/>
<line x1="307.0" y1="333.5" x2="540.5" y2="333.5" class="fr"/>
<line x1="540.5" y1="333.5" x2="540.5" y2="466.1" class="fr2"/>
<line x1="307.0" y1="466.1" x2="540.5" y2="466.1" class="ax"/>
<line x1="307.0" y1="333.5" x2="307.0" y2="466.1" class="ax"/>
<path d="M305.2 337.5L307.0 333.7L308.8 337.5Z" fill="#000"/>
<path d="M536.9 464.3L541.3 466.1L536.9 467.9Z" fill="#000"/>
<line x1="307.0" y1="466.1" x2="307.0" y2="468.6" class="tk"/>
<line x1="328.2" y1="466.1" x2="328.2" y2="467.6" class="tk"/>
<line x1="349.4" y1="466.1" x2="349.4" y2="468.6" class="tk"/>
<line x1="370.7" y1="466.1" x2="370.7" y2="467.6" class="tk"/>
<line x1="391.9" y1="466.1" x2="391.9" y2="468.6" class="tk"/>
<line x1="413.1" y1="466.1" x2="413.1" y2="467.6" class="tk"/>
<line x1="434.4" y1="466.1" x2="434.4" y2="468.6" class="tk"/>
<line x1="455.6" y1="466.1" x2="455.6" y2="467.6" class="tk"/>
<line x1="476.8" y1="466.1" x2="476.8" y2="468.6" class="tk"/>
<line x1="498.0" y1="466.1" x2="498.0" y2="467.6" class="tk"/>
<line x1="519.2" y1="466.1" x2="519.2" y2="468.6" class="tk"/>
<line x1="304.8" y1="452.7" x2="307.0" y2="452.7" class="tk"/>
<line x1="305.6" y1="439.4" x2="307.0" y2="439.4" class="tk"/>
<line x1="304.8" y1="426.2" x2="307.0" y2="426.2" class="tk"/>
<line x1="305.6" y1="412.9" x2="307.0" y2="412.9" class="tk"/>
<line x1="304.8" y1="399.7" x2="307.0" y2="399.7" class="tk"/>
<line x1="305.6" y1="386.4" x2="307.0" y2="386.4" class="tk"/>
<line x1="304.8" y1="373.2" x2="307.0" y2="373.2" class="tk"/>
<line x1="305.6" y1="359.9" x2="307.0" y2="359.9" class="tk"/>
<line x1="304.8" y1="346.7" x2="307.0" y2="346.7" class="tk"/>
</g>
<text x="237.5" y="17.5" class="lt">L<tspan class="sb" dy="1.6">f</tspan><tspan dy="-1.6"> = 0.2L</tspan><tspan class="sb" dy="1.6">p</tspan></text>
<text x="237.5" y="28.0" class="lt">L<tspan class="sb" dy="1.6">f</tspan><tspan dy="-1.6"> = 0.4L</tspan><tspan class="sb" dy="1.6">p</tspan></text>
<text x="237.5" y="38.5" class="lt">L<tspan class="sb" dy="1.6">f</tspan><tspan dy="-1.6"> = 0.6L</tspan><tspan class="sb" dy="1.6">p</tspan></text>
<text x="237.5" y="49.0" class="lt">L<tspan class="sb" dy="1.6">f</tspan><tspan dy="-1.6"> = 0.8L</tspan><tspan class="sb" dy="1.6">p</tspan></text>
<text x="40.5" y="148.8" class="tl" text-anchor="middle">0</text>
<text x="83.0" y="148.8" class="tl" text-anchor="middle">10</text>
<text x="125.4" y="148.8" class="tl" text-anchor="middle">20</text>
<text x="167.9" y="148.8" class="tl" text-anchor="middle">30</text>
<text x="210.3" y="148.8" class="tl" text-anchor="middle">40</text>
<text x="252.8" y="148.8" class="tl" text-anchor="middle">50</text>
<text x="37.1" y="76.7" class="yt" text-anchor="end">0</text>
<text x="36.6" y="23.6" class="yt" text-anchor="end">8x10<tspan class="sp" dx="-0.5" dy="-2.8">-12</tspan></text>
<text x="36.6" y="50.1" class="yt" text-anchor="end">4x10<tspan class="sp" dx="-0.5" dy="-2.8">-12</tspan></text>
<text x="36.6" y="103.1" class="yt" text-anchor="end">-4x10<tspan class="sp" dx="-0.5" dy="-2.8">-12</tspan></text>
<text x="36.6" y="129.6" class="yt" text-anchor="end">-8x10<tspan class="sp" dx="-0.5" dy="-2.8">-12</tspan></text>
<text x="160.7" y="158.2" class="cap" text-anchor="middle">(a)</text>
<text transform="translate(10.9 71.1) rotate(-90)" class="yl" text-anchor="middle">Acceleration (g)</text>
<text x="501.3" y="17.5" class="lt">L<tspan class="sb" dy="1.6">f</tspan><tspan dy="-1.6"> = 0.2L</tspan><tspan class="sb" dy="1.6">p</tspan></text>
<text x="501.3" y="28.0" class="lt">L<tspan class="sb" dy="1.6">f</tspan><tspan dy="-1.6"> = 0.4L</tspan><tspan class="sb" dy="1.6">p</tspan></text>
<text x="501.3" y="38.5" class="lt">L<tspan class="sb" dy="1.6">f</tspan><tspan dy="-1.6"> = 0.6L</tspan><tspan class="sb" dy="1.6">p</tspan></text>
<text x="501.3" y="49.0" class="lt">L<tspan class="sb" dy="1.6">f</tspan><tspan dy="-1.6"> = 0.8L</tspan><tspan class="sb" dy="1.6">p</tspan></text>
<text x="307.0" y="148.8" class="tl" text-anchor="middle">0</text>
<text x="349.4" y="148.8" class="tl" text-anchor="middle">10</text>
<text x="391.9" y="148.8" class="tl" text-anchor="middle">20</text>
<text x="434.4" y="148.8" class="tl" text-anchor="middle">30</text>
<text x="476.8" y="148.8" class="tl" text-anchor="middle">40</text>
<text x="519.2" y="148.8" class="tl" text-anchor="middle">50</text>
<text x="303.6" y="76.7" class="yt" text-anchor="end">0</text>
<text x="303.1" y="20.2" class="yt" text-anchor="end">3x10<tspan class="sp" dx="-0.5" dy="-2.8">-11</tspan></text>
<text x="303.1" y="48.4" class="yt" text-anchor="end">2x10<tspan class="sp" dx="-0.5" dy="-2.8">-11</tspan></text>
<text x="303.1" y="104.8" class="yt" text-anchor="end">-2x10<tspan class="sp" dx="-0.5" dy="-2.8">-11</tspan></text>
<text x="303.1" y="133.0" class="yt" text-anchor="end">-3x10<tspan class="sp" dx="-0.5" dy="-2.8">-11</tspan></text>
<text x="427.2" y="158.2" class="cap" text-anchor="middle">(b)</text>
<text x="237.5" y="180.5" class="lt">L<tspan class="sb" dy="1.6">f</tspan><tspan dy="-1.6"> = 0.2L</tspan><tspan class="sb" dy="1.6">p</tspan></text>
<text x="237.5" y="191.0" class="lt">L<tspan class="sb" dy="1.6">f</tspan><tspan dy="-1.6"> = 0.4L</tspan><tspan class="sb" dy="1.6">p</tspan></text>
<text x="237.5" y="201.5" class="lt">L<tspan class="sb" dy="1.6">f</tspan><tspan dy="-1.6"> = 0.6L</tspan><tspan class="sb" dy="1.6">p</tspan></text>
<text x="237.5" y="212.0" class="lt">L<tspan class="sb" dy="1.6">f</tspan><tspan dy="-1.6"> = 0.8L</tspan><tspan class="sb" dy="1.6">p</tspan></text>
<text x="40.5" y="311.8" class="tl" text-anchor="middle">0</text>
<text x="83.0" y="311.8" class="tl" text-anchor="middle">10</text>
<text x="125.4" y="311.8" class="tl" text-anchor="middle">20</text>
<text x="167.9" y="311.8" class="tl" text-anchor="middle">30</text>
<text x="210.3" y="311.8" class="tl" text-anchor="middle">40</text>
<text x="252.8" y="311.8" class="tl" text-anchor="middle">50</text>
<text x="37.1" y="239.7" class="yt" text-anchor="end">0</text>
<text x="36.6" y="186.3" class="yt" text-anchor="end">5x10<tspan class="sp" dx="-0.5" dy="-2.8">-11</tspan></text>
<text x="36.6" y="213.0" class="yt" text-anchor="end">3x10<tspan class="sp" dx="-0.5" dy="-2.8">-11</tspan></text>
<text x="36.6" y="266.2" class="yt" text-anchor="end">-3x10<tspan class="sp" dx="-0.5" dy="-2.8">-11</tspan></text>
<text x="36.6" y="292.9" class="yt" text-anchor="end">-5x10<tspan class="sp" dx="-0.5" dy="-2.8">-11</tspan></text>
<text x="160.7" y="321.2" class="cap" text-anchor="middle">(c)</text>
<text transform="translate(11.9 234.1) rotate(-90)" class="yl" text-anchor="middle">Acceleration (g)</text>
<text x="501.3" y="180.5" class="lt">L<tspan class="sb" dy="1.6">f</tspan><tspan dy="-1.6"> = 0.2L</tspan><tspan class="sb" dy="1.6">p</tspan></text>
<text x="501.3" y="191.0" class="lt">L<tspan class="sb" dy="1.6">f</tspan><tspan dy="-1.6"> = 0.4L</tspan><tspan class="sb" dy="1.6">p</tspan></text>
<text x="501.3" y="201.5" class="lt">L<tspan class="sb" dy="1.6">f</tspan><tspan dy="-1.6"> = 0.6L</tspan><tspan class="sb" dy="1.6">p</tspan></text>
<text x="501.3" y="212.0" class="lt">L<tspan class="sb" dy="1.6">f</tspan><tspan dy="-1.6"> = 0.8L</tspan><tspan class="sb" dy="1.6">p</tspan></text>
<text x="307.0" y="311.8" class="tl" text-anchor="middle">0</text>
<text x="349.4" y="311.8" class="tl" text-anchor="middle">10</text>
<text x="391.9" y="311.8" class="tl" text-anchor="middle">20</text>
<text x="434.4" y="311.8" class="tl" text-anchor="middle">30</text>
<text x="476.8" y="311.8" class="tl" text-anchor="middle">40</text>
<text x="519.2" y="311.8" class="tl" text-anchor="middle">50</text>
<text x="303.6" y="239.7" class="yt" text-anchor="end">0</text>
<text x="303.1" y="188.8" class="yt" text-anchor="end">1x10<tspan class="sp" dx="-0.5" dy="-2.8">-10</tspan></text>
<text x="303.1" y="214.2" class="yt" text-anchor="end">5x10<tspan class="sp" dx="-0.5" dy="-2.8">-11</tspan></text>
<text x="303.1" y="265.0" class="yt" text-anchor="end">-5x10<tspan class="sp" dx="-0.5" dy="-2.8">-11</tspan></text>
<text x="303.1" y="290.4" class="yt" text-anchor="end">-1x10<tspan class="sp" dx="-0.5" dy="-2.8">-10</tspan></text>
<text x="427.2" y="321.2" class="cap" text-anchor="middle">(d)</text>
<text x="237.5" y="343.6" class="lt">L<tspan class="sb" dy="1.6">f</tspan><tspan dy="-1.6"> = 0.2L</tspan><tspan class="sb" dy="1.6">p</tspan></text>
<text x="237.5" y="354.1" class="lt">L<tspan class="sb" dy="1.6">f</tspan><tspan dy="-1.6"> = 0.4L</tspan><tspan class="sb" dy="1.6">p</tspan></text>
<text x="237.5" y="364.6" class="lt">L<tspan class="sb" dy="1.6">f</tspan><tspan dy="-1.6"> = 0.6L</tspan><tspan class="sb" dy="1.6">p</tspan></text>
<text x="237.5" y="375.1" class="lt">L<tspan class="sb" dy="1.6">f</tspan><tspan dy="-1.6"> = 0.8L</tspan><tspan class="sb" dy="1.6">p</tspan></text>
<text x="40.5" y="474.9" class="tl" text-anchor="middle">0</text>
<text x="83.0" y="474.9" class="tl" text-anchor="middle">10</text>
<text x="125.4" y="474.9" class="tl" text-anchor="middle">20</text>
<text x="167.9" y="474.9" class="tl" text-anchor="middle">30</text>
<text x="210.3" y="474.9" class="tl" text-anchor="middle">40</text>
<text x="252.8" y="474.9" class="tl" text-anchor="middle">50</text>
<text x="37.1" y="402.8" class="yt" text-anchor="end">0</text>
<text x="36.6" y="346.1" class="yt" text-anchor="end">2x10<tspan class="sp" dx="-0.5" dy="-2.8">-10</tspan></text>
<text x="36.6" y="374.4" class="yt" text-anchor="end">8x10<tspan class="sp" dx="-0.5" dy="-2.8">-11</tspan></text>
<text x="36.6" y="431.0" class="yt" text-anchor="end">-8x10<tspan class="sp" dx="-0.5" dy="-2.8">-11</tspan></text>
<text x="36.6" y="459.3" class="yt" text-anchor="end">-2x10<tspan class="sp" dx="-0.5" dy="-2.8">-10</tspan></text>
<text x="159.5" y="497.1" class="cap" text-anchor="middle">(e)</text>
<text transform="translate(10.8 397.2) rotate(-90)" class="yl" text-anchor="middle">Acceleration (g)</text>
<text x="158.1" y="486.3" class="xl" text-anchor="middle">Time (Sec)</text>
<text x="501.3" y="343.6" class="lt">L<tspan class="sb" dy="1.6">f</tspan><tspan dy="-1.6"> = 0.2L</tspan><tspan class="sb" dy="1.6">p</tspan></text>
<text x="501.3" y="354.1" class="lt">L<tspan class="sb" dy="1.6">f</tspan><tspan dy="-1.6"> = 0.4L</tspan><tspan class="sb" dy="1.6">p</tspan></text>
<text x="501.3" y="364.6" class="lt">L<tspan class="sb" dy="1.6">f</tspan><tspan dy="-1.6"> = 0.6L</tspan><tspan class="sb" dy="1.6">p</tspan></text>
<text x="501.3" y="375.1" class="lt">L<tspan class="sb" dy="1.6">f</tspan><tspan dy="-1.6"> = 0.8L</tspan><tspan class="sb" dy="1.6">p</tspan></text>
<text x="307.0" y="474.9" class="tl" text-anchor="middle">0</text>
<text x="349.4" y="474.9" class="tl" text-anchor="middle">10</text>
<text x="391.9" y="474.9" class="tl" text-anchor="middle">20</text>
<text x="434.4" y="474.9" class="tl" text-anchor="middle">30</text>
<text x="476.8" y="474.9" class="tl" text-anchor="middle">40</text>
<text x="519.2" y="474.9" class="tl" text-anchor="middle">50</text>
<text x="303.6" y="402.8" class="yt" text-anchor="end">0</text>
<text x="303.1" y="349.7" class="yt" text-anchor="end">8x10<tspan class="sp" dx="-0.5" dy="-2.8">-11</tspan></text>
<text x="303.1" y="376.2" class="yt" text-anchor="end">4x10<tspan class="sp" dx="-0.5" dy="-2.8">-11</tspan></text>
<text x="303.1" y="429.2" class="yt" text-anchor="end">-4x10<tspan class="sp" dx="-0.5" dy="-2.8">-11</tspan></text>
<text x="303.1" y="455.7" class="yt" text-anchor="end">-8x10<tspan class="sp" dx="-0.5" dy="-2.8">-11</tspan></text>
<text x="426.0" y="497.1" class="cap" text-anchor="middle">(f)</text>
<text x="424.6" y="486.3" class="xl" text-anchor="middle">Time (Sec)</text>
</svg></div>
</body></html>
